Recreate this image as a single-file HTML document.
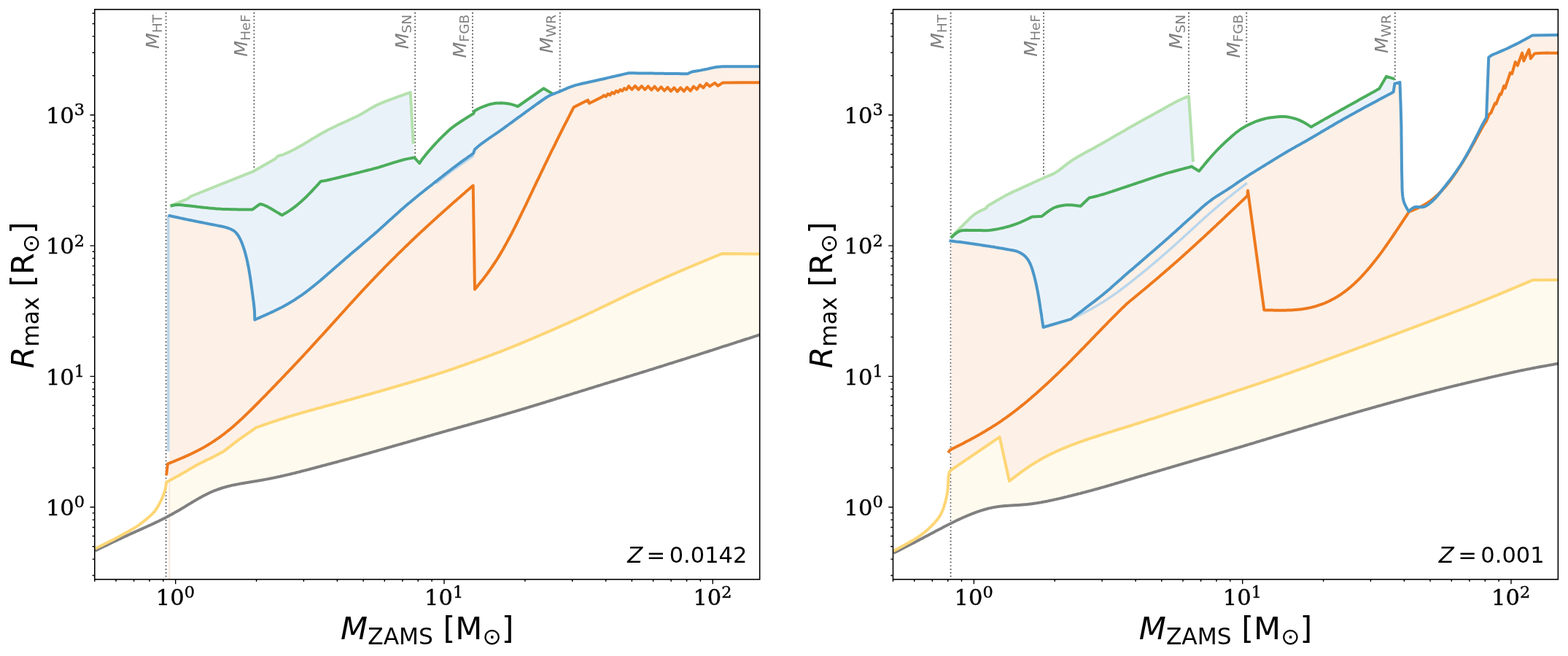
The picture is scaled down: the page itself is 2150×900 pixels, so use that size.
<!DOCTYPE html>
<html><head><meta charset="utf-8"><style>html,body{margin:0;padding:0;background:#fff;}svg{display:block}</style></head>
<body><svg width="2150" height="900" viewBox="0 0 2150 900">
<rect width="2150" height="900" fill="#fff"/>
<clipPath id="clip0"><rect x="129.8" y="13.0" width="911.9" height="781.9"/></clipPath>
<g clip-path="url(#clip0)">
<line x1="227.6" y1="17" x2="227.6" y2="795.0" stroke="#5a5a5a" stroke-width="1.9" stroke-dasharray="1.7,3.1"/>
<line x1="348.4" y1="17" x2="348.4" y2="234.6" stroke="#5a5a5a" stroke-width="1.9" stroke-dasharray="1.7,3.1"/>
<line x1="569.2" y1="17" x2="569.2" y2="216.9" stroke="#5a5a5a" stroke-width="1.9" stroke-dasharray="1.7,3.1"/>
<line x1="648.0" y1="17" x2="648.0" y2="156.6" stroke="#5a5a5a" stroke-width="1.9" stroke-dasharray="1.7,3.1"/>
<line x1="767.8" y1="17" x2="767.8" y2="125.3" stroke="#5a5a5a" stroke-width="1.9" stroke-dasharray="1.7,3.1"/>
<polygon points="231.5,659.7 232.4,659.2 235.3,657.7 238.4,656.0 241.7,654.2 245.1,652.4 248.2,650.6 250.9,649.1 253.6,647.5 256.4,645.9 259.2,644.2 262.0,642.6 264.8,640.9 267.6,639.3 270.4,637.8 273.2,636.3 276.2,634.8 279.1,633.4 282.0,631.9 284.9,630.5 287.7,629.2 290.3,627.9 292.7,626.7 296.3,624.8 299.7,623.0 302.8,621.3 305.3,619.9 307.1,618.9 308.9,617.5 311.4,615.6 314.3,613.3 317.5,610.9 320.7,608.4 323.6,606.2 326.0,604.4 329.0,602.2 331.2,600.6 333.3,599.1 336.0,597.3 338.4,595.6 341.2,593.6 344.2,591.6 347.0,589.6 349.4,587.9 351.1,586.7 352.6,586.2 354.1,585.6 355.6,585.1 357.1,584.6 358.6,584.1 360.1,583.5 361.6,583.0 363.1,582.5 364.6,582.0 366.1,581.4 367.6,580.9 369.1,580.4 370.6,579.9 372.1,579.4 373.6,578.9 375.2,578.4 376.7,577.9 378.2,577.4 379.7,576.9 381.2,576.4 382.7,575.9 384.2,575.4 385.7,574.9 387.2,574.4 388.7,574.0 390.2,573.5 391.7,573.0 393.2,572.5 394.7,572.1 396.2,571.6 397.7,571.2 399.2,570.7 400.7,570.2 402.2,569.8 403.7,569.3 405.2,568.9 406.7,568.5 408.2,568.0 409.7,567.6 411.2,567.1 412.7,566.7 414.2,566.3 415.7,565.8 417.2,565.4 418.7,565.0 420.3,564.6 421.8,564.1 423.3,563.7 424.8,563.3 426.3,562.9 427.8,562.5 429.3,562.1 430.8,561.6 432.3,561.2 433.8,560.8 435.3,560.4 436.8,560.0 438.3,559.6 439.8,559.2 441.3,558.8 442.8,558.3 444.3,557.9 445.8,557.5 447.3,557.1 448.8,556.7 450.3,556.3 451.8,555.9 453.3,555.5 454.8,555.1 456.3,554.7 457.8,554.3 459.3,553.9 460.8,553.4 462.3,553.0 463.8,552.6 465.4,552.2 466.9,551.8 468.4,551.4 469.9,551.0 471.4,550.6 472.9,550.2 474.4,549.7 475.9,549.3 477.4,548.9 478.9,548.5 480.4,548.1 481.9,547.7 483.4,547.3 484.9,546.8 486.4,546.4 487.9,546.0 489.4,545.6 490.9,545.2 492.4,544.8 493.9,544.3 495.4,543.9 496.9,543.5 498.4,543.1 499.9,542.7 501.4,542.2 502.9,541.8 504.4,541.4 505.9,541.0 507.4,540.5 508.9,540.1 510.4,539.7 512.0,539.3 513.5,538.8 515.0,538.4 516.5,538.0 518.0,537.5 519.5,537.1 521.0,536.7 522.5,536.3 524.0,535.8 525.5,535.4 527.0,535.0 528.5,534.5 530.0,534.1 531.5,533.7 533.0,533.2 534.5,532.8 536.0,532.4 537.5,531.9 539.0,531.5 540.5,531.0 542.0,530.6 543.5,530.2 545.0,529.7 546.5,529.3 548.0,528.9 549.5,528.4 551.0,528.0 552.5,527.5 554.0,527.1 555.5,526.6 557.1,526.2 558.6,525.8 560.1,525.3 561.6,524.9 563.1,524.4 564.6,524.0 566.1,523.5 567.6,523.1 569.1,522.6 570.6,522.2 572.1,521.7 573.6,521.3 575.1,520.8 576.6,520.4 578.1,519.9 579.6,519.4 581.1,519.0 582.6,518.5 584.1,518.1 585.6,517.6 587.1,517.1 588.6,516.7 590.1,516.2 591.6,515.7 593.1,515.2 594.6,514.8 596.1,514.3 597.6,513.8 599.1,513.3 600.6,512.8 602.2,512.3 603.7,511.8 605.2,511.4 606.7,510.9 608.2,510.4 609.7,509.9 611.2,509.4 612.7,508.9 614.2,508.4 615.7,507.9 617.2,507.3 618.7,506.8 620.2,506.3 621.7,505.8 623.2,505.3 624.7,504.8 626.2,504.2 627.7,503.7 629.2,503.2 630.7,502.7 632.2,502.2 633.7,501.6 635.2,501.1 636.7,500.6 638.2,500.0 639.7,499.5 641.2,499.0 642.7,498.4 644.2,497.9 645.7,497.4 647.2,496.8 648.8,496.3 650.3,495.7 651.8,495.2 653.3,494.6 654.8,494.1 656.3,493.5 657.8,493.0 659.3,492.5 660.8,491.9 662.3,491.3 663.8,490.8 665.3,490.2 666.8,489.7 668.3,489.1 669.8,488.6 671.3,488.0 672.8,487.4 674.3,486.9 675.8,486.3 677.3,485.7 678.8,485.2 680.3,484.6 681.8,484.0 683.3,483.4 684.8,482.9 686.3,482.3 687.8,481.7 689.3,481.1 690.8,480.5 692.3,479.9 693.9,479.3 695.4,478.7 696.9,478.2 698.4,477.6 699.9,477.0 701.4,476.3 702.9,475.7 704.4,475.1 705.9,474.5 707.4,473.9 708.9,473.3 710.4,472.7 711.9,472.1 713.4,471.4 714.9,470.8 716.4,470.2 717.9,469.6 719.4,468.9 720.9,468.3 722.4,467.7 723.9,467.0 725.4,466.4 726.9,465.8 728.4,465.1 729.9,464.5 731.4,463.8 732.9,463.2 734.4,462.6 735.9,461.9 737.4,461.3 738.9,460.6 740.5,460.0 742.0,459.3 743.5,458.7 745.0,458.0 746.5,457.4 748.0,456.7 749.5,456.1 751.0,455.4 752.5,454.8 754.0,454.1 755.5,453.5 757.0,452.8 758.5,452.2 760.0,451.5 761.5,450.8 763.0,450.2 764.5,449.5 766.0,448.9 767.5,448.2 769.0,447.6 770.5,446.9 772.0,446.2 773.5,445.6 775.0,444.9 776.5,444.2 778.0,443.6 779.5,442.9 781.0,442.2 782.5,441.5 784.0,440.9 785.6,440.2 787.1,439.5 788.6,438.8 790.1,438.2 791.6,437.5 793.1,436.8 794.6,436.1 796.1,435.4 797.6,434.7 799.1,434.0 800.6,433.3 802.1,432.6 803.6,431.9 805.1,431.2 806.6,430.5 808.1,429.8 809.6,429.1 811.1,428.4 812.6,427.7 814.1,427.0 815.6,426.2 817.1,425.5 818.6,424.8 820.1,424.1 821.6,423.4 823.1,422.6 824.6,421.9 826.1,421.2 827.6,420.5 829.1,419.8 830.7,419.0 832.2,418.3 833.7,417.6 835.2,416.9 836.7,416.1 838.2,415.4 839.7,414.7 841.2,414.0 842.7,413.2 844.2,412.5 845.7,411.8 847.2,411.1 848.7,410.4 850.2,409.6 851.7,408.9 853.2,408.2 854.7,407.5 856.2,406.8 857.7,406.1 859.2,405.3 860.7,404.6 862.2,403.9 863.7,403.2 865.2,402.5 866.7,401.8 868.2,401.1 869.7,400.4 871.2,399.7 872.7,399.0 874.2,398.3 875.7,397.6 877.3,396.9 878.8,396.2 880.3,395.5 881.8,394.8 883.3,394.1 884.8,393.4 886.3,392.7 887.8,392.0 889.3,391.3 890.8,390.6 892.3,389.9 893.8,389.2 895.3,388.5 896.8,387.9 898.3,387.2 899.8,386.5 901.3,385.8 902.8,385.1 904.3,384.4 905.8,383.8 907.3,383.1 908.8,382.4 910.3,381.7 911.8,381.1 913.3,380.4 914.8,379.7 916.3,379.1 917.8,378.4 919.3,377.7 920.8,377.1 922.4,376.4 923.9,375.8 925.4,375.1 926.9,374.5 928.4,373.8 929.9,373.2 931.4,372.5 932.9,371.9 934.4,371.2 935.9,370.6 937.4,369.9 938.9,369.3 940.4,368.6 941.9,368.0 943.4,367.4 944.9,366.7 946.4,366.1 947.9,365.5 949.4,364.8 950.9,364.2 952.4,363.6 953.9,362.9 955.4,362.3 956.9,361.7 958.4,361.0 959.9,360.4 961.4,359.8 962.9,359.2 964.4,358.5 965.9,357.9 967.5,357.3 969.0,356.7 970.5,356.0 972.0,355.4 973.5,354.8 975.0,354.2 976.5,353.6 978.0,352.9 979.5,352.3 981.0,351.7 982.5,351.1 984.0,350.5 985.5,349.9 987.0,349.2 988.5,348.6 990.0,348.0 1042.0,348.5 1042.0,459.2 1040.5,459.7 1039.0,460.2 1037.5,460.7 1036.0,461.1 1034.5,461.6 1033.0,462.1 1031.5,462.6 1030.0,463.1 1028.5,463.6 1027.0,464.1 1025.5,464.6 1024.0,465.0 1022.5,465.5 1021.0,466.0 1019.5,466.5 1018.0,467.0 1016.5,467.5 1015.0,468.0 1013.5,468.4 1012.0,468.9 1010.5,469.4 1009.0,469.9 1007.5,470.4 1006.0,470.9 1004.5,471.4 1002.9,471.8 1001.4,472.3 999.9,472.8 998.4,473.3 996.9,473.8 995.4,474.3 993.9,474.7 992.4,475.2 990.9,475.7 989.4,476.2 987.9,476.7 986.4,477.2 984.9,477.7 983.4,478.1 981.9,478.6 980.4,479.1 978.9,479.6 977.4,480.1 975.9,480.6 974.4,481.0 972.9,481.5 971.4,482.0 969.9,482.5 968.4,483.0 966.9,483.4 965.4,483.9 963.9,484.4 962.4,484.9 960.9,485.4 959.4,485.9 957.9,486.3 956.4,486.8 954.9,487.3 953.4,487.8 951.9,488.3 950.4,488.7 948.9,489.2 947.4,489.7 945.9,490.2 944.4,490.6 942.9,491.1 941.4,491.6 939.9,492.1 938.4,492.6 936.9,493.0 935.4,493.5 933.9,494.0 932.4,494.5 930.9,494.9 929.4,495.4 927.8,495.9 926.3,496.4 924.8,496.8 923.3,497.3 921.8,497.8 920.3,498.3 918.8,498.7 917.3,499.2 915.8,499.7 914.3,500.2 912.8,500.6 911.3,501.1 909.8,501.6 908.3,502.1 906.8,502.5 905.3,503.0 903.8,503.5 902.3,503.9 900.8,504.4 899.3,504.9 897.8,505.3 896.3,505.8 894.8,506.3 893.3,506.8 891.8,507.2 890.3,507.7 888.8,508.2 887.3,508.6 885.8,509.1 884.3,509.6 882.8,510.0 881.3,510.5 879.8,511.0 878.3,511.4 876.8,511.9 875.3,512.4 873.8,512.8 872.3,513.3 870.8,513.7 869.3,514.2 867.8,514.7 866.3,515.1 864.8,515.6 863.3,516.1 861.8,516.5 860.3,517.0 858.8,517.5 857.3,517.9 855.8,518.4 854.3,518.8 852.8,519.3 851.2,519.8 849.7,520.2 848.2,520.7 846.7,521.2 845.2,521.6 843.7,522.1 842.2,522.5 840.7,523.0 839.2,523.5 837.7,523.9 836.2,524.4 834.7,524.9 833.2,525.3 831.7,525.8 830.2,526.2 828.7,526.7 827.2,527.2 825.7,527.6 824.2,528.1 822.7,528.6 821.2,529.0 819.7,529.5 818.2,529.9 816.7,530.4 815.2,530.9 813.7,531.3 812.2,531.8 810.7,532.3 809.2,532.7 807.7,533.2 806.2,533.7 804.7,534.1 803.2,534.6 801.7,535.1 800.2,535.5 798.7,536.0 797.2,536.4 795.7,536.9 794.2,537.4 792.7,537.8 791.2,538.3 789.7,538.8 788.2,539.2 786.7,539.7 785.2,540.2 783.7,540.6 782.2,541.1 780.7,541.6 779.2,542.0 777.7,542.5 776.2,543.0 774.6,543.4 773.1,543.9 771.6,544.4 770.1,544.8 768.6,545.3 767.1,545.8 765.6,546.2 764.1,546.7 762.6,547.2 761.1,547.6 759.6,548.1 758.1,548.6 756.6,549.0 755.1,549.5 753.6,550.0 752.1,550.4 750.6,550.9 749.1,551.3 747.6,551.8 746.1,552.3 744.6,552.7 743.1,553.2 741.6,553.6 740.1,554.1 738.6,554.6 737.1,555.0 735.6,555.5 734.1,555.9 732.6,556.4 731.1,556.9 729.6,557.3 728.1,557.8 726.6,558.2 725.1,558.7 723.6,559.1 722.1,559.6 720.6,560.1 719.1,560.5 717.6,561.0 716.1,561.4 714.6,561.9 713.1,562.3 711.6,562.8 710.1,563.2 708.6,563.7 707.1,564.1 705.6,564.6 704.1,565.0 702.6,565.4 701.1,565.9 699.5,566.3 698.0,566.8 696.5,567.2 695.0,567.7 693.5,568.1 692.0,568.5 690.5,569.0 689.0,569.4 687.5,569.8 686.0,570.3 684.5,570.7 683.0,571.2 681.5,571.6 680.0,572.0 678.5,572.5 677.0,572.9 675.5,573.3 674.0,573.7 672.5,574.2 671.0,574.6 669.5,575.0 668.0,575.5 666.5,575.9 665.0,576.3 663.5,576.8 662.0,577.2 660.5,577.6 659.0,578.0 657.5,578.5 656.0,578.9 654.5,579.3 653.0,579.7 651.5,580.2 650.0,580.6 648.5,581.0 647.0,581.4 645.5,581.9 644.0,582.3 642.5,582.7 641.0,583.1 639.5,583.6 638.0,584.0 636.5,584.4 635.0,584.8 633.5,585.2 632.0,585.7 630.5,586.1 629.0,586.5 627.5,586.9 626.0,587.4 624.5,587.8 622.9,588.2 621.4,588.6 619.9,589.1 618.4,589.5 616.9,589.9 615.4,590.3 613.9,590.7 612.4,591.2 610.9,591.6 609.4,592.0 607.9,592.4 606.4,592.9 604.9,593.3 603.4,593.7 601.9,594.2 600.4,594.6 598.9,595.0 597.4,595.4 595.9,595.9 594.4,596.3 592.9,596.7 591.4,597.1 589.9,597.6 588.4,598.0 586.9,598.4 585.4,598.9 583.9,599.3 582.4,599.7 580.9,600.2 579.4,600.6 577.9,601.0 576.4,601.4 574.9,601.9 573.4,602.3 571.9,602.7 570.4,603.2 568.9,603.6 567.4,604.0 565.9,604.5 564.4,604.9 562.9,605.3 561.4,605.8 559.9,606.2 558.4,606.6 556.9,607.1 555.4,607.5 553.9,607.9 552.4,608.3 550.9,608.8 549.4,609.2 547.8,609.6 546.3,610.1 544.8,610.5 543.3,610.9 541.8,611.4 540.3,611.8 538.8,612.2 537.3,612.7 535.8,613.1 534.3,613.5 532.8,613.9 531.3,614.4 529.8,614.8 528.3,615.2 526.8,615.7 525.3,616.1 523.8,616.5 522.3,616.9 520.8,617.4 519.3,617.8 517.8,618.2 516.3,618.7 514.8,619.1 513.3,619.5 511.8,619.9 510.3,620.4 508.8,620.8 507.3,621.2 505.8,621.6 504.3,622.1 502.8,622.5 501.3,622.9 499.8,623.3 498.3,623.7 496.8,624.2 495.3,624.6 493.8,625.0 492.3,625.4 490.8,625.8 489.3,626.3 487.8,626.7 486.3,627.1 484.8,627.5 483.3,627.9 481.8,628.3 480.3,628.7 478.8,629.2 477.3,629.6 475.8,630.0 474.3,630.4 472.8,630.8 471.2,631.2 469.7,631.6 468.2,632.0 466.7,632.4 465.2,632.9 463.7,633.3 462.2,633.7 460.7,634.1 459.2,634.5 457.7,634.9 456.2,635.3 454.7,635.7 453.2,636.1 451.7,636.5 450.2,636.9 448.7,637.3 447.2,637.7 445.7,638.1 444.2,638.5 442.7,638.9 441.2,639.3 439.7,639.7 438.2,640.1 436.7,640.5 435.2,640.9 433.7,641.3 432.2,641.7 430.7,642.1 429.2,642.5 427.7,642.9 426.2,643.3 424.7,643.7 423.2,644.1 421.7,644.5 420.2,644.9 418.7,645.3 417.2,645.6 415.7,646.0 414.2,646.4 412.7,646.8 411.2,647.2 409.7,647.6 408.2,647.9 406.7,648.3 405.2,648.7 403.7,649.1 402.2,649.4 400.7,649.8 399.2,650.2 397.7,650.5 396.1,650.9 394.6,651.2 393.1,651.6 391.6,651.9 390.1,652.3 388.6,652.6 387.1,653.0 385.6,653.3 384.1,653.7 382.6,654.0 381.1,654.3 379.6,654.6 378.1,655.0 376.6,655.3 375.1,655.6 373.6,655.9 372.1,656.2 370.6,656.5 369.1,656.8 367.6,657.1 366.1,657.4 364.6,657.6 363.1,657.9 361.6,658.2 360.1,658.5 358.6,658.7 357.1,659.0 355.6,659.3 354.1,659.5 352.6,659.8 351.1,660.0 349.6,660.3 348.1,660.5 346.6,660.8 345.1,661.0 343.6,661.3 342.1,661.5 340.6,661.8 339.1,662.0 337.6,662.3 336.1,662.5 334.6,662.8 333.1,663.0 331.6,663.3 330.1,663.6 328.6,663.8 327.1,664.1 325.6,664.4 324.1,664.7 322.6,665.0 321.1,665.3 319.5,665.6 318.0,665.9 316.5,666.3 315.0,666.6 313.5,667.0 312.0,667.4 310.5,667.8 309.0,668.2 307.5,668.6 306.0,669.0 304.5,669.5 303.0,670.0 301.5,670.5 300.0,671.0 298.5,671.5 297.0,672.1 295.5,672.6 294.0,673.2 292.5,673.8 291.0,674.5 289.5,675.1 288.0,675.8 286.5,676.5 285.0,677.2 283.5,677.9 282.0,678.7 280.5,679.5 279.0,680.2 277.5,681.0 276.0,681.9 274.5,682.7 273.0,683.5 271.5,684.4 270.0,685.2 268.5,686.1 267.0,687.0 265.5,687.9 264.0,688.8 262.5,689.7 261.0,690.6 259.5,691.5 258.0,692.4 256.5,693.3 255.0,694.2 253.5,695.2 252.0,696.1 250.5,697.0 249.0,697.9 247.5,698.8 246.0,699.7 244.5,700.5 242.9,701.4 241.4,702.3 239.9,703.1 238.4,704.0 236.9,704.8 235.4,705.7 233.9,706.5 232.4,707.3 231.5,707.8" fill="#fffaee"/>
<polygon points="231.5,295.7 232.8,296.0 235.9,296.7 239.4,297.5 243.2,298.3 246.8,299.1 250.0,299.8 253.3,300.5 256.3,301.1 259.2,301.7 262.1,302.3 265.0,302.9 268.0,303.5 271.1,304.1 274.2,304.7 277.2,305.3 280.0,305.9 283.2,306.5 286.1,307.1 289.0,307.7 292.0,308.3 295.3,308.9 298.8,309.6 302.1,310.2 305.0,310.8 309.4,311.9 313.0,313.0 316.7,314.5 320.0,316.2 322.4,318.0 324.5,320.3 326.7,323.3 328.9,327.2 330.1,329.6 331.2,332.3 332.4,335.3 333.6,338.6 334.6,341.6 335.6,344.9 336.6,348.4 337.5,352.0 338.4,355.6 339.1,358.6 339.7,361.5 340.3,364.5 340.9,367.6 341.5,370.9 342.1,374.5 342.6,377.5 343.1,380.7 343.6,384.0 344.1,387.5 344.5,390.9 345.0,394.4 345.5,397.7 345.9,400.9 346.4,404.4 346.8,407.9 347.3,411.3 347.7,414.6 348.1,417.8 348.4,420.8 348.7,423.6 349.0,427.3 349.1,430.9 349.2,434.1 349.3,436.8 349.3,438.7 350.8,438.0 352.3,437.4 353.8,436.7 355.3,436.1 356.8,435.4 358.3,434.7 359.8,434.0 361.3,433.4 362.9,432.7 364.4,432.0 365.9,431.3 367.4,430.7 368.9,430.0 370.4,429.3 371.9,428.6 373.4,427.9 374.9,427.2 376.4,426.4 377.9,425.7 379.4,425.0 380.9,424.2 382.4,423.5 383.9,422.7 385.4,422.0 387.0,421.2 388.5,420.4 390.0,419.6 391.5,418.7 393.0,417.9 394.5,417.1 396.0,416.2 397.5,415.3 399.0,414.4 400.5,413.5 402.0,412.6 403.5,411.6 405.0,410.7 406.5,409.7 408.0,408.7 409.5,407.7 411.0,406.7 412.6,405.6 414.1,404.6 415.6,403.5 417.1,402.4 418.6,401.3 420.1,400.2 421.6,399.0 423.1,397.9 424.6,396.7 426.1,395.5 427.6,394.3 429.1,393.1 430.6,391.9 432.1,390.7 433.6,389.5 435.1,388.2 436.6,387.0 438.2,385.7 439.7,384.4 441.2,383.1 442.7,381.9 444.2,380.6 445.7,379.3 447.2,378.0 448.7,376.6 450.2,375.3 451.7,374.0 453.2,372.7 454.7,371.4 456.2,370.1 457.7,368.8 459.2,367.4 460.7,366.1 462.3,364.8 463.8,363.5 465.3,362.2 466.8,360.8 468.3,359.5 469.8,358.2 471.3,356.9 472.8,355.6 474.3,354.3 475.8,353.0 477.3,351.7 478.8,350.4 480.3,349.1 481.8,347.8 483.3,346.6 484.8,345.3 486.3,344.0 487.9,342.7 489.4,341.5 490.9,340.2 492.4,338.9 493.9,337.7 495.4,336.4 496.9,335.1 498.4,333.8 499.9,332.5 501.4,331.3 502.9,330.0 504.4,328.7 505.9,327.4 507.4,326.1 508.9,324.8 510.4,323.5 512.0,322.2 513.5,320.8 515.0,319.5 516.5,318.2 518.0,316.9 519.5,315.5 521.0,314.2 522.5,312.8 524.0,311.5 525.5,310.1 527.0,308.7 528.5,307.4 530.0,306.0 531.5,304.6 533.0,303.3 534.5,301.9 536.0,300.5 537.6,299.2 539.1,297.8 540.6,296.4 542.1,295.1 543.6,293.7 545.1,292.4 546.6,291.0 548.1,289.7 549.6,288.3 551.1,287.0 552.6,285.7 554.1,284.4 555.6,283.1 557.1,281.8 558.6,280.5 560.1,279.2 561.7,278.0 563.2,276.7 564.7,275.4 566.2,274.2 567.7,273.0 569.2,271.7 570.7,270.5 572.2,269.3 573.7,268.0 575.2,266.8 576.7,265.6 578.2,264.4 579.7,263.2 581.2,262.0 582.7,260.8 584.2,259.6 585.7,258.4 587.3,257.2 588.8,256.0 590.3,254.9 591.8,253.7 593.3,252.5 594.8,251.3 596.3,250.1 597.8,248.9 599.3,247.7 600.8,246.5 602.3,245.3 603.8,244.1 605.3,243.0 606.8,241.8 608.3,240.6 609.8,239.4 611.3,238.2 612.9,237.0 614.4,235.8 615.9,234.7 617.4,233.5 618.9,232.3 620.4,231.2 621.9,230.0 623.4,228.9 624.9,227.8 626.4,226.6 627.9,225.5 629.4,224.4 630.9,223.3 632.4,222.2 633.9,221.1 635.4,220.0 637.0,218.9 638.5,217.8 640.0,216.8 641.5,215.7 643.0,214.7 644.5,213.6 646.0,212.6 647.5,211.5 649.0,210.5 651.0,205.0 652.7,203.4 655.4,201.0 660.0,197.3 662.0,195.9 664.2,194.3 666.7,192.5 669.4,190.7 672.2,188.7 675.2,186.7 678.1,184.7 681.1,182.6 684.0,180.6 686.7,178.7 689.4,176.8 692.0,174.9 694.7,172.9 697.3,171.0 700.0,169.0 702.7,167.1 705.3,165.1 708.0,163.2 710.6,161.2 713.3,159.3 716.0,157.3 718.8,155.3 721.7,153.2 724.6,151.1 727.5,149.0 730.3,147.0 733.0,145.0 735.5,143.2 737.9,141.5 740.0,140.0 743.5,137.5 746.3,135.6 748.6,134.0 750.8,132.7 753.3,131.3 756.7,129.7 760.2,128.3 763.6,127.0 766.7,125.8 770.1,124.4 773.0,123.1 776.0,121.8 779.2,120.4 782.6,119.1 786.3,117.8 789.3,116.9 792.4,116.1 795.9,115.3 800.0,114.3 802.8,113.7 805.9,113.0 809.3,112.2 812.7,111.5 816.2,110.7 819.5,110.0 822.5,109.3 826.3,108.5 829.7,107.7 832.9,106.9 836.3,106.1 840.0,105.3 843.1,104.6 846.6,103.8 850.2,103.0 853.8,102.1 857.0,101.4 859.8,100.8 861.8,100.3 863.5,100.3 865.5,100.3 867.9,100.3 870.7,100.3 874.0,100.4 877.7,100.4 881.9,100.4 886.7,100.5 889.1,100.5 891.9,100.6 894.9,100.6 898.1,100.7 901.6,100.7 905.1,100.8 908.8,100.8 912.5,100.9 916.3,100.9 919.9,101.0 923.6,101.0 927.0,101.1 930.3,101.1 933.4,101.2 936.2,101.2 938.8,101.2 940.9,101.3 942.7,101.3 948.0,98.7 950.1,98.3 953.0,97.8 956.4,97.2 960.0,96.6 963.6,95.9 966.7,95.3 970.1,94.6 973.4,93.8 976.6,93.1 979.6,92.5 982.2,92.0 987.6,91.4 991.1,91.3 1042.0,91.3 1042.0,348.5 990.0,348.0 988.5,348.6 987.0,349.2 985.5,349.9 984.0,350.5 982.5,351.1 981.0,351.7 979.5,352.3 978.0,352.9 976.5,353.6 975.0,354.2 973.5,354.8 972.0,355.4 970.5,356.0 969.0,356.7 967.5,357.3 965.9,357.9 964.4,358.5 962.9,359.2 961.4,359.8 959.9,360.4 958.4,361.0 956.9,361.7 955.4,362.3 953.9,362.9 952.4,363.6 950.9,364.2 949.4,364.8 947.9,365.5 946.4,366.1 944.9,366.7 943.4,367.4 941.9,368.0 940.4,368.6 938.9,369.3 937.4,369.9 935.9,370.6 934.4,371.2 932.9,371.9 931.4,372.5 929.9,373.2 928.4,373.8 926.9,374.5 925.4,375.1 923.9,375.8 922.4,376.4 920.8,377.1 919.3,377.7 917.8,378.4 916.3,379.1 914.8,379.7 913.3,380.4 911.8,381.1 910.3,381.7 908.8,382.4 907.3,383.1 905.8,383.8 904.3,384.4 902.8,385.1 901.3,385.8 899.8,386.5 898.3,387.2 896.8,387.9 895.3,388.5 893.8,389.2 892.3,389.9 890.8,390.6 889.3,391.3 887.8,392.0 886.3,392.7 884.8,393.4 883.3,394.1 881.8,394.8 880.3,395.5 878.8,396.2 877.3,396.9 875.7,397.6 874.2,398.3 872.7,399.0 871.2,399.7 869.7,400.4 868.2,401.1 866.7,401.8 865.2,402.5 863.7,403.2 862.2,403.9 860.7,404.6 859.2,405.3 857.7,406.1 856.2,406.8 854.7,407.5 853.2,408.2 851.7,408.9 850.2,409.6 848.7,410.4 847.2,411.1 845.7,411.8 844.2,412.5 842.7,413.2 841.2,414.0 839.7,414.7 838.2,415.4 836.7,416.1 835.2,416.9 833.7,417.6 832.2,418.3 830.7,419.0 829.1,419.8 827.6,420.5 826.1,421.2 824.6,421.9 823.1,422.6 821.6,423.4 820.1,424.1 818.6,424.8 817.1,425.5 815.6,426.2 814.1,427.0 812.6,427.7 811.1,428.4 809.6,429.1 808.1,429.8 806.6,430.5 805.1,431.2 803.6,431.9 802.1,432.6 800.6,433.3 799.1,434.0 797.6,434.7 796.1,435.4 794.6,436.1 793.1,436.8 791.6,437.5 790.1,438.2 788.6,438.8 787.1,439.5 785.6,440.2 784.0,440.9 782.5,441.5 781.0,442.2 779.5,442.9 778.0,443.6 776.5,444.2 775.0,444.9 773.5,445.6 772.0,446.2 770.5,446.9 769.0,447.6 767.5,448.2 766.0,448.9 764.5,449.5 763.0,450.2 761.5,450.8 760.0,451.5 758.5,452.2 757.0,452.8 755.5,453.5 754.0,454.1 752.5,454.8 751.0,455.4 749.5,456.1 748.0,456.7 746.5,457.4 745.0,458.0 743.5,458.7 742.0,459.3 740.5,460.0 738.9,460.6 737.4,461.3 735.9,461.9 734.4,462.6 732.9,463.2 731.4,463.8 729.9,464.5 728.4,465.1 726.9,465.8 725.4,466.4 723.9,467.0 722.4,467.7 720.9,468.3 719.4,468.9 717.9,469.6 716.4,470.2 714.9,470.8 713.4,471.4 711.9,472.1 710.4,472.7 708.9,473.3 707.4,473.9 705.9,474.5 704.4,475.1 702.9,475.7 701.4,476.3 699.9,477.0 698.4,477.6 696.9,478.2 695.4,478.7 693.9,479.3 692.3,479.9 690.8,480.5 689.3,481.1 687.8,481.7 686.3,482.3 684.8,482.9 683.3,483.4 681.8,484.0 680.3,484.6 678.8,485.2 677.3,485.7 675.8,486.3 674.3,486.9 672.8,487.4 671.3,488.0 669.8,488.6 668.3,489.1 666.8,489.7 665.3,490.2 663.8,490.8 662.3,491.3 660.8,491.9 659.3,492.5 657.8,493.0 656.3,493.5 654.8,494.1 653.3,494.6 651.8,495.2 650.3,495.7 648.8,496.3 647.2,496.8 645.7,497.4 644.2,497.9 642.7,498.4 641.2,499.0 639.7,499.5 638.2,500.0 636.7,500.6 635.2,501.1 633.7,501.6 632.2,502.2 630.7,502.7 629.2,503.2 627.7,503.7 626.2,504.2 624.7,504.8 623.2,505.3 621.7,505.8 620.2,506.3 618.7,506.8 617.2,507.3 615.7,507.9 614.2,508.4 612.7,508.9 611.2,509.4 609.7,509.9 608.2,510.4 606.7,510.9 605.2,511.4 603.7,511.8 602.2,512.3 600.6,512.8 599.1,513.3 597.6,513.8 596.1,514.3 594.6,514.8 593.1,515.2 591.6,515.7 590.1,516.2 588.6,516.7 587.1,517.1 585.6,517.6 584.1,518.1 582.6,518.5 581.1,519.0 579.6,519.4 578.1,519.9 576.6,520.4 575.1,520.8 573.6,521.3 572.1,521.7 570.6,522.2 569.1,522.6 567.6,523.1 566.1,523.5 564.6,524.0 563.1,524.4 561.6,524.9 560.1,525.3 558.6,525.8 557.1,526.2 555.5,526.6 554.0,527.1 552.5,527.5 551.0,528.0 549.5,528.4 548.0,528.9 546.5,529.3 545.0,529.7 543.5,530.2 542.0,530.6 540.5,531.0 539.0,531.5 537.5,531.9 536.0,532.4 534.5,532.8 533.0,533.2 531.5,533.7 530.0,534.1 528.5,534.5 527.0,535.0 525.5,535.4 524.0,535.8 522.5,536.3 521.0,536.7 519.5,537.1 518.0,537.5 516.5,538.0 515.0,538.4 513.5,538.8 512.0,539.3 510.4,539.7 508.9,540.1 507.4,540.5 505.9,541.0 504.4,541.4 502.9,541.8 501.4,542.2 499.9,542.7 498.4,543.1 496.9,543.5 495.4,543.9 493.9,544.3 492.4,544.8 490.9,545.2 489.4,545.6 487.9,546.0 486.4,546.4 484.9,546.8 483.4,547.3 481.9,547.7 480.4,548.1 478.9,548.5 477.4,548.9 475.9,549.3 474.4,549.7 472.9,550.2 471.4,550.6 469.9,551.0 468.4,551.4 466.9,551.8 465.4,552.2 463.8,552.6 462.3,553.0 460.8,553.4 459.3,553.9 457.8,554.3 456.3,554.7 454.8,555.1 453.3,555.5 451.8,555.9 450.3,556.3 448.8,556.7 447.3,557.1 445.8,557.5 444.3,557.9 442.8,558.3 441.3,558.8 439.8,559.2 438.3,559.6 436.8,560.0 435.3,560.4 433.8,560.8 432.3,561.2 430.8,561.6 429.3,562.1 427.8,562.5 426.3,562.9 424.8,563.3 423.3,563.7 421.8,564.1 420.3,564.6 418.7,565.0 417.2,565.4 415.7,565.8 414.2,566.3 412.7,566.7 411.2,567.1 409.7,567.6 408.2,568.0 406.7,568.5 405.2,568.9 403.7,569.3 402.2,569.8 400.7,570.2 399.2,570.7 397.7,571.2 396.2,571.6 394.7,572.1 393.2,572.5 391.7,573.0 390.2,573.5 388.7,574.0 387.2,574.4 385.7,574.9 384.2,575.4 382.7,575.9 381.2,576.4 379.7,576.9 378.2,577.4 376.7,577.9 375.2,578.4 373.6,578.9 372.1,579.4 370.6,579.9 369.1,580.4 367.6,580.9 366.1,581.4 364.6,582.0 363.1,582.5 361.6,583.0 360.1,583.5 358.6,584.1 357.1,584.6 355.6,585.1 354.1,585.6 352.6,586.2 351.1,586.7 349.4,587.9 347.0,589.6 344.2,591.6 341.2,593.6 338.4,595.6 336.0,597.3 333.3,599.1 331.2,600.6 329.0,602.2 326.0,604.4 323.6,606.2 320.7,608.4 317.5,610.9 314.3,613.3 311.4,615.6 308.9,617.5 307.1,618.9 305.3,619.9 302.8,621.3 299.7,623.0 296.3,624.8 292.7,626.7 290.3,627.9 287.7,629.2 284.9,630.5 282.0,631.9 279.1,633.4 276.2,634.8 273.2,636.3 270.4,637.8 267.6,639.3 264.8,640.9 262.0,642.6 259.2,644.2 256.4,645.9 253.6,647.5 250.9,649.1 248.2,650.6 245.1,652.4 241.7,654.2 238.4,656.0 235.3,657.7 232.4,659.2 231.5,659.7" fill="#fdf0e6"/>
<polygon points="232.5,282.8 232.8,282.8 257.3,272.7 261.3,269.5 348.0,234.8 377.3,218.0 379.0,216.1 381.3,214.0 384.2,213.1 386.7,212.7 388.3,212.0 390.4,211.1 392.8,210.1 395.7,208.8 398.9,207.3 402.6,205.5 406.7,203.3 408.8,202.1 411.1,200.8 413.5,199.4 416.1,197.9 418.8,196.3 421.6,194.6 424.4,192.9 427.3,191.1 430.2,189.4 433.1,187.7 436.0,186.0 438.8,184.3 441.5,182.8 444.2,181.3 446.7,179.9 449.8,178.3 452.8,176.7 455.9,175.2 459.0,173.7 462.0,172.3 464.9,170.9 467.8,169.6 470.5,168.4 473.1,167.2 475.6,166.1 477.9,165.0 480.0,164.0 484.0,162.1 486.8,160.8 489.2,159.7 491.7,158.5 495.0,156.7 497.2,155.4 499.5,154.1 501.9,152.6 504.5,151.0 507.1,149.4 510.0,147.8 513.1,146.1 516.4,144.4 520.0,142.7 522.4,141.7 525.1,140.5 528.1,139.4 531.2,138.2 534.5,136.9 537.9,135.7 541.2,134.4 544.6,133.2 547.8,132.0 551.0,130.9 553.9,129.9 556.6,128.9 559.0,128.0 561.1,127.3 562.7,126.7 566.7,197.3 568.3,215.8 575.3,224.0 577.0,221.2 580.0,217.0 581.7,214.9 583.6,212.5 585.7,210.0 587.9,207.4 590.0,205.0 592.5,202.2 595.0,199.4 597.5,196.7 600.0,194.0 602.5,191.4 605.0,188.9 607.5,186.4 610.0,184.0 612.5,181.6 615.0,179.3 617.5,177.1 620.0,175.0 622.5,173.1 625.0,171.3 627.5,169.7 630.0,168.0 633.4,165.8 636.7,163.6 640.0,161.5 643.4,159.4 646.7,157.4 649.0,156.0 651.0,152.0 653.2,150.8 656.3,149.0 660.0,147.3 663.0,146.1 666.4,144.8 669.9,143.6 673.3,142.7 676.6,142.1 680.0,141.6 683.4,141.4 686.7,141.3 690.1,141.5 693.6,141.8 696.9,142.3 700.0,142.9 703.9,143.9 707.5,145.1 710.0,146.0 745.3,121.3 759.3,129.6 760.0,129.6 760.0,128.4 756.7,129.7 753.3,131.3 750.8,132.7 748.6,134.0 746.3,135.6 743.5,137.5 740.0,140.0 737.9,141.5 735.5,143.2 733.0,145.0 730.3,147.0 727.5,149.0 724.6,151.1 721.7,153.2 718.8,155.3 716.0,157.3 713.3,159.3 710.6,161.2 708.0,163.2 705.3,165.1 702.7,167.1 700.0,169.0 697.3,171.0 694.7,172.9 692.0,174.9 689.4,176.8 686.7,178.7 684.0,180.6 681.1,182.6 678.1,184.7 675.2,186.7 672.2,188.7 669.4,190.7 666.7,192.5 664.2,194.3 662.0,195.9 660.0,197.3 655.4,201.0 652.7,203.4 651.0,205.0 649.0,210.5 647.5,211.5 646.0,212.6 644.5,213.6 643.0,214.7 641.5,215.7 640.0,216.8 638.5,217.8 637.0,218.9 635.4,220.0 633.9,221.1 632.4,222.2 630.9,223.3 629.4,224.4 627.9,225.5 626.4,226.6 624.9,227.8 623.4,228.9 621.9,230.0 620.4,231.2 618.9,232.3 617.4,233.5 615.9,234.7 614.4,235.8 612.9,237.0 611.3,238.2 609.8,239.4 608.3,240.6 606.8,241.8 605.3,243.0 603.8,244.1 602.3,245.3 600.8,246.5 599.3,247.7 597.8,248.9 596.3,250.1 594.8,251.3 593.3,252.5 591.8,253.7 590.3,254.9 588.8,256.0 587.3,257.2 585.7,258.4 584.2,259.6 582.7,260.8 581.2,262.0 579.7,263.2 578.2,264.4 576.7,265.6 575.2,266.8 573.7,268.0 572.2,269.3 570.7,270.5 569.2,271.7 567.7,273.0 566.2,274.2 564.7,275.4 563.2,276.7 561.7,278.0 560.1,279.2 558.6,280.5 557.1,281.8 555.6,283.1 554.1,284.4 552.6,285.7 551.1,287.0 549.6,288.3 548.1,289.7 546.6,291.0 545.1,292.4 543.6,293.7 542.1,295.1 540.6,296.4 539.1,297.8 537.6,299.2 536.0,300.5 534.5,301.9 533.0,303.3 531.5,304.6 530.0,306.0 528.5,307.4 527.0,308.7 525.5,310.1 524.0,311.5 522.5,312.8 521.0,314.2 519.5,315.5 518.0,316.9 516.5,318.2 515.0,319.5 513.5,320.8 512.0,322.2 510.4,323.5 508.9,324.8 507.4,326.1 505.9,327.4 504.4,328.7 502.9,330.0 501.4,331.3 499.9,332.5 498.4,333.8 496.9,335.1 495.4,336.4 493.9,337.7 492.4,338.9 490.9,340.2 489.4,341.5 487.9,342.7 486.3,344.0 484.8,345.3 483.3,346.6 481.8,347.8 480.3,349.1 478.8,350.4 477.3,351.7 475.8,353.0 474.3,354.3 472.8,355.6 471.3,356.9 469.8,358.2 468.3,359.5 466.8,360.8 465.3,362.2 463.8,363.5 462.3,364.8 460.7,366.1 459.2,367.4 457.7,368.8 456.2,370.1 454.7,371.4 453.2,372.7 451.7,374.0 450.2,375.3 448.7,376.6 447.2,378.0 445.7,379.3 444.2,380.6 442.7,381.9 441.2,383.1 439.7,384.4 438.2,385.7 436.6,387.0 435.1,388.2 433.6,389.5 432.1,390.7 430.6,391.9 429.1,393.1 427.6,394.3 426.1,395.5 424.6,396.7 423.1,397.9 421.6,399.0 420.1,400.2 418.6,401.3 417.1,402.4 415.6,403.5 414.1,404.6 412.6,405.6 411.0,406.7 409.5,407.7 408.0,408.7 406.5,409.7 405.0,410.7 403.5,411.6 402.0,412.6 400.5,413.5 399.0,414.4 397.5,415.3 396.0,416.2 394.5,417.1 393.0,417.9 391.5,418.7 390.0,419.6 388.5,420.4 387.0,421.2 385.4,422.0 383.9,422.7 382.4,423.5 380.9,424.2 379.4,425.0 377.9,425.7 376.4,426.4 374.9,427.2 373.4,427.9 371.9,428.6 370.4,429.3 368.9,430.0 367.4,430.7 365.9,431.3 364.4,432.0 362.9,432.7 361.3,433.4 359.8,434.0 358.3,434.7 356.8,435.4 355.3,436.1 353.8,436.7 352.3,437.4 350.8,438.0 349.3,438.7 349.3,436.8 349.2,434.1 349.1,430.9 349.0,427.3 348.7,423.6 348.4,420.8 348.1,417.8 347.7,414.6 347.3,411.3 346.8,407.9 346.4,404.4 345.9,400.9 345.5,397.7 345.0,394.4 344.5,390.9 344.1,387.5 343.6,384.0 343.1,380.7 342.6,377.5 342.1,374.5 341.5,370.9 340.9,367.6 340.3,364.5 339.7,361.5 339.1,358.6 338.4,355.6 337.5,352.0 336.6,348.4 335.6,344.9 334.6,341.6 333.6,338.6 332.4,335.3 331.2,332.3 330.1,329.6 328.9,327.2 326.7,323.3 324.5,320.3 322.4,318.0 320.0,316.2 316.7,314.5 313.0,313.0 309.4,311.9 305.0,310.8 302.1,310.2 298.8,309.6 295.3,308.9 292.0,308.3 289.0,307.7 286.1,307.1 283.2,306.5 280.0,305.9 277.2,305.3 274.2,304.7 271.1,304.1 268.0,303.5 265.0,302.9 262.1,302.3 259.2,301.7 256.3,301.1 253.3,300.5 250.0,299.8 246.8,299.1 243.2,298.3 239.4,297.5 235.9,296.7 232.8,296.0 232.5,295.9" fill="#eaf2f9"/>
<line x1="232.3" y1="660" x2="232.3" y2="795" stroke="#f6e6da" stroke-width="2"/>
<path d="M230.8,295.3 L230.8,619.3" fill="none" stroke="#b9d6ec" stroke-width="3.40" stroke-linejoin="round" stroke-linecap="butt"/>
<path d="M598.0,251.5 L620.0,234.0 L649.5,213.5" fill="none" stroke="#b9d6ec" stroke-width="3.40" stroke-linejoin="round" stroke-linecap="butt"/>
<path d="M130.3,755.7 L131.8,755.0 L133.3,754.2 L134.8,753.5 L136.3,752.8 L137.8,752.0 L139.3,751.3 L140.8,750.6 L142.3,749.8 L143.8,749.1 L145.3,748.4 L146.8,747.7 L148.3,746.9 L149.8,746.2 L151.3,745.5 L152.8,744.8 L154.3,744.0 L155.8,743.3 L157.3,742.6 L158.8,741.9 L160.3,741.2 L161.8,740.5 L163.3,739.8 L164.8,739.1 L166.3,738.4 L167.8,737.7 L169.4,737.0 L170.9,736.3 L172.4,735.6 L173.9,734.9 L175.4,734.2 L176.9,733.5 L178.4,732.8 L179.9,732.1 L181.4,731.4 L182.9,730.8 L184.4,730.1 L185.9,729.4 L187.4,728.7 L188.9,728.1 L190.4,727.4 L191.9,726.7 L193.4,726.1 L194.9,725.4 L196.4,724.7 L197.9,724.0 L199.4,723.4 L200.9,722.7 L202.4,722.0 L203.9,721.3 L205.4,720.6 L206.9,720.0 L208.4,719.3 L209.9,718.6 L211.4,717.9 L212.9,717.1 L214.4,716.4 L215.9,715.7 L217.4,715.0 L218.9,714.3 L220.4,713.5 L221.9,712.8 L223.4,712.0 L224.9,711.2 L226.4,710.5 L227.9,709.7 L229.4,708.9 L230.9,708.1 L232.4,707.3 L233.9,706.5 L235.4,705.7 L236.9,704.8 L238.4,704.0 L239.9,703.1 L241.4,702.3 L242.9,701.4 L244.5,700.5 L246.0,699.7 L247.5,698.8 L249.0,697.9 L250.5,697.0 L252.0,696.1 L253.5,695.2 L255.0,694.2 L256.5,693.3 L258.0,692.4 L259.5,691.5 L261.0,690.6 L262.5,689.7 L264.0,688.8 L265.5,687.9 L267.0,687.0 L268.5,686.1 L270.0,685.2 L271.5,684.4 L273.0,683.5 L274.5,682.7 L276.0,681.9 L277.5,681.0 L279.0,680.2 L280.5,679.5 L282.0,678.7 L283.5,677.9 L285.0,677.2 L286.5,676.5 L288.0,675.8 L289.5,675.1 L291.0,674.5 L292.5,673.8 L294.0,673.2 L295.5,672.6 L297.0,672.1 L298.5,671.5 L300.0,671.0 L301.5,670.5 L303.0,670.0 L304.5,669.5 L306.0,669.0 L307.5,668.6 L309.0,668.2 L310.5,667.8 L312.0,667.4 L313.5,667.0 L315.0,666.6 L316.5,666.3 L318.0,665.9 L319.5,665.6 L321.1,665.3 L322.6,665.0 L324.1,664.7 L325.6,664.4 L327.1,664.1 L328.6,663.8 L330.1,663.6 L331.6,663.3 L333.1,663.0 L334.6,662.8 L336.1,662.5 L337.6,662.3 L339.1,662.0 L340.6,661.8 L342.1,661.5 L343.6,661.3 L345.1,661.0 L346.6,660.8 L348.1,660.5 L349.6,660.3 L351.1,660.0 L352.6,659.8 L354.1,659.5 L355.6,659.3 L357.1,659.0 L358.6,658.7 L360.1,658.5 L361.6,658.2 L363.1,657.9 L364.6,657.6 L366.1,657.4 L367.6,657.1 L369.1,656.8 L370.6,656.5 L372.1,656.2 L373.6,655.9 L375.1,655.6 L376.6,655.3 L378.1,655.0 L379.6,654.6 L381.1,654.3 L382.6,654.0 L384.1,653.7 L385.6,653.3 L387.1,653.0 L388.6,652.6 L390.1,652.3 L391.6,651.9 L393.1,651.6 L394.6,651.2 L396.1,650.9 L397.7,650.5 L399.2,650.2 L400.7,649.8 L402.2,649.4 L403.7,649.1 L405.2,648.7 L406.7,648.3 L408.2,647.9 L409.7,647.6 L411.2,647.2 L412.7,646.8 L414.2,646.4 L415.7,646.0 L417.2,645.6 L418.7,645.3 L420.2,644.9 L421.7,644.5 L423.2,644.1 L424.7,643.7 L426.2,643.3 L427.7,642.9 L429.2,642.5 L430.7,642.1 L432.2,641.7 L433.7,641.3 L435.2,640.9 L436.7,640.5 L438.2,640.1 L439.7,639.7 L441.2,639.3 L442.7,638.9 L444.2,638.5 L445.7,638.1 L447.2,637.7 L448.7,637.3 L450.2,636.9 L451.7,636.5 L453.2,636.1 L454.7,635.7 L456.2,635.3 L457.7,634.9 L459.2,634.5 L460.7,634.1 L462.2,633.7 L463.7,633.3 L465.2,632.9 L466.7,632.4 L468.2,632.0 L469.7,631.6 L471.2,631.2 L472.8,630.8 L474.3,630.4 L475.8,630.0 L477.3,629.6 L478.8,629.2 L480.3,628.7 L481.8,628.3 L483.3,627.9 L484.8,627.5 L486.3,627.1 L487.8,626.7 L489.3,626.3 L490.8,625.8 L492.3,625.4 L493.8,625.0 L495.3,624.6 L496.8,624.2 L498.3,623.7 L499.8,623.3 L501.3,622.9 L502.8,622.5 L504.3,622.1 L505.8,621.6 L507.3,621.2 L508.8,620.8 L510.3,620.4 L511.8,619.9 L513.3,619.5 L514.8,619.1 L516.3,618.7 L517.8,618.2 L519.3,617.8 L520.8,617.4 L522.3,616.9 L523.8,616.5 L525.3,616.1 L526.8,615.7 L528.3,615.2 L529.8,614.8 L531.3,614.4 L532.8,613.9 L534.3,613.5 L535.8,613.1 L537.3,612.7 L538.8,612.2 L540.3,611.8 L541.8,611.4 L543.3,610.9 L544.8,610.5 L546.3,610.1 L547.8,609.6 L549.4,609.2 L550.9,608.8 L552.4,608.3 L553.9,607.9 L555.4,607.5 L556.9,607.1 L558.4,606.6 L559.9,606.2 L561.4,605.8 L562.9,605.3 L564.4,604.9 L565.9,604.5 L567.4,604.0 L568.9,603.6 L570.4,603.2 L571.9,602.7 L573.4,602.3 L574.9,601.9 L576.4,601.4 L577.9,601.0 L579.4,600.6 L580.9,600.2 L582.4,599.7 L583.9,599.3 L585.4,598.9 L586.9,598.4 L588.4,598.0 L589.9,597.6 L591.4,597.1 L592.9,596.7 L594.4,596.3 L595.9,595.9 L597.4,595.4 L598.9,595.0 L600.4,594.6 L601.9,594.2 L603.4,593.7 L604.9,593.3 L606.4,592.9 L607.9,592.4 L609.4,592.0 L610.9,591.6 L612.4,591.2 L613.9,590.7 L615.4,590.3 L616.9,589.9 L618.4,589.5 L619.9,589.1 L621.4,588.6 L622.9,588.2 L624.5,587.8 L626.0,587.4 L627.5,586.9 L629.0,586.5 L630.5,586.1 L632.0,585.7 L633.5,585.2 L635.0,584.8 L636.5,584.4 L638.0,584.0 L639.5,583.6 L641.0,583.1 L642.5,582.7 L644.0,582.3 L645.5,581.9 L647.0,581.4 L648.5,581.0 L650.0,580.6 L651.5,580.2 L653.0,579.7 L654.5,579.3 L656.0,578.9 L657.5,578.5 L659.0,578.0 L660.5,577.6 L662.0,577.2 L663.5,576.8 L665.0,576.3 L666.5,575.9 L668.0,575.5 L669.5,575.0 L671.0,574.6 L672.5,574.2 L674.0,573.7 L675.5,573.3 L677.0,572.9 L678.5,572.5 L680.0,572.0 L681.5,571.6 L683.0,571.2 L684.5,570.7 L686.0,570.3 L687.5,569.8 L689.0,569.4 L690.5,569.0 L692.0,568.5 L693.5,568.1 L695.0,567.7 L696.5,567.2 L698.0,566.8 L699.5,566.3 L701.1,565.9 L702.6,565.4 L704.1,565.0 L705.6,564.6 L707.1,564.1 L708.6,563.7 L710.1,563.2 L711.6,562.8 L713.1,562.3 L714.6,561.9 L716.1,561.4 L717.6,561.0 L719.1,560.5 L720.6,560.1 L722.1,559.6 L723.6,559.1 L725.1,558.7 L726.6,558.2 L728.1,557.8 L729.6,557.3 L731.1,556.9 L732.6,556.4 L734.1,555.9 L735.6,555.5 L737.1,555.0 L738.6,554.6 L740.1,554.1 L741.6,553.6 L743.1,553.2 L744.6,552.7 L746.1,552.3 L747.6,551.8 L749.1,551.3 L750.6,550.9 L752.1,550.4 L753.6,550.0 L755.1,549.5 L756.6,549.0 L758.1,548.6 L759.6,548.1 L761.1,547.6 L762.6,547.2 L764.1,546.7 L765.6,546.2 L767.1,545.8 L768.6,545.3 L770.1,544.8 L771.6,544.4 L773.1,543.9 L774.6,543.4 L776.2,543.0 L777.7,542.5 L779.2,542.0 L780.7,541.6 L782.2,541.1 L783.7,540.6 L785.2,540.2 L786.7,539.7 L788.2,539.2 L789.7,538.8 L791.2,538.3 L792.7,537.8 L794.2,537.4 L795.7,536.9 L797.2,536.4 L798.7,536.0 L800.2,535.5 L801.7,535.1 L803.2,534.6 L804.7,534.1 L806.2,533.7 L807.7,533.2 L809.2,532.7 L810.7,532.3 L812.2,531.8 L813.7,531.3 L815.2,530.9 L816.7,530.4 L818.2,529.9 L819.7,529.5 L821.2,529.0 L822.7,528.6 L824.2,528.1 L825.7,527.6 L827.2,527.2 L828.7,526.7 L830.2,526.2 L831.7,525.8 L833.2,525.3 L834.7,524.9 L836.2,524.4 L837.7,523.9 L839.2,523.5 L840.7,523.0 L842.2,522.5 L843.7,522.1 L845.2,521.6 L846.7,521.2 L848.2,520.7 L849.7,520.2 L851.2,519.8 L852.8,519.3 L854.3,518.8 L855.8,518.4 L857.3,517.9 L858.8,517.5 L860.3,517.0 L861.8,516.5 L863.3,516.1 L864.8,515.6 L866.3,515.1 L867.8,514.7 L869.3,514.2 L870.8,513.7 L872.3,513.3 L873.8,512.8 L875.3,512.4 L876.8,511.9 L878.3,511.4 L879.8,511.0 L881.3,510.5 L882.8,510.0 L884.3,509.6 L885.8,509.1 L887.3,508.6 L888.8,508.2 L890.3,507.7 L891.8,507.2 L893.3,506.8 L894.8,506.3 L896.3,505.8 L897.8,505.3 L899.3,504.9 L900.8,504.4 L902.3,503.9 L903.8,503.5 L905.3,503.0 L906.8,502.5 L908.3,502.1 L909.8,501.6 L911.3,501.1 L912.8,500.6 L914.3,500.2 L915.8,499.7 L917.3,499.2 L918.8,498.7 L920.3,498.3 L921.8,497.8 L923.3,497.3 L924.8,496.8 L926.3,496.4 L927.8,495.9 L929.4,495.4 L930.9,494.9 L932.4,494.5 L933.9,494.0 L935.4,493.5 L936.9,493.0 L938.4,492.6 L939.9,492.1 L941.4,491.6 L942.9,491.1 L944.4,490.6 L945.9,490.2 L947.4,489.7 L948.9,489.2 L950.4,488.7 L951.9,488.3 L953.4,487.8 L954.9,487.3 L956.4,486.8 L957.9,486.3 L959.4,485.9 L960.9,485.4 L962.4,484.9 L963.9,484.4 L965.4,483.9 L966.9,483.4 L968.4,483.0 L969.9,482.5 L971.4,482.0 L972.9,481.5 L974.4,481.0 L975.9,480.6 L977.4,480.1 L978.9,479.6 L980.4,479.1 L981.9,478.6 L983.4,478.1 L984.9,477.7 L986.4,477.2 L987.9,476.7 L989.4,476.2 L990.9,475.7 L992.4,475.2 L993.9,474.7 L995.4,474.3 L996.9,473.8 L998.4,473.3 L999.9,472.8 L1001.4,472.3 L1002.9,471.8 L1004.5,471.4 L1006.0,470.9 L1007.5,470.4 L1009.0,469.9 L1010.5,469.4 L1012.0,468.9 L1013.5,468.4 L1015.0,468.0 L1016.5,467.5 L1018.0,467.0 L1019.5,466.5 L1021.0,466.0 L1022.5,465.5 L1024.0,465.0 L1025.5,464.6 L1027.0,464.1 L1028.5,463.6 L1030.0,463.1 L1031.5,462.6 L1033.0,462.1 L1034.5,461.6 L1036.0,461.1 L1037.5,460.7 L1039.0,460.2 L1040.5,459.7 L1042.0,459.2" fill="none" stroke="#808080" stroke-width="4.00" stroke-linejoin="round" stroke-linecap="butt"/>
<path d="M130.3,752.8 L132.1,751.9 L134.4,750.8 L137.2,749.5 L140.3,747.9 L143.6,746.3 L147.1,744.6 L150.5,742.8 L153.9,741.1 L156.6,739.7 L159.6,738.1 L162.6,736.5 L165.8,734.8 L168.9,733.1 L172.0,731.3 L175.0,729.7 L177.9,728.1 L180.5,726.6 L182.8,725.2 L186.6,722.9 L189.6,720.9 L192.1,719.1 L194.6,717.2 L197.2,715.1 L199.7,713.1 L202.2,711.0 L204.8,708.9 L207.2,706.6 L209.5,704.4 L211.6,702.1 L213.8,699.3 L215.6,696.4 L217.3,693.5 L218.8,690.6 L220.3,687.7 L221.7,684.8 L223.0,681.8 L224.2,678.8 L225.2,675.9 L226.1,673.2 L227.2,668.7 L227.8,664.4 L228.2,661.5 L230.0,660.5 L232.4,659.2 L235.3,657.7 L238.4,656.0 L241.7,654.2 L245.1,652.4 L248.2,650.6 L250.9,649.1 L253.6,647.5 L256.4,645.9 L259.2,644.2 L262.0,642.6 L264.8,640.9 L267.6,639.3 L270.4,637.8 L273.2,636.3 L276.2,634.8 L279.1,633.4 L282.0,631.9 L284.9,630.5 L287.7,629.2 L290.3,627.9 L292.7,626.7 L296.3,624.8 L299.7,623.0 L302.8,621.3 L305.3,619.9 L307.1,618.9 L308.9,617.5 L311.4,615.6 L314.3,613.3 L317.5,610.9 L320.7,608.4 L323.6,606.2 L326.0,604.4 L329.0,602.2 L331.2,600.6 L333.3,599.1 L336.0,597.3 L338.4,595.6 L341.2,593.6 L344.2,591.6 L347.0,589.6 L349.4,587.9 L351.1,586.7 L352.6,586.2 L354.1,585.6 L355.6,585.1 L357.1,584.6 L358.6,584.1 L360.1,583.5 L361.6,583.0 L363.1,582.5 L364.6,582.0 L366.1,581.4 L367.6,580.9 L369.1,580.4 L370.6,579.9 L372.1,579.4 L373.6,578.9 L375.2,578.4 L376.7,577.9 L378.2,577.4 L379.7,576.9 L381.2,576.4 L382.7,575.9 L384.2,575.4 L385.7,574.9 L387.2,574.4 L388.7,574.0 L390.2,573.5 L391.7,573.0 L393.2,572.5 L394.7,572.1 L396.2,571.6 L397.7,571.2 L399.2,570.7 L400.7,570.2 L402.2,569.8 L403.7,569.3 L405.2,568.9 L406.7,568.5 L408.2,568.0 L409.7,567.6 L411.2,567.1 L412.7,566.7 L414.2,566.3 L415.7,565.8 L417.2,565.4 L418.7,565.0 L420.3,564.6 L421.8,564.1 L423.3,563.7 L424.8,563.3 L426.3,562.9 L427.8,562.5 L429.3,562.1 L430.8,561.6 L432.3,561.2 L433.8,560.8 L435.3,560.4 L436.8,560.0 L438.3,559.6 L439.8,559.2 L441.3,558.8 L442.8,558.3 L444.3,557.9 L445.8,557.5 L447.3,557.1 L448.8,556.7 L450.3,556.3 L451.8,555.9 L453.3,555.5 L454.8,555.1 L456.3,554.7 L457.8,554.3 L459.3,553.9 L460.8,553.4 L462.3,553.0 L463.8,552.6 L465.4,552.2 L466.9,551.8 L468.4,551.4 L469.9,551.0 L471.4,550.6 L472.9,550.2 L474.4,549.7 L475.9,549.3 L477.4,548.9 L478.9,548.5 L480.4,548.1 L481.9,547.7 L483.4,547.3 L484.9,546.8 L486.4,546.4 L487.9,546.0 L489.4,545.6 L490.9,545.2 L492.4,544.8 L493.9,544.3 L495.4,543.9 L496.9,543.5 L498.4,543.1 L499.9,542.7 L501.4,542.2 L502.9,541.8 L504.4,541.4 L505.9,541.0 L507.4,540.5 L508.9,540.1 L510.4,539.7 L512.0,539.3 L513.5,538.8 L515.0,538.4 L516.5,538.0 L518.0,537.5 L519.5,537.1 L521.0,536.7 L522.5,536.3 L524.0,535.8 L525.5,535.4 L527.0,535.0 L528.5,534.5 L530.0,534.1 L531.5,533.7 L533.0,533.2 L534.5,532.8 L536.0,532.4 L537.5,531.9 L539.0,531.5 L540.5,531.0 L542.0,530.6 L543.5,530.2 L545.0,529.7 L546.5,529.3 L548.0,528.9 L549.5,528.4 L551.0,528.0 L552.5,527.5 L554.0,527.1 L555.5,526.6 L557.1,526.2 L558.6,525.8 L560.1,525.3 L561.6,524.9 L563.1,524.4 L564.6,524.0 L566.1,523.5 L567.6,523.1 L569.1,522.6 L570.6,522.2 L572.1,521.7 L573.6,521.3 L575.1,520.8 L576.6,520.4 L578.1,519.9 L579.6,519.4 L581.1,519.0 L582.6,518.5 L584.1,518.1 L585.6,517.6 L587.1,517.1 L588.6,516.7 L590.1,516.2 L591.6,515.7 L593.1,515.2 L594.6,514.8 L596.1,514.3 L597.6,513.8 L599.1,513.3 L600.6,512.8 L602.2,512.3 L603.7,511.8 L605.2,511.4 L606.7,510.9 L608.2,510.4 L609.7,509.9 L611.2,509.4 L612.7,508.9 L614.2,508.4 L615.7,507.9 L617.2,507.3 L618.7,506.8 L620.2,506.3 L621.7,505.8 L623.2,505.3 L624.7,504.8 L626.2,504.2 L627.7,503.7 L629.2,503.2 L630.7,502.7 L632.2,502.2 L633.7,501.6 L635.2,501.1 L636.7,500.6 L638.2,500.0 L639.7,499.5 L641.2,499.0 L642.7,498.4 L644.2,497.9 L645.7,497.4 L647.2,496.8 L648.8,496.3 L650.3,495.7 L651.8,495.2 L653.3,494.6 L654.8,494.1 L656.3,493.5 L657.8,493.0 L659.3,492.5 L660.8,491.9 L662.3,491.3 L663.8,490.8 L665.3,490.2 L666.8,489.7 L668.3,489.1 L669.8,488.6 L671.3,488.0 L672.8,487.4 L674.3,486.9 L675.8,486.3 L677.3,485.7 L678.8,485.2 L680.3,484.6 L681.8,484.0 L683.3,483.4 L684.8,482.9 L686.3,482.3 L687.8,481.7 L689.3,481.1 L690.8,480.5 L692.3,479.9 L693.9,479.3 L695.4,478.7 L696.9,478.2 L698.4,477.6 L699.9,477.0 L701.4,476.3 L702.9,475.7 L704.4,475.1 L705.9,474.5 L707.4,473.9 L708.9,473.3 L710.4,472.7 L711.9,472.1 L713.4,471.4 L714.9,470.8 L716.4,470.2 L717.9,469.6 L719.4,468.9 L720.9,468.3 L722.4,467.7 L723.9,467.0 L725.4,466.4 L726.9,465.8 L728.4,465.1 L729.9,464.5 L731.4,463.8 L732.9,463.2 L734.4,462.6 L735.9,461.9 L737.4,461.3 L738.9,460.6 L740.5,460.0 L742.0,459.3 L743.5,458.7 L745.0,458.0 L746.5,457.4 L748.0,456.7 L749.5,456.1 L751.0,455.4 L752.5,454.8 L754.0,454.1 L755.5,453.5 L757.0,452.8 L758.5,452.2 L760.0,451.5 L761.5,450.8 L763.0,450.2 L764.5,449.5 L766.0,448.9 L767.5,448.2 L769.0,447.6 L770.5,446.9 L772.0,446.2 L773.5,445.6 L775.0,444.9 L776.5,444.2 L778.0,443.6 L779.5,442.9 L781.0,442.2 L782.5,441.5 L784.0,440.9 L785.6,440.2 L787.1,439.5 L788.6,438.8 L790.1,438.2 L791.6,437.5 L793.1,436.8 L794.6,436.1 L796.1,435.4 L797.6,434.7 L799.1,434.0 L800.6,433.3 L802.1,432.6 L803.6,431.9 L805.1,431.2 L806.6,430.5 L808.1,429.8 L809.6,429.1 L811.1,428.4 L812.6,427.7 L814.1,427.0 L815.6,426.2 L817.1,425.5 L818.6,424.8 L820.1,424.1 L821.6,423.4 L823.1,422.6 L824.6,421.9 L826.1,421.2 L827.6,420.5 L829.1,419.8 L830.7,419.0 L832.2,418.3 L833.7,417.6 L835.2,416.9 L836.7,416.1 L838.2,415.4 L839.7,414.7 L841.2,414.0 L842.7,413.2 L844.2,412.5 L845.7,411.8 L847.2,411.1 L848.7,410.4 L850.2,409.6 L851.7,408.9 L853.2,408.2 L854.7,407.5 L856.2,406.8 L857.7,406.1 L859.2,405.3 L860.7,404.6 L862.2,403.9 L863.7,403.2 L865.2,402.5 L866.7,401.8 L868.2,401.1 L869.7,400.4 L871.2,399.7 L872.7,399.0 L874.2,398.3 L875.7,397.6 L877.3,396.9 L878.8,396.2 L880.3,395.5 L881.8,394.8 L883.3,394.1 L884.8,393.4 L886.3,392.7 L887.8,392.0 L889.3,391.3 L890.8,390.6 L892.3,389.9 L893.8,389.2 L895.3,388.5 L896.8,387.9 L898.3,387.2 L899.8,386.5 L901.3,385.8 L902.8,385.1 L904.3,384.4 L905.8,383.8 L907.3,383.1 L908.8,382.4 L910.3,381.7 L911.8,381.1 L913.3,380.4 L914.8,379.7 L916.3,379.1 L917.8,378.4 L919.3,377.7 L920.8,377.1 L922.4,376.4 L923.9,375.8 L925.4,375.1 L926.9,374.5 L928.4,373.8 L929.9,373.2 L931.4,372.5 L932.9,371.9 L934.4,371.2 L935.9,370.6 L937.4,369.9 L938.9,369.3 L940.4,368.6 L941.9,368.0 L943.4,367.4 L944.9,366.7 L946.4,366.1 L947.9,365.5 L949.4,364.8 L950.9,364.2 L952.4,363.6 L953.9,362.9 L955.4,362.3 L956.9,361.7 L958.4,361.0 L959.9,360.4 L961.4,359.8 L962.9,359.2 L964.4,358.5 L965.9,357.9 L967.5,357.3 L969.0,356.7 L970.5,356.0 L972.0,355.4 L973.5,354.8 L975.0,354.2 L976.5,353.6 L978.0,352.9 L979.5,352.3 L981.0,351.7 L982.5,351.1 L984.0,350.5 L985.5,349.9 L987.0,349.2 L988.5,348.6 L990.0,348.0 L1042.0,348.5" fill="none" stroke="#fdd675" stroke-width="4.00" stroke-linejoin="round" stroke-linecap="butt"/>
<path d="M228.2,652.2 L229.9,636.4 L231.4,635.8 L232.9,635.2 L234.4,634.6 L235.9,634.0 L237.4,633.4 L238.9,632.8 L240.4,632.1 L241.9,631.5 L243.4,630.9 L244.9,630.3 L246.4,629.6 L247.9,629.0 L249.4,628.4 L250.9,627.7 L252.4,627.1 L253.9,626.4 L255.4,625.7 L256.9,625.1 L258.4,624.4 L259.9,623.7 L261.4,623.0 L262.9,622.3 L264.4,621.6 L265.9,620.8 L267.4,620.1 L268.9,619.3 L270.4,618.6 L271.9,617.8 L273.4,617.0 L274.9,616.2 L276.4,615.4 L277.9,614.6 L279.4,613.7 L280.9,612.9 L282.4,612.0 L283.9,611.1 L285.4,610.2 L286.9,609.3 L288.4,608.4 L289.9,607.4 L291.4,606.4 L292.9,605.5 L294.4,604.5 L295.9,603.4 L297.4,602.4 L298.9,601.4 L300.5,600.3 L302.0,599.2 L303.5,598.1 L305.0,597.0 L306.5,595.9 L308.0,594.7 L309.5,593.5 L311.0,592.3 L312.5,591.1 L314.0,589.9 L315.5,588.7 L317.0,587.4 L318.5,586.2 L320.0,584.9 L321.5,583.6 L323.0,582.3 L324.5,580.9 L326.0,579.6 L327.5,578.2 L329.0,576.8 L330.5,575.5 L332.0,574.1 L333.5,572.6 L335.0,571.2 L336.5,569.8 L338.0,568.3 L339.5,566.9 L341.0,565.4 L342.5,564.0 L344.0,562.5 L345.5,561.0 L347.0,559.5 L348.5,558.0 L350.0,556.5 L351.5,555.0 L353.0,553.5 L354.5,552.0 L356.0,550.5 L357.5,548.9 L359.0,547.4 L360.5,545.9 L362.0,544.3 L363.5,542.8 L365.0,541.3 L366.5,539.7 L368.0,538.2 L369.5,536.6 L371.0,535.1 L372.5,533.5 L374.0,532.0 L375.5,530.4 L377.0,528.9 L378.5,527.3 L380.0,525.7 L381.5,524.2 L383.0,522.6 L384.5,521.1 L386.0,519.5 L387.5,517.9 L389.0,516.4 L390.5,514.8 L392.0,513.2 L393.5,511.7 L395.0,510.1 L396.5,508.5 L398.0,506.9 L399.5,505.4 L401.0,503.8 L402.5,502.2 L404.0,500.6 L405.5,499.0 L407.0,497.4 L408.5,495.8 L410.0,494.2 L411.5,492.6 L413.0,491.0 L414.5,489.4 L416.0,487.8 L417.5,486.1 L419.0,484.5 L420.5,482.9 L422.0,481.3 L423.5,479.6 L425.0,478.0 L426.5,476.4 L428.0,474.7 L429.5,473.1 L431.0,471.4 L432.5,469.8 L434.0,468.1 L435.5,466.5 L437.0,464.8 L438.5,463.2 L440.1,461.5 L441.6,459.9 L443.1,458.2 L444.6,456.6 L446.1,454.9 L447.6,453.2 L449.1,451.6 L450.6,449.9 L452.1,448.3 L453.6,446.6 L455.1,444.9 L456.6,443.3 L458.1,441.6 L459.6,439.9 L461.1,438.3 L462.6,436.6 L464.1,435.0 L465.6,433.3 L467.1,431.6 L468.6,430.0 L470.1,428.3 L471.6,426.7 L473.1,425.0 L474.6,423.3 L476.1,421.7 L477.6,420.0 L479.1,418.4 L480.6,416.7 L482.1,415.1 L483.6,413.4 L485.1,411.8 L486.6,410.1 L488.1,408.5 L489.6,406.9 L491.1,405.2 L492.6,403.6 L494.1,402.0 L495.6,400.3 L497.1,398.7 L498.6,397.1 L500.1,395.5 L501.6,393.9 L503.1,392.3 L504.6,390.7 L506.1,389.1 L507.6,387.5 L509.1,385.9 L510.6,384.3 L512.1,382.8 L513.6,381.2 L515.1,379.6 L516.6,378.1 L518.1,376.5 L519.6,374.9 L521.1,373.4 L522.6,371.9 L524.1,370.3 L525.6,368.8 L527.1,367.2 L528.6,365.7 L530.1,364.2 L531.6,362.7 L533.1,361.2 L534.6,359.7 L536.1,358.1 L537.6,356.6 L539.1,355.1 L540.6,353.6 L542.1,352.2 L543.6,350.7 L545.1,349.2 L546.6,347.7 L548.1,346.2 L549.6,344.8 L551.1,343.3 L552.6,341.8 L554.1,340.4 L555.6,338.9 L557.1,337.5 L558.6,336.0 L560.1,334.6 L561.6,333.1 L563.1,331.7 L564.6,330.2 L566.1,328.8 L567.6,327.4 L569.1,326.0 L570.6,324.5 L572.1,323.1 L573.6,321.7 L575.1,320.3 L576.6,318.9 L578.1,317.5 L579.7,316.1 L581.2,314.7 L582.7,313.3 L584.2,311.9 L585.7,310.5 L587.2,309.1 L588.7,307.8 L590.2,306.4 L591.7,305.0 L593.2,303.6 L594.7,302.3 L596.2,300.9 L597.7,299.5 L599.2,298.2 L600.7,296.8 L602.2,295.5 L603.7,294.1 L605.2,292.8 L606.7,291.4 L608.2,290.1 L609.7,288.8 L611.2,287.4 L612.7,286.1 L614.2,284.7 L615.7,283.4 L617.2,282.1 L618.7,280.8 L620.2,279.4 L621.7,278.1 L623.2,276.8 L624.7,275.5 L626.2,274.2 L627.7,272.8 L629.2,271.5 L630.7,270.2 L632.2,268.9 L633.7,267.6 L635.2,266.3 L636.7,265.0 L638.2,263.6 L639.7,262.3 L641.2,261.0 L642.7,259.7 L644.2,258.4 L645.7,257.1 L647.2,255.8 L648.7,254.5 L651.0,397.0 L652.5,395.2 L654.0,393.4 L655.5,391.5 L657.0,389.6 L658.5,387.8 L660.0,385.9 L661.6,384.0 L663.1,382.0 L664.6,380.1 L666.1,378.1 L667.6,376.1 L669.1,374.0 L670.6,371.9 L672.1,369.8 L673.6,367.7 L675.1,365.5 L676.6,363.2 L678.1,361.0 L679.6,358.6 L681.2,356.3 L682.7,353.9 L684.2,351.4 L685.7,348.9 L687.2,346.4 L688.7,343.8 L690.2,341.2 L691.7,338.5 L693.2,335.8 L694.7,333.1 L696.2,330.3 L697.7,327.5 L699.2,324.7 L700.8,321.8 L702.3,318.9 L703.8,315.9 L705.3,313.0 L706.8,310.0 L708.3,307.0 L709.8,304.0 L711.3,300.9 L712.8,297.8 L714.3,294.8 L715.8,291.7 L717.3,288.6 L718.9,285.4 L720.4,282.3 L721.9,279.2 L723.4,276.0 L724.9,272.8 L726.4,269.7 L727.9,266.5 L729.4,263.4 L730.9,260.2 L732.4,257.0 L733.9,253.8 L735.4,250.7 L736.9,247.5 L738.5,244.4 L740.0,241.2 L741.5,238.0 L743.0,234.9 L744.5,231.8 L746.0,228.6 L747.5,225.5 L749.0,222.4 L750.5,219.3 L752.0,216.2 L753.5,213.1 L755.0,210.0 L756.5,206.9 L758.1,203.9 L759.6,200.8 L761.1,197.8 L762.6,194.7 L764.1,191.7 L765.6,188.7 L767.1,185.7 L768.6,182.7 L770.1,179.7 L771.6,176.7 L773.1,173.7 L774.6,170.7 L776.1,167.8 L777.7,164.8 L779.2,161.8 L780.7,158.9 L782.2,155.9 L783.7,153.0 L785.2,150.0 L786.7,147.1 L806.2,137.3 L808.0,141.8 L825.8,132.9 L828.0,130.8 L830.8,132.4 L833.6,128.8 L836.4,130.4 L839.2,126.8 L842.0,128.4 L844.8,124.8 L847.6,126.5 L850.4,123.0 L853.2,124.7 L856.0,121.2 L858.8,123.0 L861.6,119.5 L862.0,118.1 L866.5,122.8 L870.9,117.9 L875.4,122.9 L879.8,118.0 L884.3,123.0 L888.7,118.3 L893.2,123.5 L897.6,118.7 L902.1,124.0 L906.5,119.3 L911.0,124.5 L915.4,119.8 L919.9,125.1 L924.3,120.3 L928.8,125.6 L933.2,120.4 L937.7,125.2 L942.1,119.9 L946.6,124.7 L951.0,118.7 L955.5,122.6 L959.9,116.5 L964.4,120.5 L968.8,114.4 L973.3,118.4 L980.0,113.8 L984.4,117.8 L991.1,113.4 L1042.0,113.3" fill="none" stroke="#ee791d" stroke-width="4.00" stroke-linejoin="round" stroke-linecap="butt"/>
<path d="M232.8,282.8 L257.3,272.7 L261.3,269.5 L348.0,234.8 L377.3,218.0 L379.0,216.1 L381.3,214.0 L384.2,213.1 L386.7,212.7 L388.3,212.0 L390.4,211.1 L392.8,210.1 L395.7,208.8 L398.9,207.3 L402.6,205.5 L406.7,203.3 L408.8,202.1 L411.1,200.8 L413.5,199.4 L416.1,197.9 L418.8,196.3 L421.6,194.6 L424.4,192.9 L427.3,191.1 L430.2,189.4 L433.1,187.7 L436.0,186.0 L438.8,184.3 L441.5,182.8 L444.2,181.3 L446.7,179.9 L449.8,178.3 L452.8,176.7 L455.9,175.2 L459.0,173.7 L462.0,172.3 L464.9,170.9 L467.8,169.6 L470.5,168.4 L473.1,167.2 L475.6,166.1 L477.9,165.0 L480.0,164.0 L484.0,162.1 L486.8,160.8 L489.2,159.7 L491.7,158.5 L495.0,156.7 L497.2,155.4 L499.5,154.1 L501.9,152.6 L504.5,151.0 L507.1,149.4 L510.0,147.8 L513.1,146.1 L516.4,144.4 L520.0,142.7 L522.4,141.7 L525.1,140.5 L528.1,139.4 L531.2,138.2 L534.5,136.9 L537.9,135.7 L541.2,134.4 L544.6,133.2 L547.8,132.0 L551.0,130.9 L553.9,129.9 L556.6,128.9 L559.0,128.0 L561.1,127.3 L562.7,126.7 L566.7,197.3" fill="none" stroke="#b5e1ae" stroke-width="4.00" stroke-linejoin="round" stroke-linecap="butt"/>
<path d="M234.0,282.5 L236.2,282.0 L239.6,281.3 L243.9,281.0 L246.3,281.1 L248.8,281.3 L251.6,281.6 L254.8,281.9 L258.5,282.3 L262.8,282.8 L265.3,283.1 L267.9,283.3 L270.7,283.7 L273.7,284.0 L276.8,284.4 L280.1,284.8 L283.4,285.1 L286.7,285.5 L290.2,285.8 L293.6,286.1 L297.1,286.4 L300.6,286.6 L303.5,286.8 L306.6,286.9 L309.9,287.0 L313.3,287.1 L316.8,287.2 L320.4,287.2 L323.9,287.3 L327.3,287.4 L330.7,287.4 L333.9,287.4 L336.9,287.5 L339.6,287.5 L342.1,287.5 L344.2,287.6 L345.9,287.6 L356.5,279.9 L358.3,280.3 L361.1,281.0 L365.3,282.8 L367.5,284.0 L370.3,285.5 L373.3,287.3 L376.6,289.2 L379.7,291.1 L382.6,292.8 L385.0,294.3 L386.7,295.3 L388.6,294.1 L391.3,292.6 L394.5,290.6 L397.9,288.4 L401.3,286.0 L403.4,284.4 L405.7,282.6 L408.0,280.7 L410.3,278.8 L412.7,276.7 L415.1,274.5 L417.6,272.3 L420.0,270.0 L422.3,267.7 L424.7,265.2 L427.3,262.5 L429.9,259.7 L432.4,257.0 L434.8,254.4 L436.9,252.1 L438.6,250.2 L440.0,248.7 L441.4,248.5 L443.3,248.3 L446.5,247.7 L452.0,246.5 L454.2,246.0 L456.7,245.4 L459.5,244.7 L462.6,244.0 L465.8,243.2 L469.2,242.3 L472.7,241.5 L476.2,240.6 L479.7,239.7 L483.1,238.9 L486.4,238.1 L489.5,237.3 L492.4,236.6 L495.0,235.9 L498.9,234.9 L502.4,234.0 L505.4,233.3 L508.2,232.6 L510.9,231.8 L513.7,231.1 L516.7,230.3 L520.0,229.3 L522.7,228.5 L525.6,227.6 L528.6,226.7 L531.8,225.7 L535.0,224.7 L538.1,223.7 L541.2,222.7 L544.2,221.8 L547.0,220.9 L549.7,220.2 L552.0,219.5 L556.5,218.4 L560.4,217.6 L563.7,217.0 L566.3,216.6 L568.3,216.3 L575.3,224.0 L577.0,221.2 L580.0,217.0 L581.7,214.9 L583.6,212.5 L585.7,210.0 L587.9,207.4 L590.0,205.0 L592.5,202.2 L595.0,199.4 L597.5,196.7 L600.0,194.0 L602.5,191.4 L605.0,188.9 L607.5,186.4 L610.0,184.0 L612.5,181.6 L615.0,179.3 L617.5,177.1 L620.0,175.0 L622.5,173.1 L625.0,171.3 L627.5,169.7 L630.0,168.0 L633.4,165.8 L636.7,163.6 L640.0,161.5 L643.4,159.4 L646.7,157.4 L649.0,156.0 L651.0,152.0 L653.2,150.8 L656.3,149.0 L660.0,147.3 L663.0,146.1 L666.4,144.8 L669.9,143.6 L673.3,142.7 L676.6,142.1 L680.0,141.6 L683.4,141.4 L686.7,141.3 L690.1,141.5 L693.6,141.8 L696.9,142.3 L700.0,142.9 L703.9,143.9 L707.5,145.1 L710.0,146.0 L745.3,121.3 L759.3,129.6" fill="none" stroke="#4bad5b" stroke-width="4.00" stroke-linejoin="round" stroke-linecap="butt"/>
<path d="M230.7,295.5 L232.8,296.0 L235.9,296.7 L239.4,297.5 L243.2,298.3 L246.8,299.1 L250.0,299.8 L253.3,300.5 L256.3,301.1 L259.2,301.7 L262.1,302.3 L265.0,302.9 L268.0,303.5 L271.1,304.1 L274.2,304.7 L277.2,305.3 L280.0,305.9 L283.2,306.5 L286.1,307.1 L289.0,307.7 L292.0,308.3 L295.3,308.9 L298.8,309.6 L302.1,310.2 L305.0,310.8 L309.4,311.9 L313.0,313.0 L316.7,314.5 L320.0,316.2 L322.4,318.0 L324.5,320.3 L326.7,323.3 L328.9,327.2 L330.1,329.6 L331.2,332.3 L332.4,335.3 L333.6,338.6 L334.6,341.6 L335.6,344.9 L336.6,348.4 L337.5,352.0 L338.4,355.6 L339.1,358.6 L339.7,361.5 L340.3,364.5 L340.9,367.6 L341.5,370.9 L342.1,374.5 L342.6,377.5 L343.1,380.7 L343.6,384.0 L344.1,387.5 L344.5,390.9 L345.0,394.4 L345.5,397.7 L345.9,400.9 L346.4,404.4 L346.8,407.9 L347.3,411.3 L347.7,414.6 L348.1,417.8 L348.4,420.8 L348.7,423.6 L349.0,427.3 L349.1,430.9 L349.2,434.1 L349.3,436.8 L349.3,438.7 L350.8,438.0 L352.3,437.4 L353.8,436.7 L355.3,436.1 L356.8,435.4 L358.3,434.7 L359.8,434.0 L361.3,433.4 L362.9,432.7 L364.4,432.0 L365.9,431.3 L367.4,430.7 L368.9,430.0 L370.4,429.3 L371.9,428.6 L373.4,427.9 L374.9,427.2 L376.4,426.4 L377.9,425.7 L379.4,425.0 L380.9,424.2 L382.4,423.5 L383.9,422.7 L385.4,422.0 L387.0,421.2 L388.5,420.4 L390.0,419.6 L391.5,418.7 L393.0,417.9 L394.5,417.1 L396.0,416.2 L397.5,415.3 L399.0,414.4 L400.5,413.5 L402.0,412.6 L403.5,411.6 L405.0,410.7 L406.5,409.7 L408.0,408.7 L409.5,407.7 L411.0,406.7 L412.6,405.6 L414.1,404.6 L415.6,403.5 L417.1,402.4 L418.6,401.3 L420.1,400.2 L421.6,399.0 L423.1,397.9 L424.6,396.7 L426.1,395.5 L427.6,394.3 L429.1,393.1 L430.6,391.9 L432.1,390.7 L433.6,389.5 L435.1,388.2 L436.6,387.0 L438.2,385.7 L439.7,384.4 L441.2,383.1 L442.7,381.9 L444.2,380.6 L445.7,379.3 L447.2,378.0 L448.7,376.6 L450.2,375.3 L451.7,374.0 L453.2,372.7 L454.7,371.4 L456.2,370.1 L457.7,368.8 L459.2,367.4 L460.7,366.1 L462.3,364.8 L463.8,363.5 L465.3,362.2 L466.8,360.8 L468.3,359.5 L469.8,358.2 L471.3,356.9 L472.8,355.6 L474.3,354.3 L475.8,353.0 L477.3,351.7 L478.8,350.4 L480.3,349.1 L481.8,347.8 L483.3,346.6 L484.8,345.3 L486.3,344.0 L487.9,342.7 L489.4,341.5 L490.9,340.2 L492.4,338.9 L493.9,337.7 L495.4,336.4 L496.9,335.1 L498.4,333.8 L499.9,332.5 L501.4,331.3 L502.9,330.0 L504.4,328.7 L505.9,327.4 L507.4,326.1 L508.9,324.8 L510.4,323.5 L512.0,322.2 L513.5,320.8 L515.0,319.5 L516.5,318.2 L518.0,316.9 L519.5,315.5 L521.0,314.2 L522.5,312.8 L524.0,311.5 L525.5,310.1 L527.0,308.7 L528.5,307.4 L530.0,306.0 L531.5,304.6 L533.0,303.3 L534.5,301.9 L536.0,300.5 L537.6,299.2 L539.1,297.8 L540.6,296.4 L542.1,295.1 L543.6,293.7 L545.1,292.4 L546.6,291.0 L548.1,289.7 L549.6,288.3 L551.1,287.0 L552.6,285.7 L554.1,284.4 L555.6,283.1 L557.1,281.8 L558.6,280.5 L560.1,279.2 L561.7,278.0 L563.2,276.7 L564.7,275.4 L566.2,274.2 L567.7,273.0 L569.2,271.7 L570.7,270.5 L572.2,269.3 L573.7,268.0 L575.2,266.8 L576.7,265.6 L578.2,264.4 L579.7,263.2 L581.2,262.0 L582.7,260.8 L584.2,259.6 L585.7,258.4 L587.3,257.2 L588.8,256.0 L590.3,254.9 L591.8,253.7 L593.3,252.5 L594.8,251.3 L596.3,250.1 L597.8,248.9 L599.3,247.7 L600.8,246.5 L602.3,245.3 L603.8,244.1 L605.3,243.0 L606.8,241.8 L608.3,240.6 L609.8,239.4 L611.3,238.2 L612.9,237.0 L614.4,235.8 L615.9,234.7 L617.4,233.5 L618.9,232.3 L620.4,231.2 L621.9,230.0 L623.4,228.9 L624.9,227.8 L626.4,226.6 L627.9,225.5 L629.4,224.4 L630.9,223.3 L632.4,222.2 L633.9,221.1 L635.4,220.0 L637.0,218.9 L638.5,217.8 L640.0,216.8 L641.5,215.7 L643.0,214.7 L644.5,213.6 L646.0,212.6 L647.5,211.5 L649.0,210.5 L651.0,205.0 L652.7,203.4 L655.4,201.0 L660.0,197.3 L662.0,195.9 L664.2,194.3 L666.7,192.5 L669.4,190.7 L672.2,188.7 L675.2,186.7 L678.1,184.7 L681.1,182.6 L684.0,180.6 L686.7,178.7 L689.4,176.8 L692.0,174.9 L694.7,172.9 L697.3,171.0 L700.0,169.0 L702.7,167.1 L705.3,165.1 L708.0,163.2 L710.6,161.2 L713.3,159.3 L716.0,157.3 L718.8,155.3 L721.7,153.2 L724.6,151.1 L727.5,149.0 L730.3,147.0 L733.0,145.0 L735.5,143.2 L737.9,141.5 L740.0,140.0 L743.5,137.5 L746.3,135.6 L748.6,134.0 L750.8,132.7 L753.3,131.3 L756.7,129.7 L760.2,128.3 L763.6,127.0 L766.7,125.8 L770.1,124.4 L773.0,123.1 L776.0,121.8 L779.2,120.4 L782.6,119.1 L786.3,117.8 L789.3,116.9 L792.4,116.1 L795.9,115.3 L800.0,114.3 L802.8,113.7 L805.9,113.0 L809.3,112.2 L812.7,111.5 L816.2,110.7 L819.5,110.0 L822.5,109.3 L826.3,108.5 L829.7,107.7 L832.9,106.9 L836.3,106.1 L840.0,105.3 L843.1,104.6 L846.6,103.8 L850.2,103.0 L853.8,102.1 L857.0,101.4 L859.8,100.8 L861.8,100.3 L863.5,100.3 L865.5,100.3 L867.9,100.3 L870.7,100.3 L874.0,100.4 L877.7,100.4 L881.9,100.4 L886.7,100.5 L889.1,100.5 L891.9,100.6 L894.9,100.6 L898.1,100.7 L901.6,100.7 L905.1,100.8 L908.8,100.8 L912.5,100.9 L916.3,100.9 L919.9,101.0 L923.6,101.0 L927.0,101.1 L930.3,101.1 L933.4,101.2 L936.2,101.2 L938.8,101.2 L940.9,101.3 L942.7,101.3 L948.0,98.7 L950.1,98.3 L953.0,97.8 L956.4,97.2 L960.0,96.6 L963.6,95.9 L966.7,95.3 L970.1,94.6 L973.4,93.8 L976.6,93.1 L979.6,92.5 L982.2,92.0 L987.6,91.4 L991.1,91.3 L1042.0,91.3" fill="none" stroke="#4b97c9" stroke-width="4.00" stroke-linejoin="round" stroke-linecap="butt"/>
<text transform="translate(218.1,20) rotate(-90)" font-family="DejaVu Sans, sans-serif" font-size="25.4" fill="#808080" text-anchor="end"><tspan font-style="italic">M</tspan><tspan font-size="18.4" dy="4">HT</tspan></text>
<text transform="translate(338.9,20) rotate(-90)" font-family="DejaVu Sans, sans-serif" font-size="25.4" fill="#808080" text-anchor="end"><tspan font-style="italic">M</tspan><tspan font-size="18.4" dy="4">HeF</tspan></text>
<text transform="translate(559.7,20) rotate(-90)" font-family="DejaVu Sans, sans-serif" font-size="25.4" fill="#808080" text-anchor="end"><tspan font-style="italic">M</tspan><tspan font-size="18.4" dy="4">SN</tspan></text>
<text transform="translate(638.5,20) rotate(-90)" font-family="DejaVu Sans, sans-serif" font-size="25.4" fill="#808080" text-anchor="end"><tspan font-style="italic">M</tspan><tspan font-size="18.4" dy="4">FGB</tspan></text>
<text transform="translate(758.3,20) rotate(-90)" font-family="DejaVu Sans, sans-serif" font-size="25.4" fill="#808080" text-anchor="end"><tspan font-style="italic">M</tspan><tspan font-size="18.4" dy="4">WR</tspan></text>
</g>
<rect x="129.8" y="13.0" width="911.9" height="781.9" fill="none" stroke="#000" stroke-width="1.6"/>
<path d="M129.8,794.9v3.2M159.0,794.9v3.2M183.6,794.9v3.2M205.0,794.9v3.2M223.8,794.9v3.2M240.7,794.9v6.3M351.6,794.9v3.2M416.4,794.9v3.2M462.4,794.9v3.2M498.1,794.9v3.2M527.3,794.9v3.2M551.9,794.9v3.2M573.3,794.9v3.2M592.1,794.9v3.2M609.0,794.9v6.3M719.9,794.9v3.2M784.7,794.9v3.2M830.7,794.9v3.2M866.4,794.9v3.2M895.6,794.9v3.2M920.2,794.9v3.2M941.6,794.9v3.2M960.4,794.9v3.2M977.3,794.9v6.3M129.8,789.5h-3.2M129.8,767.1h-3.2M129.8,749.7h-3.2M129.8,735.5h-3.2M129.8,723.5h-3.2M129.8,713.1h-3.2M129.8,703.9h-3.2M129.8,695.7h-6.3M129.8,641.7h-3.2M129.8,610.2h-3.2M129.8,587.8h-3.2M129.8,570.4h-3.2M129.8,556.2h-3.2M129.8,544.2h-3.2M129.8,533.8h-3.2M129.8,524.6h-3.2M129.8,516.4h-6.3M129.8,462.4h-3.2M129.8,430.9h-3.2M129.8,408.5h-3.2M129.8,391.1h-3.2M129.8,376.9h-3.2M129.8,364.9h-3.2M129.8,354.5h-3.2M129.8,345.3h-3.2M129.8,337.1h-6.3M129.8,283.1h-3.2M129.8,251.6h-3.2M129.8,229.2h-3.2M129.8,211.8h-3.2M129.8,197.6h-3.2M129.8,185.6h-3.2M129.8,175.2h-3.2M129.8,166.0h-3.2M129.8,157.8h-6.3M129.8,103.8h-3.2M129.8,72.3h-3.2M129.8,49.9h-3.2M129.8,32.5h-3.2M129.8,18.3h-3.2" stroke="#000" stroke-width="1.4" fill="none"/>
<text x="240.4" y="830.2" font-family="DejaVu Serif, serif" font-size="30.6" text-anchor="middle" stroke="#000" stroke-width="0.4">10<tspan font-size="22.4" dy="-10.7">0</tspan></text>
<text x="608.7" y="830.2" font-family="DejaVu Serif, serif" font-size="30.6" text-anchor="middle" stroke="#000" stroke-width="0.4">10<tspan font-size="22.4" dy="-10.7">1</tspan></text>
<text x="977.0" y="830.2" font-family="DejaVu Serif, serif" font-size="30.6" text-anchor="middle" stroke="#000" stroke-width="0.4">10<tspan font-size="22.4" dy="-10.7">2</tspan></text>
<text x="116.1" y="706.8" font-family="DejaVu Serif, serif" font-size="30.6" text-anchor="end" stroke="#000" stroke-width="0.4">10<tspan font-size="22.4" dy="-10.7">0</tspan></text>
<text x="116.1" y="527.5" font-family="DejaVu Serif, serif" font-size="30.6" text-anchor="end" stroke="#000" stroke-width="0.4">10<tspan font-size="22.4" dy="-10.7">1</tspan></text>
<text x="116.1" y="348.2" font-family="DejaVu Serif, serif" font-size="30.6" text-anchor="end" stroke="#000" stroke-width="0.4">10<tspan font-size="22.4" dy="-10.7">2</tspan></text>
<text x="116.1" y="168.9" font-family="DejaVu Serif, serif" font-size="30.6" text-anchor="end" stroke="#000" stroke-width="0.4">10<tspan font-size="22.4" dy="-10.7">3</tspan></text>
<text x="585.8" y="877.1" font-family="DejaVu Sans, sans-serif" font-size="43" text-anchor="middle"><tspan font-style="italic">M</tspan><tspan font-size="31.3" dy="6.9">ZAMS</tspan><tspan dy="-6.9"> [M</tspan><tspan font-size="31.3" dy="6.9">⊙</tspan><tspan dy="-6.9">]</tspan></text>
<text transform="translate(45.8,404.9) rotate(-90)" font-family="DejaVu Sans, sans-serif" font-size="43" text-anchor="middle"><tspan font-style="italic">R</tspan><tspan font-size="31.3" dy="6.9">max</tspan><tspan dy="-6.9"> [R</tspan><tspan font-size="31.3" dy="6.9">⊙</tspan><tspan dy="-6.9">]</tspan></text>
<text y="771.9" font-family="DejaVu Sans, sans-serif" font-size="30.7"><tspan x="860.2" font-style="italic">Z</tspan><tspan x="886.6">=</tspan><tspan x="917.7" font-size="30.5">0.0142</tspan></text>
<clipPath id="clip1"><rect x="1224.5" y="13.0" width="911.9" height="781.9"/></clipPath>
<g clip-path="url(#clip1)">
<line x1="1303.6" y1="17" x2="1303.6" y2="795.0" stroke="#5a5a5a" stroke-width="1.9" stroke-dasharray="1.7,3.1"/>
<line x1="1431.0" y1="17" x2="1431.0" y2="244.1" stroke="#5a5a5a" stroke-width="1.9" stroke-dasharray="1.7,3.1"/>
<line x1="1630.0" y1="17" x2="1630.0" y2="132.0" stroke="#5a5a5a" stroke-width="1.9" stroke-dasharray="1.7,3.1"/>
<line x1="1709.2" y1="17" x2="1709.2" y2="172.6" stroke="#5a5a5a" stroke-width="1.9" stroke-dasharray="1.7,3.1"/>
<line x1="1912.8" y1="17" x2="1912.8" y2="113.0" stroke="#5a5a5a" stroke-width="1.9" stroke-dasharray="1.7,3.1"/>
<polygon points="1304.5,644.7 1370.6,599.6 1384.0,660.0 1385.5,658.8 1387.0,657.7 1388.5,656.5 1390.0,655.3 1391.5,654.2 1393.0,653.1 1394.5,651.9 1396.0,650.8 1397.5,649.7 1399.0,648.6 1400.5,647.5 1402.0,646.4 1403.5,645.3 1405.0,644.3 1406.5,643.2 1408.0,642.2 1409.5,641.1 1411.0,640.1 1412.5,639.1 1414.0,638.2 1415.5,637.2 1417.0,636.3 1418.5,635.3 1420.0,634.4 1421.5,633.5 1423.0,632.6 1424.5,631.7 1426.0,630.8 1427.5,630.0 1429.0,629.1 1430.5,628.3 1432.0,627.5 1433.5,626.7 1435.0,625.9 1436.6,625.1 1438.1,624.3 1439.6,623.6 1441.1,622.8 1442.6,622.1 1444.1,621.4 1445.6,620.7 1447.1,620.0 1448.6,619.3 1450.1,618.6 1451.6,617.9 1453.1,617.3 1454.6,616.6 1456.1,616.0 1457.6,615.3 1459.1,614.7 1460.6,614.1 1462.1,613.5 1463.6,612.9 1465.1,612.3 1466.6,611.7 1468.1,611.1 1469.6,610.5 1471.1,609.9 1472.6,609.4 1474.1,608.8 1475.6,608.3 1477.1,607.7 1478.6,607.2 1480.1,606.6 1481.6,606.1 1483.1,605.6 1484.6,605.0 1486.1,604.5 1487.6,604.0 1489.1,603.5 1490.6,603.0 1492.1,602.5 1493.6,601.9 1495.1,601.4 1496.6,600.9 1498.1,600.5 1499.6,600.0 1501.1,599.5 1502.6,599.0 1504.1,598.5 1505.6,598.0 1507.1,597.5 1508.6,597.0 1510.1,596.6 1511.6,596.1 1513.1,595.6 1514.6,595.1 1516.1,594.6 1517.6,594.2 1519.1,593.7 1520.6,593.2 1522.1,592.8 1523.6,592.3 1525.1,591.8 1526.6,591.3 1528.1,590.9 1529.6,590.4 1531.1,589.9 1532.6,589.5 1534.1,589.0 1535.6,588.5 1537.1,588.1 1538.7,587.6 1540.2,587.1 1541.7,586.7 1543.2,586.2 1544.7,585.7 1546.2,585.3 1547.7,584.8 1549.2,584.3 1550.7,583.8 1552.2,583.4 1553.7,582.9 1555.2,582.4 1556.7,581.9 1558.2,581.5 1559.7,581.0 1561.2,580.5 1562.7,580.0 1564.2,579.6 1565.7,579.1 1567.2,578.6 1568.7,578.1 1570.2,577.6 1571.7,577.2 1573.2,576.7 1574.7,576.2 1576.2,575.7 1577.7,575.2 1579.2,574.7 1580.7,574.3 1582.2,573.8 1583.7,573.3 1585.2,572.8 1586.7,572.3 1588.2,571.8 1589.7,571.3 1591.2,570.8 1592.7,570.3 1594.2,569.9 1595.7,569.4 1597.2,568.9 1598.7,568.4 1600.2,567.9 1601.7,567.4 1603.2,566.9 1604.7,566.4 1606.2,565.9 1607.7,565.4 1609.2,564.9 1610.7,564.4 1612.2,563.9 1613.7,563.4 1615.2,562.9 1616.7,562.4 1618.2,562.0 1619.7,561.5 1621.2,561.0 1622.7,560.5 1624.2,560.0 1625.7,559.5 1627.2,559.0 1628.7,558.5 1630.2,558.0 1631.7,557.5 1633.2,557.0 1634.7,556.5 1636.2,556.0 1637.7,555.5 1639.2,555.0 1640.8,554.5 1642.3,554.0 1643.8,553.5 1645.3,553.0 1646.8,552.5 1648.3,552.0 1649.8,551.5 1651.3,551.0 1652.8,550.5 1654.3,550.0 1655.8,549.5 1657.3,549.0 1658.8,548.5 1660.3,548.1 1661.8,547.6 1663.3,547.1 1664.8,546.6 1666.3,546.1 1667.8,545.6 1669.3,545.1 1670.8,544.6 1672.3,544.1 1673.8,543.6 1675.3,543.1 1676.8,542.6 1678.3,542.1 1679.8,541.6 1681.3,541.1 1682.8,540.6 1684.3,540.1 1685.8,539.6 1687.3,539.2 1688.8,538.7 1690.3,538.2 1691.8,537.7 1693.3,537.2 1694.8,536.7 1696.3,536.2 1697.8,535.7 1699.3,535.2 1700.8,534.7 1702.3,534.2 1703.8,533.7 1705.3,533.2 1706.8,532.7 1708.3,532.2 1709.8,531.7 1711.3,531.2 1712.8,530.7 1714.3,530.1 1715.8,529.6 1717.3,529.1 1718.8,528.6 1720.3,528.1 1721.8,527.6 1723.3,527.1 1724.8,526.6 1726.3,526.1 1727.8,525.6 1729.3,525.1 1730.8,524.6 1732.3,524.0 1733.8,523.5 1735.3,523.0 1736.8,522.5 1738.3,522.0 1739.8,521.5 1741.3,521.0 1742.8,520.4 1744.4,519.9 1745.9,519.4 1747.4,518.9 1748.9,518.4 1750.4,517.8 1751.9,517.3 1753.4,516.8 1754.9,516.3 1756.4,515.8 1757.9,515.2 1759.4,514.7 1760.9,514.2 1762.4,513.7 1763.9,513.1 1765.4,512.6 1766.9,512.1 1768.4,511.6 1769.9,511.0 1771.4,510.5 1772.9,510.0 1774.4,509.4 1775.9,508.9 1777.4,508.4 1778.9,507.8 1780.4,507.3 1781.9,506.8 1783.4,506.2 1784.9,505.7 1786.4,505.2 1787.9,504.6 1789.4,504.1 1790.9,503.6 1792.4,503.0 1793.9,502.5 1795.4,501.9 1796.9,501.4 1798.4,500.9 1799.9,500.3 1801.4,499.8 1802.9,499.2 1804.4,498.7 1805.9,498.1 1807.4,497.6 1808.9,497.1 1810.4,496.5 1811.9,496.0 1813.4,495.4 1814.9,494.9 1816.4,494.3 1817.9,493.8 1819.4,493.2 1820.9,492.7 1822.4,492.1 1823.9,491.6 1825.4,491.1 1826.9,490.5 1828.4,490.0 1829.9,489.4 1831.4,488.9 1832.9,488.3 1834.4,487.8 1835.9,487.2 1837.4,486.7 1838.9,486.1 1840.4,485.5 1841.9,485.0 1843.4,484.4 1844.9,483.9 1846.5,483.3 1848.0,482.8 1849.5,482.2 1851.0,481.7 1852.5,481.1 1854.0,480.6 1855.5,480.0 1857.0,479.5 1858.5,478.9 1860.0,478.4 1861.5,477.8 1863.0,477.2 1864.5,476.7 1866.0,476.1 1867.5,475.6 1869.0,475.0 1870.5,474.5 1872.0,473.9 1873.5,473.4 1875.0,472.8 1876.5,472.2 1878.0,471.7 1879.5,471.1 1881.0,470.6 1882.5,470.0 1884.0,469.5 1885.5,468.9 1887.0,468.3 1888.5,467.8 1890.0,467.2 1891.5,466.7 1893.0,466.1 1894.5,465.5 1896.0,465.0 1897.5,464.4 1899.0,463.9 1900.5,463.3 1902.0,462.7 1903.5,462.2 1905.0,461.6 1906.5,461.1 1908.0,460.5 1909.5,459.9 1911.0,459.4 1912.5,458.8 1914.0,458.3 1915.5,457.7 1917.0,457.1 1918.5,456.6 1920.0,456.0 1921.5,455.4 1923.0,454.9 1924.5,454.3 1926.0,453.8 1927.5,453.2 1929.0,452.6 1930.5,452.1 1932.0,451.5 1933.5,450.9 1935.0,450.4 1936.5,449.8 1938.0,449.2 1939.5,448.7 1941.0,448.1 1942.5,447.6 1944.0,447.0 1945.5,446.4 1947.0,445.9 1948.6,445.3 1950.1,444.7 1951.6,444.2 1953.1,443.6 1954.6,443.0 1956.1,442.5 1957.6,441.9 1959.1,441.3 1960.6,440.8 1962.1,440.2 1963.6,439.6 1965.1,439.1 1966.6,438.5 1968.1,437.9 1969.6,437.4 1971.1,436.8 1972.6,436.2 1974.1,435.7 1975.6,435.1 1977.1,434.5 1978.6,433.9 1980.1,433.4 1981.6,432.8 1983.1,432.2 1984.6,431.7 1986.1,431.1 1987.6,430.5 1989.1,429.9 1990.6,429.4 1992.1,428.8 1993.6,428.2 1995.1,427.6 1996.6,427.1 1998.1,426.5 1999.6,425.9 2001.1,425.3 2002.6,424.8 2004.1,424.2 2005.6,423.6 2007.1,423.0 2008.6,422.4 2010.1,421.9 2011.6,421.3 2013.1,420.7 2014.6,420.1 2016.1,419.5 2017.6,418.9 2019.1,418.3 2020.6,417.8 2022.1,417.2 2023.6,416.6 2025.1,416.0 2026.6,415.4 2028.1,414.8 2029.6,414.2 2031.1,413.6 2032.6,413.0 2034.1,412.4 2035.6,411.8 2037.1,411.2 2038.6,410.6 2040.1,410.0 2041.6,409.4 2043.1,408.8 2044.6,408.2 2046.1,407.5 2047.6,406.9 2049.1,406.3 2050.7,405.7 2052.2,405.1 2053.7,404.5 2055.2,403.8 2056.7,403.2 2058.2,402.6 2059.7,402.0 2061.2,401.3 2062.7,400.7 2064.2,400.1 2065.7,399.4 2067.2,398.8 2068.7,398.2 2070.2,397.6 2071.7,396.9 2073.2,396.3 2074.7,395.6 2076.2,395.0 2077.7,394.4 2079.2,393.7 2080.7,393.1 2082.2,392.5 2083.7,391.8 2085.2,391.2 2086.7,390.6 2088.2,389.9 2089.7,389.3 2091.2,388.7 2092.7,388.1 2094.2,387.4 2095.7,386.8 2097.2,386.2 2098.7,385.5 2100.2,384.9 2101.7,384.3 2137.0,384.0 2137.0,498.8 2135.5,499.1 2134.0,499.3 2132.5,499.6 2131.0,499.8 2129.5,500.1 2128.0,500.4 2126.5,500.6 2125.0,500.9 2123.5,501.1 2122.0,501.4 2120.5,501.7 2119.0,501.9 2117.5,502.2 2116.0,502.5 2114.5,502.7 2113.0,503.0 2111.5,503.3 2110.0,503.6 2108.5,503.8 2107.0,504.1 2105.5,504.4 2104.0,504.7 2102.5,505.0 2101.0,505.3 2099.5,505.6 2097.9,505.9 2096.4,506.2 2094.9,506.4 2093.4,506.8 2091.9,507.1 2090.4,507.4 2088.9,507.7 2087.4,508.0 2085.9,508.3 2084.4,508.6 2082.9,508.9 2081.4,509.2 2079.9,509.6 2078.4,509.9 2076.9,510.2 2075.4,510.5 2073.9,510.9 2072.4,511.2 2070.9,511.5 2069.4,511.9 2067.9,512.2 2066.4,512.5 2064.9,512.9 2063.4,513.2 2061.9,513.5 2060.4,513.9 2058.9,514.2 2057.4,514.5 2055.9,514.9 2054.4,515.2 2052.9,515.6 2051.4,515.9 2049.9,516.3 2048.4,516.6 2046.9,516.9 2045.4,517.3 2043.9,517.6 2042.4,518.0 2040.9,518.3 2039.4,518.7 2037.9,519.0 2036.4,519.4 2034.9,519.7 2033.4,520.1 2031.9,520.4 2030.4,520.8 2028.9,521.1 2027.4,521.5 2025.9,521.8 2024.4,522.2 2022.8,522.5 2021.3,522.9 2019.8,523.2 2018.3,523.6 2016.8,524.0 2015.3,524.3 2013.8,524.7 2012.3,525.0 2010.8,525.4 2009.3,525.8 2007.8,526.1 2006.3,526.5 2004.8,526.8 2003.3,527.2 2001.8,527.6 2000.3,527.9 1998.8,528.3 1997.3,528.7 1995.8,529.0 1994.3,529.4 1992.8,529.8 1991.3,530.1 1989.8,530.5 1988.3,530.9 1986.8,531.3 1985.3,531.6 1983.8,532.0 1982.3,532.4 1980.8,532.8 1979.3,533.2 1977.8,533.5 1976.3,533.9 1974.8,534.3 1973.3,534.7 1971.8,535.1 1970.3,535.4 1968.8,535.8 1967.3,536.2 1965.8,536.6 1964.3,537.0 1962.8,537.4 1961.3,537.8 1959.8,538.2 1958.3,538.5 1956.8,538.9 1955.3,539.3 1953.8,539.7 1952.3,540.1 1950.8,540.5 1949.3,540.9 1947.8,541.3 1946.2,541.7 1944.7,542.1 1943.2,542.5 1941.7,542.9 1940.2,543.3 1938.7,543.7 1937.2,544.1 1935.7,544.5 1934.2,544.9 1932.7,545.3 1931.2,545.7 1929.7,546.1 1928.2,546.5 1926.7,546.9 1925.2,547.3 1923.7,547.8 1922.2,548.2 1920.7,548.6 1919.2,549.0 1917.7,549.4 1916.2,549.8 1914.7,550.2 1913.2,550.6 1911.7,551.0 1910.2,551.5 1908.7,551.9 1907.2,552.3 1905.7,552.7 1904.2,553.1 1902.7,553.5 1901.2,554.0 1899.7,554.4 1898.2,554.8 1896.7,555.2 1895.2,555.6 1893.7,556.1 1892.2,556.5 1890.7,556.9 1889.2,557.3 1887.7,557.7 1886.2,558.2 1884.7,558.6 1883.2,559.0 1881.7,559.4 1880.2,559.9 1878.7,560.3 1877.2,560.7 1875.7,561.1 1874.2,561.6 1872.7,562.0 1871.2,562.4 1869.6,562.9 1868.1,563.3 1866.6,563.7 1865.1,564.1 1863.6,564.6 1862.1,565.0 1860.6,565.4 1859.1,565.9 1857.6,566.3 1856.1,566.7 1854.6,567.2 1853.1,567.6 1851.6,568.0 1850.1,568.5 1848.6,568.9 1847.1,569.4 1845.6,569.8 1844.1,570.2 1842.6,570.7 1841.1,571.1 1839.6,571.5 1838.1,572.0 1836.6,572.4 1835.1,572.9 1833.6,573.3 1832.1,573.8 1830.6,574.2 1829.1,574.6 1827.6,575.1 1826.1,575.5 1824.6,576.0 1823.1,576.4 1821.6,576.9 1820.1,577.3 1818.6,577.8 1817.1,578.2 1815.6,578.6 1814.1,579.1 1812.6,579.5 1811.1,580.0 1809.6,580.4 1808.1,580.9 1806.6,581.3 1805.1,581.8 1803.6,582.2 1802.1,582.7 1800.6,583.1 1799.1,583.6 1797.6,584.0 1796.1,584.5 1794.5,584.9 1793.0,585.4 1791.5,585.8 1790.0,586.3 1788.5,586.7 1787.0,587.2 1785.5,587.6 1784.0,588.1 1782.5,588.5 1781.0,589.0 1779.5,589.4 1778.0,589.9 1776.5,590.3 1775.0,590.8 1773.5,591.2 1772.0,591.7 1770.5,592.1 1769.0,592.6 1767.5,593.0 1766.0,593.5 1764.5,593.9 1763.0,594.4 1761.5,594.8 1760.0,595.3 1758.5,595.8 1757.0,596.2 1755.5,596.7 1754.0,597.1 1752.5,597.6 1751.0,598.0 1749.5,598.5 1748.0,598.9 1746.5,599.4 1745.0,599.9 1743.5,600.3 1742.0,600.8 1740.5,601.2 1739.0,601.7 1737.5,602.1 1736.0,602.6 1734.5,603.1 1733.0,603.5 1731.5,604.0 1730.0,604.4 1728.5,604.9 1727.0,605.3 1725.5,605.8 1724.0,606.2 1722.5,606.7 1721.0,607.2 1719.5,607.6 1717.9,608.1 1716.4,608.5 1714.9,609.0 1713.4,609.4 1711.9,609.9 1710.4,610.3 1708.9,610.8 1707.4,611.2 1705.9,611.7 1704.4,612.1 1702.9,612.6 1701.4,613.0 1699.9,613.5 1698.4,613.9 1696.9,614.4 1695.4,614.8 1693.9,615.2 1692.4,615.7 1690.9,616.1 1689.4,616.6 1687.9,617.0 1686.4,617.4 1684.9,617.9 1683.4,618.3 1681.9,618.8 1680.4,619.2 1678.9,619.6 1677.4,620.1 1675.9,620.5 1674.4,621.0 1672.9,621.4 1671.4,621.8 1669.9,622.3 1668.4,622.7 1666.9,623.1 1665.4,623.6 1663.9,624.0 1662.4,624.4 1660.9,624.9 1659.4,625.3 1657.9,625.8 1656.4,626.2 1654.9,626.6 1653.4,627.1 1651.9,627.5 1650.4,627.9 1648.9,628.4 1647.4,628.8 1645.9,629.2 1644.4,629.7 1642.8,630.1 1641.3,630.6 1639.8,631.0 1638.3,631.4 1636.8,631.9 1635.3,632.3 1633.8,632.8 1632.3,633.2 1630.8,633.6 1629.3,634.1 1627.8,634.5 1626.3,635.0 1624.8,635.4 1623.3,635.8 1621.8,636.3 1620.3,636.7 1618.8,637.2 1617.3,637.6 1615.8,638.0 1614.3,638.5 1612.8,638.9 1611.3,639.4 1609.8,639.8 1608.3,640.2 1606.8,640.7 1605.3,641.1 1603.8,641.6 1602.3,642.0 1600.8,642.4 1599.3,642.9 1597.8,643.3 1596.3,643.8 1594.8,644.2 1593.3,644.6 1591.8,645.1 1590.3,645.5 1588.8,646.0 1587.3,646.4 1585.8,646.8 1584.3,647.3 1582.8,647.7 1581.3,648.2 1579.8,648.6 1578.3,649.1 1576.8,649.5 1575.3,649.9 1573.8,650.4 1572.3,650.8 1570.8,651.3 1569.3,651.7 1567.8,652.1 1566.2,652.6 1564.7,653.0 1563.2,653.5 1561.7,653.9 1560.2,654.4 1558.7,654.8 1557.2,655.2 1555.7,655.7 1554.2,656.1 1552.7,656.6 1551.2,657.0 1549.7,657.5 1548.2,657.9 1546.7,658.4 1545.2,658.8 1543.7,659.2 1542.2,659.7 1540.7,660.1 1539.2,660.6 1537.7,661.0 1536.2,661.5 1534.7,661.9 1533.2,662.4 1531.7,662.8 1530.2,663.2 1528.7,663.7 1527.2,664.1 1525.7,664.6 1524.2,665.0 1522.7,665.5 1521.2,665.9 1519.7,666.3 1518.2,666.8 1516.7,667.2 1515.2,667.6 1513.7,668.1 1512.2,668.5 1510.7,668.9 1509.2,669.3 1507.7,669.8 1506.2,670.2 1504.7,670.6 1503.2,671.0 1501.7,671.4 1500.2,671.9 1498.7,672.3 1497.2,672.7 1495.7,673.1 1494.2,673.5 1492.7,673.9 1491.1,674.3 1489.6,674.7 1488.1,675.1 1486.6,675.5 1485.1,675.9 1483.6,676.3 1482.1,676.7 1480.6,677.1 1479.1,677.4 1477.6,677.8 1476.1,678.2 1474.6,678.6 1473.1,679.0 1471.6,679.3 1470.1,679.7 1468.6,680.1 1467.1,680.5 1465.6,680.8 1464.1,681.2 1462.6,681.6 1461.1,681.9 1459.6,682.3 1458.1,682.7 1456.6,683.0 1455.1,683.4 1453.6,683.7 1452.1,684.1 1450.6,684.4 1449.1,684.8 1447.6,685.1 1446.1,685.4 1444.6,685.8 1443.1,686.1 1441.6,686.4 1440.1,686.7 1438.6,687.0 1437.1,687.4 1435.6,687.7 1434.1,688.0 1432.6,688.3 1431.1,688.5 1429.6,688.8 1428.1,689.1 1426.6,689.4 1425.1,689.6 1423.6,689.9 1422.1,690.1 1420.6,690.4 1419.1,690.6 1417.6,690.8 1416.1,691.0 1414.5,691.2 1413.0,691.4 1411.5,691.6 1410.0,691.8 1408.5,691.9 1407.0,692.1 1405.5,692.2 1404.0,692.3 1402.5,692.5 1401.0,692.6 1399.5,692.7 1398.0,692.8 1396.5,692.9 1395.0,693.0 1393.5,693.0 1392.0,693.1 1390.5,693.2 1389.0,693.3 1387.5,693.4 1386.0,693.5 1384.5,693.6 1383.0,693.7 1381.5,693.8 1380.0,693.9 1378.5,694.0 1377.0,694.1 1375.5,694.2 1374.0,694.4 1372.5,694.6 1371.0,694.7 1369.5,694.9 1368.0,695.1 1366.5,695.4 1365.0,695.6 1363.5,695.9 1362.0,696.1 1360.5,696.4 1359.0,696.8 1357.5,697.1 1356.0,697.4 1354.5,697.8 1353.0,698.2 1351.5,698.6 1350.0,699.0 1348.5,699.5 1347.0,699.9 1345.5,700.4 1344.0,700.9 1342.5,701.4 1341.0,701.9 1339.5,702.4 1337.9,703.0 1336.4,703.5 1334.9,704.1 1333.4,704.7 1331.9,705.3 1330.4,705.9 1328.9,706.5 1327.4,707.1 1325.9,707.7 1324.4,708.4 1322.9,709.0 1321.4,709.7 1319.9,710.3 1318.4,711.0 1316.9,711.7 1315.4,712.4 1313.9,713.1 1312.4,713.8 1310.9,714.5 1309.4,715.3 1307.9,716.0 1306.4,716.7 1304.9,717.5 1304.5,717.7" fill="#fffaee"/>
<polygon points="1304.5,330.6 1305.3,330.7 1307.7,331.0 1310.5,331.4 1313.5,331.7 1316.6,332.1 1320.0,332.6 1323.4,333.0 1326.9,333.5 1330.4,334.0 1333.9,334.4 1337.2,334.9 1340.5,335.4 1343.5,335.9 1346.7,336.4 1350.1,336.9 1353.5,337.4 1357.0,338.0 1360.4,338.6 1363.9,339.1 1367.3,339.7 1370.5,340.3 1373.7,340.8 1376.6,341.3 1379.3,341.8 1381.8,342.2 1383.9,342.6 1389.2,343.5 1392.0,344.1 1393.8,344.6 1396.0,345.5 1398.8,346.8 1401.6,348.4 1404.2,350.3 1406.7,352.7 1408.5,354.9 1410.1,357.2 1411.6,359.9 1413.1,363.1 1414.7,367.3 1415.5,369.7 1416.3,372.3 1417.1,375.1 1417.9,378.0 1418.7,381.1 1419.5,384.4 1420.3,387.9 1421.1,391.5 1421.9,395.3 1422.7,399.3 1423.2,402.0 1423.7,405.0 1424.3,408.2 1424.8,411.6 1425.4,415.2 1426.0,418.8 1426.5,422.5 1427.1,426.2 1427.6,429.7 1428.2,433.2 1428.6,436.5 1429.1,439.7 1429.5,442.5 1429.9,445.0 1430.2,447.2 1430.5,449.0 1468.5,437.8 1469.9,436.7 1471.7,435.3 1473.9,433.7 1476.3,431.9 1478.9,429.9 1481.7,427.8 1484.6,425.6 1487.4,423.4 1490.3,421.2 1493.0,419.2 1495.6,417.2 1497.9,415.4 1500.0,413.8 1503.2,411.3 1506.0,409.2 1508.4,407.3 1510.6,405.5 1512.8,403.8 1515.1,401.8 1517.8,399.6 1520.0,397.7 1522.4,395.7 1524.7,393.6 1527.1,391.4 1529.6,389.2 1532.1,387.0 1534.7,384.7 1537.3,382.4 1540.0,380.0 1542.2,378.1 1544.5,376.1 1546.8,374.1 1549.1,372.1 1551.5,370.1 1553.9,368.1 1556.3,365.9 1558.8,363.8 1561.4,361.6 1564.0,359.3 1566.7,357.0 1568.9,355.1 1571.1,353.2 1573.5,351.1 1575.8,349.1 1578.2,347.0 1580.7,344.9 1583.1,342.7 1585.6,340.6 1588.1,338.4 1590.5,336.3 1593.0,334.2 1595.4,332.1 1597.7,330.0 1600.0,328.0 1602.4,325.9 1604.8,323.7 1607.2,321.6 1609.5,319.5 1611.9,317.4 1614.2,315.3 1616.5,313.2 1618.8,311.2 1621.0,309.1 1623.3,307.1 1625.5,305.1 1627.8,303.1 1630.0,301.1 1632.4,299.0 1634.8,296.8 1637.1,294.7 1639.4,292.6 1641.7,290.5 1644.0,288.4 1646.3,286.3 1648.6,284.3 1650.9,282.3 1653.2,280.4 1655.5,278.5 1657.8,276.7 1660.3,274.8 1662.9,272.9 1665.5,271.2 1668.1,269.4 1670.8,267.7 1673.3,266.1 1675.9,264.5 1678.4,262.9 1680.9,261.4 1683.3,259.8 1685.6,258.3 1688.6,256.3 1691.5,254.3 1694.3,252.4 1697.0,250.5 1699.7,248.7 1702.4,246.9 1705.1,245.1 1707.8,243.3 1710.5,241.6 1713.0,239.9 1715.6,238.3 1718.1,236.8 1720.7,235.1 1723.5,233.4 1726.6,231.5 1730.0,229.4 1732.3,228.0 1734.7,226.5 1737.3,224.9 1740.0,223.2 1742.8,221.5 1745.7,219.7 1748.6,217.9 1751.4,216.2 1754.3,214.4 1757.1,212.7 1759.9,211.1 1762.5,209.5 1765.0,208.0 1768.0,206.2 1770.7,204.7 1773.2,203.3 1775.6,201.9 1778.0,200.6 1780.5,199.2 1783.2,197.7 1786.1,196.1 1789.5,194.2 1793.3,192.0 1795.4,190.8 1797.6,189.5 1799.8,188.2 1802.2,186.8 1804.6,185.4 1807.1,183.9 1809.7,182.4 1812.3,180.8 1815.0,179.2 1817.7,177.6 1820.5,176.0 1823.3,174.3 1826.2,172.7 1829.0,171.0 1831.9,169.3 1834.9,167.6 1837.8,165.9 1840.7,164.2 1843.7,162.6 1846.6,160.9 1849.1,159.5 1851.8,158.0 1854.5,156.5 1857.4,154.9 1860.3,153.3 1863.3,151.7 1866.4,150.0 1869.5,148.3 1872.6,146.6 1875.7,144.9 1878.9,143.3 1881.9,141.6 1885.0,140.0 1887.9,138.4 1890.8,136.8 1893.6,135.3 1896.3,133.9 1898.8,132.5 1901.3,131.2 1903.5,130.0 1905.6,128.9 1907.5,127.9 1909.1,127.0 1910.6,126.2 1912.4,114.7 1919.5,112.9 1919.6,114.6 1919.6,116.6 1919.7,118.8 1919.8,121.3 1919.9,124.0 1920.0,126.9 1920.1,129.9 1920.2,133.1 1920.3,136.5 1920.5,139.9 1920.6,143.4 1920.7,147.0 1920.8,150.7 1920.9,154.4 1921.0,158.0 1921.1,161.7 1921.2,165.3 1921.3,168.9 1921.4,171.7 1921.4,174.7 1921.5,177.7 1921.5,180.8 1921.5,184.1 1921.6,187.3 1921.6,190.6 1921.6,194.0 1921.7,197.4 1921.7,200.8 1921.7,204.2 1921.8,207.6 1921.8,210.9 1921.8,214.2 1921.9,217.5 1921.9,220.7 1921.9,223.8 1922.0,226.8 1922.0,229.7 1922.0,232.5 1922.1,235.1 1922.1,237.6 1922.2,240.0 1922.3,244.5 1922.4,248.6 1922.5,252.3 1922.5,255.6 1922.6,258.6 1922.7,261.4 1922.9,264.0 1923.1,266.4 1923.3,268.8 1923.6,271.0 1924.0,273.3 1925.0,277.2 1926.4,280.7 1927.9,283.7 1929.3,286.2 1930.6,288.3 1931.5,289.9 1933.5,288.2 1936.5,285.8 1940.0,284.0 1943.0,283.7 1946.3,284.0 1949.9,284.2 1953.3,283.5 1956.0,282.2 1958.7,280.4 1961.3,278.3 1964.0,275.9 1966.7,273.3 1968.9,271.0 1971.1,268.4 1973.4,265.7 1975.6,262.9 1977.8,260.1 1980.0,257.3 1981.9,254.9 1983.8,252.5 1985.7,250.1 1987.6,247.7 1989.5,245.2 1991.4,242.6 1993.3,240.0 1995.0,237.7 1996.6,235.3 1998.3,232.9 2000.0,230.4 2001.7,227.9 2003.4,225.3 2005.0,222.7 2006.7,220.0 2008.2,217.5 2009.7,214.9 2011.2,212.2 2012.8,209.5 2014.3,206.7 2015.8,203.9 2017.2,201.2 2018.6,198.6 2020.0,196.0 2021.7,192.7 2023.3,189.5 2024.9,186.3 2026.5,183.1 2028.0,180.1 2029.4,177.3 2030.7,174.7 2032.5,171.3 2034.3,168.1 2035.8,165.3 2037.1,163.0 2038.1,161.3 2041.2,78.9 2042.6,77.6 2045.1,75.8 2047.6,74.7 2050.6,73.5 2054.4,71.9 2057.1,70.7 2060.1,69.4 2063.3,68.0 2066.7,66.5 2070.0,64.9 2072.8,63.5 2075.7,62.1 2078.7,60.6 2081.6,59.2 2084.4,57.7 2087.1,56.3 2090.3,54.6 2093.6,52.8 2096.7,51.1 2099.2,49.6 2101.1,48.6 2137.0,48.1 2137.0,384.0 2101.7,384.3 2100.2,384.9 2098.7,385.5 2097.2,386.2 2095.7,386.8 2094.2,387.4 2092.7,388.1 2091.2,388.7 2089.7,389.3 2088.2,389.9 2086.7,390.6 2085.2,391.2 2083.7,391.8 2082.2,392.5 2080.7,393.1 2079.2,393.7 2077.7,394.4 2076.2,395.0 2074.7,395.6 2073.2,396.3 2071.7,396.9 2070.2,397.6 2068.7,398.2 2067.2,398.8 2065.7,399.4 2064.2,400.1 2062.7,400.7 2061.2,401.3 2059.7,402.0 2058.2,402.6 2056.7,403.2 2055.2,403.8 2053.7,404.5 2052.2,405.1 2050.7,405.7 2049.1,406.3 2047.6,406.9 2046.1,407.5 2044.6,408.2 2043.1,408.8 2041.6,409.4 2040.1,410.0 2038.6,410.6 2037.1,411.2 2035.6,411.8 2034.1,412.4 2032.6,413.0 2031.1,413.6 2029.6,414.2 2028.1,414.8 2026.6,415.4 2025.1,416.0 2023.6,416.6 2022.1,417.2 2020.6,417.8 2019.1,418.3 2017.6,418.9 2016.1,419.5 2014.6,420.1 2013.1,420.7 2011.6,421.3 2010.1,421.9 2008.6,422.4 2007.1,423.0 2005.6,423.6 2004.1,424.2 2002.6,424.8 2001.1,425.3 1999.6,425.9 1998.1,426.5 1996.6,427.1 1995.1,427.6 1993.6,428.2 1992.1,428.8 1990.6,429.4 1989.1,429.9 1987.6,430.5 1986.1,431.1 1984.6,431.7 1983.1,432.2 1981.6,432.8 1980.1,433.4 1978.6,433.9 1977.1,434.5 1975.6,435.1 1974.1,435.7 1972.6,436.2 1971.1,436.8 1969.6,437.4 1968.1,437.9 1966.6,438.5 1965.1,439.1 1963.6,439.6 1962.1,440.2 1960.6,440.8 1959.1,441.3 1957.6,441.9 1956.1,442.5 1954.6,443.0 1953.1,443.6 1951.6,444.2 1950.1,444.7 1948.6,445.3 1947.0,445.9 1945.5,446.4 1944.0,447.0 1942.5,447.6 1941.0,448.1 1939.5,448.7 1938.0,449.2 1936.5,449.8 1935.0,450.4 1933.5,450.9 1932.0,451.5 1930.5,452.1 1929.0,452.6 1927.5,453.2 1926.0,453.8 1924.5,454.3 1923.0,454.9 1921.5,455.4 1920.0,456.0 1918.5,456.6 1917.0,457.1 1915.5,457.7 1914.0,458.3 1912.5,458.8 1911.0,459.4 1909.5,459.9 1908.0,460.5 1906.5,461.1 1905.0,461.6 1903.5,462.2 1902.0,462.7 1900.5,463.3 1899.0,463.9 1897.5,464.4 1896.0,465.0 1894.5,465.5 1893.0,466.1 1891.5,466.7 1890.0,467.2 1888.5,467.8 1887.0,468.3 1885.5,468.9 1884.0,469.5 1882.5,470.0 1881.0,470.6 1879.5,471.1 1878.0,471.7 1876.5,472.2 1875.0,472.8 1873.5,473.4 1872.0,473.9 1870.5,474.5 1869.0,475.0 1867.5,475.6 1866.0,476.1 1864.5,476.7 1863.0,477.2 1861.5,477.8 1860.0,478.4 1858.5,478.9 1857.0,479.5 1855.5,480.0 1854.0,480.6 1852.5,481.1 1851.0,481.7 1849.5,482.2 1848.0,482.8 1846.5,483.3 1844.9,483.9 1843.4,484.4 1841.9,485.0 1840.4,485.5 1838.9,486.1 1837.4,486.7 1835.9,487.2 1834.4,487.8 1832.9,488.3 1831.4,488.9 1829.9,489.4 1828.4,490.0 1826.9,490.5 1825.4,491.1 1823.9,491.6 1822.4,492.1 1820.9,492.7 1819.4,493.2 1817.9,493.8 1816.4,494.3 1814.9,494.9 1813.4,495.4 1811.9,496.0 1810.4,496.5 1808.9,497.1 1807.4,497.6 1805.9,498.1 1804.4,498.7 1802.9,499.2 1801.4,499.8 1799.9,500.3 1798.4,500.9 1796.9,501.4 1795.4,501.9 1793.9,502.5 1792.4,503.0 1790.9,503.6 1789.4,504.1 1787.9,504.6 1786.4,505.2 1784.9,505.7 1783.4,506.2 1781.9,506.8 1780.4,507.3 1778.9,507.8 1777.4,508.4 1775.9,508.9 1774.4,509.4 1772.9,510.0 1771.4,510.5 1769.9,511.0 1768.4,511.6 1766.9,512.1 1765.4,512.6 1763.9,513.1 1762.4,513.7 1760.9,514.2 1759.4,514.7 1757.9,515.2 1756.4,515.8 1754.9,516.3 1753.4,516.8 1751.9,517.3 1750.4,517.8 1748.9,518.4 1747.4,518.9 1745.9,519.4 1744.4,519.9 1742.8,520.4 1741.3,521.0 1739.8,521.5 1738.3,522.0 1736.8,522.5 1735.3,523.0 1733.8,523.5 1732.3,524.0 1730.8,524.6 1729.3,525.1 1727.8,525.6 1726.3,526.1 1724.8,526.6 1723.3,527.1 1721.8,527.6 1720.3,528.1 1718.8,528.6 1717.3,529.1 1715.8,529.6 1714.3,530.1 1712.8,530.7 1711.3,531.2 1709.8,531.7 1708.3,532.2 1706.8,532.7 1705.3,533.2 1703.8,533.7 1702.3,534.2 1700.8,534.7 1699.3,535.2 1697.8,535.7 1696.3,536.2 1694.8,536.7 1693.3,537.2 1691.8,537.7 1690.3,538.2 1688.8,538.7 1687.3,539.2 1685.8,539.6 1684.3,540.1 1682.8,540.6 1681.3,541.1 1679.8,541.6 1678.3,542.1 1676.8,542.6 1675.3,543.1 1673.8,543.6 1672.3,544.1 1670.8,544.6 1669.3,545.1 1667.8,545.6 1666.3,546.1 1664.8,546.6 1663.3,547.1 1661.8,547.6 1660.3,548.1 1658.8,548.5 1657.3,549.0 1655.8,549.5 1654.3,550.0 1652.8,550.5 1651.3,551.0 1649.8,551.5 1648.3,552.0 1646.8,552.5 1645.3,553.0 1643.8,553.5 1642.3,554.0 1640.8,554.5 1639.2,555.0 1637.7,555.5 1636.2,556.0 1634.7,556.5 1633.2,557.0 1631.7,557.5 1630.2,558.0 1628.7,558.5 1627.2,559.0 1625.7,559.5 1624.2,560.0 1622.7,560.5 1621.2,561.0 1619.7,561.5 1618.2,562.0 1616.7,562.4 1615.2,562.9 1613.7,563.4 1612.2,563.9 1610.7,564.4 1609.2,564.9 1607.7,565.4 1606.2,565.9 1604.7,566.4 1603.2,566.9 1601.7,567.4 1600.2,567.9 1598.7,568.4 1597.2,568.9 1595.7,569.4 1594.2,569.9 1592.7,570.3 1591.2,570.8 1589.7,571.3 1588.2,571.8 1586.7,572.3 1585.2,572.8 1583.7,573.3 1582.2,573.8 1580.7,574.3 1579.2,574.7 1577.7,575.2 1576.2,575.7 1574.7,576.2 1573.2,576.7 1571.7,577.2 1570.2,577.6 1568.7,578.1 1567.2,578.6 1565.7,579.1 1564.2,579.6 1562.7,580.0 1561.2,580.5 1559.7,581.0 1558.2,581.5 1556.7,581.9 1555.2,582.4 1553.7,582.9 1552.2,583.4 1550.7,583.8 1549.2,584.3 1547.7,584.8 1546.2,585.3 1544.7,585.7 1543.2,586.2 1541.7,586.7 1540.2,587.1 1538.7,587.6 1537.1,588.1 1535.6,588.5 1534.1,589.0 1532.6,589.5 1531.1,589.9 1529.6,590.4 1528.1,590.9 1526.6,591.3 1525.1,591.8 1523.6,592.3 1522.1,592.8 1520.6,593.2 1519.1,593.7 1517.6,594.2 1516.1,594.6 1514.6,595.1 1513.1,595.6 1511.6,596.1 1510.1,596.6 1508.6,597.0 1507.1,597.5 1505.6,598.0 1504.1,598.5 1502.6,599.0 1501.1,599.5 1499.6,600.0 1498.1,600.5 1496.6,600.9 1495.1,601.4 1493.6,601.9 1492.1,602.5 1490.6,603.0 1489.1,603.5 1487.6,604.0 1486.1,604.5 1484.6,605.0 1483.1,605.6 1481.6,606.1 1480.1,606.6 1478.6,607.2 1477.1,607.7 1475.6,608.3 1474.1,608.8 1472.6,609.4 1471.1,609.9 1469.6,610.5 1468.1,611.1 1466.6,611.7 1465.1,612.3 1463.6,612.9 1462.1,613.5 1460.6,614.1 1459.1,614.7 1457.6,615.3 1456.1,616.0 1454.6,616.6 1453.1,617.3 1451.6,617.9 1450.1,618.6 1448.6,619.3 1447.1,620.0 1445.6,620.7 1444.1,621.4 1442.6,622.1 1441.1,622.8 1439.6,623.6 1438.1,624.3 1436.6,625.1 1435.0,625.9 1433.5,626.7 1432.0,627.5 1430.5,628.3 1429.0,629.1 1427.5,630.0 1426.0,630.8 1424.5,631.7 1423.0,632.6 1421.5,633.5 1420.0,634.4 1418.5,635.3 1417.0,636.3 1415.5,637.2 1414.0,638.2 1412.5,639.1 1411.0,640.1 1409.5,641.1 1408.0,642.2 1406.5,643.2 1405.0,644.3 1403.5,645.3 1402.0,646.4 1400.5,647.5 1399.0,648.6 1397.5,649.7 1396.0,650.8 1394.5,651.9 1393.0,653.1 1391.5,654.2 1390.0,655.3 1388.5,656.5 1387.0,657.7 1385.5,658.8 1384.0,660.0 1370.6,599.6 1304.5,644.7" fill="#fdf0e6"/>
<polygon points="1304.5,324.4 1305.1,323.9 1307.1,321.9 1309.5,319.6 1312.1,317.1 1314.8,314.5 1317.5,311.9 1320.0,309.5 1322.3,307.2 1324.7,304.8 1327.0,302.5 1329.3,300.1 1331.7,297.9 1334.0,295.8 1336.3,294.0 1339.2,292.1 1342.2,290.4 1345.3,288.8 1348.2,287.5 1350.6,286.4 1352.3,285.6 1354.0,282.6 1355.7,281.6 1358.0,280.3 1360.7,278.7 1363.8,276.9 1366.9,275.1 1369.9,273.4 1372.7,271.8 1375.0,270.5 1377.8,268.9 1379.4,267.9 1381.8,266.8 1386.7,264.4 1388.7,263.4 1391.1,262.3 1393.8,261.1 1396.7,259.8 1399.8,258.4 1403.0,256.9 1406.4,255.3 1409.8,253.8 1413.1,252.3 1416.4,250.8 1419.6,249.3 1422.6,247.9 1425.4,246.7 1428.0,245.5 1430.2,244.5 1434.6,242.5 1437.9,241.2 1440.6,240.1 1442.8,239.1 1445.2,238.0 1447.9,236.4 1450.3,234.8 1452.8,233.1 1455.3,231.1 1457.9,229.1 1460.4,227.1 1462.9,225.2 1465.2,223.4 1467.3,221.9 1470.6,219.6 1473.2,218.0 1476.0,216.3 1480.0,214.0 1482.1,212.8 1484.4,211.5 1487.0,210.1 1489.7,208.6 1492.5,207.1 1495.4,205.5 1498.3,204.0 1501.1,202.4 1504.0,200.8 1506.7,199.3 1509.4,197.8 1512.0,196.3 1514.7,194.8 1517.3,193.2 1520.0,191.7 1522.7,190.1 1525.3,188.6 1528.0,187.1 1530.6,185.5 1533.3,184.0 1536.0,182.5 1538.6,180.9 1541.3,179.4 1544.0,177.9 1546.6,176.3 1549.3,174.8 1552.0,173.2 1554.7,171.7 1557.3,170.2 1560.0,168.7 1562.7,167.2 1565.3,165.7 1568.0,164.2 1570.7,162.8 1573.4,161.3 1576.0,159.9 1578.7,158.4 1581.4,156.9 1584.0,155.5 1586.7,154.0 1589.4,152.5 1592.2,150.9 1595.0,149.4 1597.8,147.8 1600.6,146.2 1603.4,144.6 1606.1,143.2 1608.6,141.8 1611.0,140.5 1613.3,139.3 1616.8,137.6 1620.2,136.0 1623.3,134.7 1626.0,133.6 1628.3,132.7 1630.0,132.0 1636.0,222.0 1637.0,230.0 1644.1,234.7 1645.4,233.2 1647.1,231.1 1649.1,228.7 1651.3,225.9 1653.7,223.1 1656.2,220.1 1658.7,217.2 1661.1,214.5 1663.3,212.0 1665.6,209.5 1667.9,207.0 1670.2,204.6 1672.5,202.3 1674.8,200.0 1677.2,197.8 1679.5,195.5 1682.0,193.3 1684.2,191.3 1686.5,189.3 1688.7,187.2 1691.0,185.2 1693.3,183.2 1695.7,181.3 1698.2,179.5 1700.7,177.7 1703.3,176.0 1706.0,174.4 1708.8,172.8 1711.8,171.3 1714.7,169.9 1717.8,168.5 1720.8,167.2 1723.9,166.0 1727.0,165.0 1730.0,164.0 1733.1,163.2 1736.3,162.4 1739.6,161.8 1742.8,161.3 1746.1,160.9 1749.2,160.5 1752.3,160.3 1755.1,160.1 1757.8,160.0 1762.1,160.1 1765.9,160.5 1769.3,161.1 1772.5,161.9 1775.5,162.7 1779.1,163.8 1782.2,165.1 1785.2,166.6 1788.0,168.0 1791.8,170.2 1795.4,172.6 1797.8,174.2 1799.3,173.3 1801.1,172.3 1803.2,171.1 1805.5,169.7 1808.1,168.3 1810.9,166.6 1814.0,164.9 1817.3,162.9 1820.9,160.9 1824.8,158.7 1828.9,156.4 1831.0,155.2 1833.4,153.9 1835.9,152.5 1838.6,150.9 1841.5,149.4 1844.5,147.7 1847.5,146.0 1850.7,144.2 1853.9,142.5 1857.1,140.7 1860.3,138.9 1863.5,137.1 1866.7,135.3 1869.8,133.6 1872.8,131.9 1875.7,130.3 1878.5,128.8 1881.1,127.3 1883.6,126.0 1885.8,124.7 1887.8,123.6 1889.6,122.6 1891.1,121.8 1900.9,104.9 1912.4,108.4 1912.4,108.4 1912.4,114.7 1912.4,114.7 1910.6,126.2 1909.1,127.0 1907.5,127.9 1905.6,128.9 1903.5,130.0 1901.3,131.2 1898.8,132.5 1896.3,133.9 1893.6,135.3 1890.8,136.8 1887.9,138.4 1885.0,140.0 1881.9,141.6 1878.9,143.3 1875.7,144.9 1872.6,146.6 1869.5,148.3 1866.4,150.0 1863.3,151.7 1860.3,153.3 1857.4,154.9 1854.5,156.5 1851.8,158.0 1849.1,159.5 1846.6,160.9 1843.7,162.6 1840.7,164.2 1837.8,165.9 1834.9,167.6 1831.9,169.3 1829.0,171.0 1826.2,172.7 1823.3,174.3 1820.5,176.0 1817.7,177.6 1815.0,179.2 1812.3,180.8 1809.7,182.4 1807.1,183.9 1804.6,185.4 1802.2,186.8 1799.8,188.2 1797.6,189.5 1795.4,190.8 1793.3,192.0 1789.5,194.2 1786.1,196.1 1783.2,197.7 1780.5,199.2 1778.0,200.6 1775.6,201.9 1773.2,203.3 1770.7,204.7 1768.0,206.2 1765.0,208.0 1762.5,209.5 1759.9,211.1 1757.1,212.7 1754.3,214.4 1751.4,216.2 1748.6,217.9 1745.7,219.7 1742.8,221.5 1740.0,223.2 1737.3,224.9 1734.7,226.5 1732.3,228.0 1730.0,229.4 1726.6,231.5 1723.5,233.4 1720.7,235.1 1718.1,236.8 1715.6,238.3 1713.0,239.9 1710.5,241.6 1707.8,243.3 1705.1,245.1 1702.4,246.9 1699.7,248.7 1697.0,250.5 1694.3,252.4 1691.5,254.3 1688.6,256.3 1685.6,258.3 1683.3,259.8 1680.9,261.4 1678.4,262.9 1675.9,264.5 1673.3,266.1 1670.8,267.7 1668.1,269.4 1665.5,271.2 1662.9,272.9 1660.3,274.8 1657.8,276.7 1655.5,278.5 1653.2,280.4 1650.9,282.3 1648.6,284.3 1646.3,286.3 1644.0,288.4 1641.7,290.5 1639.4,292.6 1637.1,294.7 1634.8,296.8 1632.4,299.0 1630.0,301.1 1627.8,303.1 1625.5,305.1 1623.3,307.1 1621.0,309.1 1618.8,311.2 1616.5,313.2 1614.2,315.3 1611.9,317.4 1609.5,319.5 1607.2,321.6 1604.8,323.7 1602.4,325.9 1600.0,328.0 1597.7,330.0 1595.4,332.1 1593.0,334.2 1590.5,336.3 1588.1,338.4 1585.6,340.6 1583.1,342.7 1580.7,344.9 1578.2,347.0 1575.8,349.1 1573.5,351.1 1571.1,353.2 1568.9,355.1 1566.7,357.0 1564.0,359.3 1561.4,361.6 1558.8,363.8 1556.3,365.9 1553.9,368.1 1551.5,370.1 1549.1,372.1 1546.8,374.1 1544.5,376.1 1542.2,378.1 1540.0,380.0 1537.3,382.4 1534.7,384.7 1532.1,387.0 1529.6,389.2 1527.1,391.4 1524.7,393.6 1522.4,395.7 1520.0,397.7 1517.8,399.6 1515.1,401.8 1512.8,403.8 1510.6,405.5 1508.4,407.3 1506.0,409.2 1503.2,411.3 1500.0,413.8 1497.9,415.4 1495.6,417.2 1493.0,419.2 1490.3,421.2 1487.4,423.4 1484.6,425.6 1481.7,427.8 1478.9,429.9 1476.3,431.9 1473.9,433.7 1471.7,435.3 1469.9,436.7 1468.5,437.8 1430.5,449.0 1430.2,447.2 1429.9,445.0 1429.5,442.5 1429.1,439.7 1428.6,436.5 1428.2,433.2 1427.6,429.7 1427.1,426.2 1426.5,422.5 1426.0,418.8 1425.4,415.2 1424.8,411.6 1424.3,408.2 1423.7,405.0 1423.2,402.0 1422.7,399.3 1421.9,395.3 1421.1,391.5 1420.3,387.9 1419.5,384.4 1418.7,381.1 1417.9,378.0 1417.1,375.1 1416.3,372.3 1415.5,369.7 1414.7,367.3 1413.1,363.1 1411.6,359.9 1410.1,357.2 1408.5,354.9 1406.7,352.7 1404.2,350.3 1401.6,348.4 1398.8,346.8 1396.0,345.5 1393.8,344.6 1392.0,344.1 1389.2,343.5 1383.9,342.6 1381.8,342.2 1379.3,341.8 1376.6,341.3 1373.7,340.8 1370.5,340.3 1367.3,339.7 1363.9,339.1 1360.4,338.6 1357.0,338.0 1353.5,337.4 1350.1,336.9 1346.7,336.4 1343.5,335.9 1340.5,335.4 1337.2,334.9 1333.9,334.4 1330.4,334.0 1326.9,333.5 1323.4,333.0 1320.0,332.6 1316.6,332.1 1313.5,331.7 1310.5,331.4 1307.7,331.0 1305.3,330.7 1304.5,330.6" fill="#eaf2f9"/>
<path d="M1468.5,438.0 L1470.0,437.3 L1471.5,436.6 L1473.0,435.8 L1474.5,435.1 L1476.0,434.4 L1477.5,433.6 L1479.0,432.9 L1480.5,432.1 L1482.0,431.4 L1483.5,430.6 L1485.0,429.9 L1486.5,429.1 L1488.0,428.3 L1489.5,427.5 L1491.0,426.7 L1492.5,425.9 L1494.0,425.1 L1495.5,424.3 L1497.0,423.5 L1498.5,422.6 L1500.0,421.8 L1501.5,420.9 L1503.0,420.0 L1504.5,419.1 L1506.0,418.2 L1507.5,417.3 L1509.0,416.4 L1510.5,415.5 L1512.0,414.6 L1513.5,413.6 L1515.0,412.6 L1516.5,411.7 L1518.0,410.7 L1519.5,409.7 L1521.0,408.7 L1522.5,407.7 L1524.0,406.6 L1525.5,405.6 L1527.0,404.6 L1528.5,403.5 L1530.0,402.4 L1531.5,401.4 L1533.0,400.3 L1534.5,399.2 L1536.0,398.1 L1537.5,396.9 L1539.0,395.8 L1540.5,394.7 L1542.0,393.6 L1543.5,392.4 L1545.0,391.3 L1546.5,390.1 L1548.0,388.9 L1549.5,387.8 L1551.0,386.6 L1552.5,385.4 L1554.0,384.2 L1555.5,383.0 L1557.0,381.8 L1558.5,380.6 L1560.0,379.4 L1561.5,378.2 L1563.0,377.0 L1564.5,375.8 L1566.0,374.6 L1567.5,373.4 L1569.0,372.1 L1570.5,370.9 L1572.0,369.7 L1573.5,368.4 L1575.0,367.2 L1576.5,365.9 L1578.0,364.7 L1579.5,363.4 L1581.0,362.2 L1582.5,360.9 L1584.0,359.6 L1585.5,358.4 L1587.0,357.1 L1588.5,355.8 L1590.0,354.5 L1591.5,353.2 L1593.0,351.9 L1594.5,350.6 L1596.0,349.3 L1597.5,348.0 L1599.0,346.7 L1600.5,345.4 L1602.0,344.1 L1603.5,342.7 L1605.0,341.4 L1606.5,340.1 L1608.0,338.7 L1609.5,337.4 L1611.0,336.0 L1612.5,334.7 L1614.0,333.3 L1615.5,331.9 L1617.0,330.6 L1618.5,329.2 L1620.0,327.9 L1621.5,326.5 L1623.0,325.1 L1624.5,323.7 L1626.0,322.4 L1627.5,321.0 L1629.0,319.6 L1630.5,318.3 L1632.0,316.9 L1633.5,315.5 L1635.0,314.1 L1636.5,312.8 L1638.0,311.4 L1639.5,310.0 L1641.0,308.7 L1642.5,307.3 L1644.0,305.9 L1645.5,304.6 L1647.0,303.2 L1648.5,301.8 L1650.0,300.5 L1651.5,299.1 L1653.0,297.8 L1654.5,296.5 L1656.0,295.1 L1657.5,293.8 L1659.0,292.5 L1660.5,291.2 L1662.0,289.8 L1663.5,288.5 L1665.0,287.2 L1666.5,285.9 L1668.0,284.7 L1669.5,283.4 L1671.0,282.1 L1672.5,280.8 L1674.0,279.6 L1675.5,278.3 L1677.0,277.1 L1678.5,275.8 L1680.0,274.6 L1681.5,273.4 L1683.0,272.2 L1684.5,271.0 L1686.0,269.8 L1687.5,268.6 L1689.0,267.4 L1690.5,266.2 L1692.0,265.0 L1693.5,263.8 L1695.0,262.7 L1696.5,261.5 L1698.0,260.3 L1699.5,259.2 L1701.0,258.0 L1702.5,256.8 L1704.0,255.7 L1705.5,254.5 L1707.0,253.4 L1708.5,252.2 L1710.0,251.1" fill="none" stroke="#b9d6ec" stroke-width="3.40" stroke-linejoin="round" stroke-linecap="butt"/>
<path d="M1225.3,758.7 L1226.8,757.9 L1228.3,757.2 L1229.8,756.4 L1231.3,755.7 L1232.8,754.9 L1234.3,754.2 L1235.8,753.4 L1237.3,752.6 L1238.8,751.9 L1240.3,751.1 L1241.8,750.3 L1243.3,749.6 L1244.8,748.8 L1246.3,748.0 L1247.8,747.3 L1249.3,746.5 L1250.8,745.7 L1252.3,745.0 L1253.8,744.2 L1255.3,743.4 L1256.8,742.6 L1258.3,741.8 L1259.8,741.1 L1261.3,740.3 L1262.8,739.5 L1264.4,738.7 L1265.9,737.9 L1267.4,737.1 L1268.9,736.3 L1270.4,735.5 L1271.9,734.7 L1273.4,733.9 L1274.9,733.1 L1276.4,732.3 L1277.9,731.5 L1279.4,730.7 L1280.9,729.9 L1282.4,729.1 L1283.9,728.3 L1285.4,727.5 L1286.9,726.7 L1288.4,725.9 L1289.9,725.2 L1291.4,724.4 L1292.9,723.6 L1294.4,722.8 L1295.9,722.0 L1297.4,721.3 L1298.9,720.5 L1300.4,719.7 L1301.9,719.0 L1303.4,718.2 L1304.9,717.5 L1306.4,716.7 L1307.9,716.0 L1309.4,715.3 L1310.9,714.5 L1312.4,713.8 L1313.9,713.1 L1315.4,712.4 L1316.9,711.7 L1318.4,711.0 L1319.9,710.3 L1321.4,709.7 L1322.9,709.0 L1324.4,708.4 L1325.9,707.7 L1327.4,707.1 L1328.9,706.5 L1330.4,705.9 L1331.9,705.3 L1333.4,704.7 L1334.9,704.1 L1336.4,703.5 L1337.9,703.0 L1339.5,702.4 L1341.0,701.9 L1342.5,701.4 L1344.0,700.9 L1345.5,700.4 L1347.0,699.9 L1348.5,699.5 L1350.0,699.0 L1351.5,698.6 L1353.0,698.2 L1354.5,697.8 L1356.0,697.4 L1357.5,697.1 L1359.0,696.8 L1360.5,696.4 L1362.0,696.1 L1363.5,695.9 L1365.0,695.6 L1366.5,695.4 L1368.0,695.1 L1369.5,694.9 L1371.0,694.7 L1372.5,694.6 L1374.0,694.4 L1375.5,694.2 L1377.0,694.1 L1378.5,694.0 L1380.0,693.9 L1381.5,693.8 L1383.0,693.7 L1384.5,693.6 L1386.0,693.5 L1387.5,693.4 L1389.0,693.3 L1390.5,693.2 L1392.0,693.1 L1393.5,693.0 L1395.0,693.0 L1396.5,692.9 L1398.0,692.8 L1399.5,692.7 L1401.0,692.6 L1402.5,692.5 L1404.0,692.3 L1405.5,692.2 L1407.0,692.1 L1408.5,691.9 L1410.0,691.8 L1411.5,691.6 L1413.0,691.4 L1414.5,691.2 L1416.1,691.0 L1417.6,690.8 L1419.1,690.6 L1420.6,690.4 L1422.1,690.1 L1423.6,689.9 L1425.1,689.6 L1426.6,689.4 L1428.1,689.1 L1429.6,688.8 L1431.1,688.5 L1432.6,688.3 L1434.1,688.0 L1435.6,687.7 L1437.1,687.4 L1438.6,687.0 L1440.1,686.7 L1441.6,686.4 L1443.1,686.1 L1444.6,685.8 L1446.1,685.4 L1447.6,685.1 L1449.1,684.8 L1450.6,684.4 L1452.1,684.1 L1453.6,683.7 L1455.1,683.4 L1456.6,683.0 L1458.1,682.7 L1459.6,682.3 L1461.1,681.9 L1462.6,681.6 L1464.1,681.2 L1465.6,680.8 L1467.1,680.5 L1468.6,680.1 L1470.1,679.7 L1471.6,679.3 L1473.1,679.0 L1474.6,678.6 L1476.1,678.2 L1477.6,677.8 L1479.1,677.4 L1480.6,677.1 L1482.1,676.7 L1483.6,676.3 L1485.1,675.9 L1486.6,675.5 L1488.1,675.1 L1489.6,674.7 L1491.1,674.3 L1492.7,673.9 L1494.2,673.5 L1495.7,673.1 L1497.2,672.7 L1498.7,672.3 L1500.2,671.9 L1501.7,671.4 L1503.2,671.0 L1504.7,670.6 L1506.2,670.2 L1507.7,669.8 L1509.2,669.3 L1510.7,668.9 L1512.2,668.5 L1513.7,668.1 L1515.2,667.6 L1516.7,667.2 L1518.2,666.8 L1519.7,666.3 L1521.2,665.9 L1522.7,665.5 L1524.2,665.0 L1525.7,664.6 L1527.2,664.1 L1528.7,663.7 L1530.2,663.2 L1531.7,662.8 L1533.2,662.4 L1534.7,661.9 L1536.2,661.5 L1537.7,661.0 L1539.2,660.6 L1540.7,660.1 L1542.2,659.7 L1543.7,659.2 L1545.2,658.8 L1546.7,658.4 L1548.2,657.9 L1549.7,657.5 L1551.2,657.0 L1552.7,656.6 L1554.2,656.1 L1555.7,655.7 L1557.2,655.2 L1558.7,654.8 L1560.2,654.4 L1561.7,653.9 L1563.2,653.5 L1564.7,653.0 L1566.2,652.6 L1567.8,652.1 L1569.3,651.7 L1570.8,651.3 L1572.3,650.8 L1573.8,650.4 L1575.3,649.9 L1576.8,649.5 L1578.3,649.1 L1579.8,648.6 L1581.3,648.2 L1582.8,647.7 L1584.3,647.3 L1585.8,646.8 L1587.3,646.4 L1588.8,646.0 L1590.3,645.5 L1591.8,645.1 L1593.3,644.6 L1594.8,644.2 L1596.3,643.8 L1597.8,643.3 L1599.3,642.9 L1600.8,642.4 L1602.3,642.0 L1603.8,641.6 L1605.3,641.1 L1606.8,640.7 L1608.3,640.2 L1609.8,639.8 L1611.3,639.4 L1612.8,638.9 L1614.3,638.5 L1615.8,638.0 L1617.3,637.6 L1618.8,637.2 L1620.3,636.7 L1621.8,636.3 L1623.3,635.8 L1624.8,635.4 L1626.3,635.0 L1627.8,634.5 L1629.3,634.1 L1630.8,633.6 L1632.3,633.2 L1633.8,632.8 L1635.3,632.3 L1636.8,631.9 L1638.3,631.4 L1639.8,631.0 L1641.3,630.6 L1642.8,630.1 L1644.4,629.7 L1645.9,629.2 L1647.4,628.8 L1648.9,628.4 L1650.4,627.9 L1651.9,627.5 L1653.4,627.1 L1654.9,626.6 L1656.4,626.2 L1657.9,625.8 L1659.4,625.3 L1660.9,624.9 L1662.4,624.4 L1663.9,624.0 L1665.4,623.6 L1666.9,623.1 L1668.4,622.7 L1669.9,622.3 L1671.4,621.8 L1672.9,621.4 L1674.4,621.0 L1675.9,620.5 L1677.4,620.1 L1678.9,619.6 L1680.4,619.2 L1681.9,618.8 L1683.4,618.3 L1684.9,617.9 L1686.4,617.4 L1687.9,617.0 L1689.4,616.6 L1690.9,616.1 L1692.4,615.7 L1693.9,615.2 L1695.4,614.8 L1696.9,614.4 L1698.4,613.9 L1699.9,613.5 L1701.4,613.0 L1702.9,612.6 L1704.4,612.1 L1705.9,611.7 L1707.4,611.2 L1708.9,610.8 L1710.4,610.3 L1711.9,609.9 L1713.4,609.4 L1714.9,609.0 L1716.4,608.5 L1717.9,608.1 L1719.5,607.6 L1721.0,607.2 L1722.5,606.7 L1724.0,606.2 L1725.5,605.8 L1727.0,605.3 L1728.5,604.9 L1730.0,604.4 L1731.5,604.0 L1733.0,603.5 L1734.5,603.1 L1736.0,602.6 L1737.5,602.1 L1739.0,601.7 L1740.5,601.2 L1742.0,600.8 L1743.5,600.3 L1745.0,599.9 L1746.5,599.4 L1748.0,598.9 L1749.5,598.5 L1751.0,598.0 L1752.5,597.6 L1754.0,597.1 L1755.5,596.7 L1757.0,596.2 L1758.5,595.8 L1760.0,595.3 L1761.5,594.8 L1763.0,594.4 L1764.5,593.9 L1766.0,593.5 L1767.5,593.0 L1769.0,592.6 L1770.5,592.1 L1772.0,591.7 L1773.5,591.2 L1775.0,590.8 L1776.5,590.3 L1778.0,589.9 L1779.5,589.4 L1781.0,589.0 L1782.5,588.5 L1784.0,588.1 L1785.5,587.6 L1787.0,587.2 L1788.5,586.7 L1790.0,586.3 L1791.5,585.8 L1793.0,585.4 L1794.5,584.9 L1796.1,584.5 L1797.6,584.0 L1799.1,583.6 L1800.6,583.1 L1802.1,582.7 L1803.6,582.2 L1805.1,581.8 L1806.6,581.3 L1808.1,580.9 L1809.6,580.4 L1811.1,580.0 L1812.6,579.5 L1814.1,579.1 L1815.6,578.6 L1817.1,578.2 L1818.6,577.8 L1820.1,577.3 L1821.6,576.9 L1823.1,576.4 L1824.6,576.0 L1826.1,575.5 L1827.6,575.1 L1829.1,574.6 L1830.6,574.2 L1832.1,573.8 L1833.6,573.3 L1835.1,572.9 L1836.6,572.4 L1838.1,572.0 L1839.6,571.5 L1841.1,571.1 L1842.6,570.7 L1844.1,570.2 L1845.6,569.8 L1847.1,569.4 L1848.6,568.9 L1850.1,568.5 L1851.6,568.0 L1853.1,567.6 L1854.6,567.2 L1856.1,566.7 L1857.6,566.3 L1859.1,565.9 L1860.6,565.4 L1862.1,565.0 L1863.6,564.6 L1865.1,564.1 L1866.6,563.7 L1868.1,563.3 L1869.6,562.9 L1871.2,562.4 L1872.7,562.0 L1874.2,561.6 L1875.7,561.1 L1877.2,560.7 L1878.7,560.3 L1880.2,559.9 L1881.7,559.4 L1883.2,559.0 L1884.7,558.6 L1886.2,558.2 L1887.7,557.7 L1889.2,557.3 L1890.7,556.9 L1892.2,556.5 L1893.7,556.1 L1895.2,555.6 L1896.7,555.2 L1898.2,554.8 L1899.7,554.4 L1901.2,554.0 L1902.7,553.5 L1904.2,553.1 L1905.7,552.7 L1907.2,552.3 L1908.7,551.9 L1910.2,551.5 L1911.7,551.0 L1913.2,550.6 L1914.7,550.2 L1916.2,549.8 L1917.7,549.4 L1919.2,549.0 L1920.7,548.6 L1922.2,548.2 L1923.7,547.8 L1925.2,547.3 L1926.7,546.9 L1928.2,546.5 L1929.7,546.1 L1931.2,545.7 L1932.7,545.3 L1934.2,544.9 L1935.7,544.5 L1937.2,544.1 L1938.7,543.7 L1940.2,543.3 L1941.7,542.9 L1943.2,542.5 L1944.7,542.1 L1946.2,541.7 L1947.8,541.3 L1949.3,540.9 L1950.8,540.5 L1952.3,540.1 L1953.8,539.7 L1955.3,539.3 L1956.8,538.9 L1958.3,538.5 L1959.8,538.2 L1961.3,537.8 L1962.8,537.4 L1964.3,537.0 L1965.8,536.6 L1967.3,536.2 L1968.8,535.8 L1970.3,535.4 L1971.8,535.1 L1973.3,534.7 L1974.8,534.3 L1976.3,533.9 L1977.8,533.5 L1979.3,533.2 L1980.8,532.8 L1982.3,532.4 L1983.8,532.0 L1985.3,531.6 L1986.8,531.3 L1988.3,530.9 L1989.8,530.5 L1991.3,530.1 L1992.8,529.8 L1994.3,529.4 L1995.8,529.0 L1997.3,528.7 L1998.8,528.3 L2000.3,527.9 L2001.8,527.6 L2003.3,527.2 L2004.8,526.8 L2006.3,526.5 L2007.8,526.1 L2009.3,525.8 L2010.8,525.4 L2012.3,525.0 L2013.8,524.7 L2015.3,524.3 L2016.8,524.0 L2018.3,523.6 L2019.8,523.2 L2021.3,522.9 L2022.8,522.5 L2024.4,522.2 L2025.9,521.8 L2027.4,521.5 L2028.9,521.1 L2030.4,520.8 L2031.9,520.4 L2033.4,520.1 L2034.9,519.7 L2036.4,519.4 L2037.9,519.0 L2039.4,518.7 L2040.9,518.3 L2042.4,518.0 L2043.9,517.6 L2045.4,517.3 L2046.9,516.9 L2048.4,516.6 L2049.9,516.3 L2051.4,515.9 L2052.9,515.6 L2054.4,515.2 L2055.9,514.9 L2057.4,514.5 L2058.9,514.2 L2060.4,513.9 L2061.9,513.5 L2063.4,513.2 L2064.9,512.9 L2066.4,512.5 L2067.9,512.2 L2069.4,511.9 L2070.9,511.5 L2072.4,511.2 L2073.9,510.9 L2075.4,510.5 L2076.9,510.2 L2078.4,509.9 L2079.9,509.6 L2081.4,509.2 L2082.9,508.9 L2084.4,508.6 L2085.9,508.3 L2087.4,508.0 L2088.9,507.7 L2090.4,507.4 L2091.9,507.1 L2093.4,506.8 L2094.9,506.4 L2096.4,506.2 L2097.9,505.9 L2099.5,505.6 L2101.0,505.3 L2102.5,505.0 L2104.0,504.7 L2105.5,504.4 L2107.0,504.1 L2108.5,503.8 L2110.0,503.6 L2111.5,503.3 L2113.0,503.0 L2114.5,502.7 L2116.0,502.5 L2117.5,502.2 L2119.0,501.9 L2120.5,501.7 L2122.0,501.4 L2123.5,501.1 L2125.0,500.9 L2126.5,500.6 L2128.0,500.4 L2129.5,500.1 L2131.0,499.8 L2132.5,499.6 L2134.0,499.3 L2135.5,499.1 L2137.0,498.8" fill="none" stroke="#808080" stroke-width="4.00" stroke-linejoin="round" stroke-linecap="butt"/>
<path d="M1225.3,756.0 L1226.9,755.1 L1228.9,754.0 L1231.2,752.7 L1233.9,751.3 L1236.7,749.7 L1239.8,748.0 L1242.9,746.3 L1246.1,744.5 L1249.2,742.7 L1252.2,740.9 L1255.1,739.2 L1257.7,737.6 L1260.0,736.0 L1263.0,733.9 L1265.8,731.7 L1268.5,729.6 L1271.0,727.5 L1273.3,725.4 L1275.5,723.3 L1277.5,721.2 L1279.5,719.3 L1281.3,717.3 L1283.7,714.6 L1285.8,712.1 L1287.6,709.6 L1289.1,707.1 L1290.6,704.4 L1292.0,701.3 L1293.1,698.7 L1294.1,695.9 L1295.0,692.9 L1295.9,689.9 L1296.7,686.7 L1297.4,683.6 L1298.1,680.4 L1298.7,677.3 L1299.2,674.1 L1299.6,670.6 L1299.8,667.1 L1300.1,663.5 L1300.2,660.1 L1300.4,657.0 L1300.6,654.3 L1300.8,652.0 L1301.9,647.4 L1302.7,645.9 L1370.6,599.6 L1384.0,660.0 L1385.5,658.8 L1387.0,657.7 L1388.5,656.5 L1390.0,655.3 L1391.5,654.2 L1393.0,653.1 L1394.5,651.9 L1396.0,650.8 L1397.5,649.7 L1399.0,648.6 L1400.5,647.5 L1402.0,646.4 L1403.5,645.3 L1405.0,644.3 L1406.5,643.2 L1408.0,642.2 L1409.5,641.1 L1411.0,640.1 L1412.5,639.1 L1414.0,638.2 L1415.5,637.2 L1417.0,636.3 L1418.5,635.3 L1420.0,634.4 L1421.5,633.5 L1423.0,632.6 L1424.5,631.7 L1426.0,630.8 L1427.5,630.0 L1429.0,629.1 L1430.5,628.3 L1432.0,627.5 L1433.5,626.7 L1435.0,625.9 L1436.6,625.1 L1438.1,624.3 L1439.6,623.6 L1441.1,622.8 L1442.6,622.1 L1444.1,621.4 L1445.6,620.7 L1447.1,620.0 L1448.6,619.3 L1450.1,618.6 L1451.6,617.9 L1453.1,617.3 L1454.6,616.6 L1456.1,616.0 L1457.6,615.3 L1459.1,614.7 L1460.6,614.1 L1462.1,613.5 L1463.6,612.9 L1465.1,612.3 L1466.6,611.7 L1468.1,611.1 L1469.6,610.5 L1471.1,609.9 L1472.6,609.4 L1474.1,608.8 L1475.6,608.3 L1477.1,607.7 L1478.6,607.2 L1480.1,606.6 L1481.6,606.1 L1483.1,605.6 L1484.6,605.0 L1486.1,604.5 L1487.6,604.0 L1489.1,603.5 L1490.6,603.0 L1492.1,602.5 L1493.6,601.9 L1495.1,601.4 L1496.6,600.9 L1498.1,600.5 L1499.6,600.0 L1501.1,599.5 L1502.6,599.0 L1504.1,598.5 L1505.6,598.0 L1507.1,597.5 L1508.6,597.0 L1510.1,596.6 L1511.6,596.1 L1513.1,595.6 L1514.6,595.1 L1516.1,594.6 L1517.6,594.2 L1519.1,593.7 L1520.6,593.2 L1522.1,592.8 L1523.6,592.3 L1525.1,591.8 L1526.6,591.3 L1528.1,590.9 L1529.6,590.4 L1531.1,589.9 L1532.6,589.5 L1534.1,589.0 L1535.6,588.5 L1537.1,588.1 L1538.7,587.6 L1540.2,587.1 L1541.7,586.7 L1543.2,586.2 L1544.7,585.7 L1546.2,585.3 L1547.7,584.8 L1549.2,584.3 L1550.7,583.8 L1552.2,583.4 L1553.7,582.9 L1555.2,582.4 L1556.7,581.9 L1558.2,581.5 L1559.7,581.0 L1561.2,580.5 L1562.7,580.0 L1564.2,579.6 L1565.7,579.1 L1567.2,578.6 L1568.7,578.1 L1570.2,577.6 L1571.7,577.2 L1573.2,576.7 L1574.7,576.2 L1576.2,575.7 L1577.7,575.2 L1579.2,574.7 L1580.7,574.3 L1582.2,573.8 L1583.7,573.3 L1585.2,572.8 L1586.7,572.3 L1588.2,571.8 L1589.7,571.3 L1591.2,570.8 L1592.7,570.3 L1594.2,569.9 L1595.7,569.4 L1597.2,568.9 L1598.7,568.4 L1600.2,567.9 L1601.7,567.4 L1603.2,566.9 L1604.7,566.4 L1606.2,565.9 L1607.7,565.4 L1609.2,564.9 L1610.7,564.4 L1612.2,563.9 L1613.7,563.4 L1615.2,562.9 L1616.7,562.4 L1618.2,562.0 L1619.7,561.5 L1621.2,561.0 L1622.7,560.5 L1624.2,560.0 L1625.7,559.5 L1627.2,559.0 L1628.7,558.5 L1630.2,558.0 L1631.7,557.5 L1633.2,557.0 L1634.7,556.5 L1636.2,556.0 L1637.7,555.5 L1639.2,555.0 L1640.8,554.5 L1642.3,554.0 L1643.8,553.5 L1645.3,553.0 L1646.8,552.5 L1648.3,552.0 L1649.8,551.5 L1651.3,551.0 L1652.8,550.5 L1654.3,550.0 L1655.8,549.5 L1657.3,549.0 L1658.8,548.5 L1660.3,548.1 L1661.8,547.6 L1663.3,547.1 L1664.8,546.6 L1666.3,546.1 L1667.8,545.6 L1669.3,545.1 L1670.8,544.6 L1672.3,544.1 L1673.8,543.6 L1675.3,543.1 L1676.8,542.6 L1678.3,542.1 L1679.8,541.6 L1681.3,541.1 L1682.8,540.6 L1684.3,540.1 L1685.8,539.6 L1687.3,539.2 L1688.8,538.7 L1690.3,538.2 L1691.8,537.7 L1693.3,537.2 L1694.8,536.7 L1696.3,536.2 L1697.8,535.7 L1699.3,535.2 L1700.8,534.7 L1702.3,534.2 L1703.8,533.7 L1705.3,533.2 L1706.8,532.7 L1708.3,532.2 L1709.8,531.7 L1711.3,531.2 L1712.8,530.7 L1714.3,530.1 L1715.8,529.6 L1717.3,529.1 L1718.8,528.6 L1720.3,528.1 L1721.8,527.6 L1723.3,527.1 L1724.8,526.6 L1726.3,526.1 L1727.8,525.6 L1729.3,525.1 L1730.8,524.6 L1732.3,524.0 L1733.8,523.5 L1735.3,523.0 L1736.8,522.5 L1738.3,522.0 L1739.8,521.5 L1741.3,521.0 L1742.8,520.4 L1744.4,519.9 L1745.9,519.4 L1747.4,518.9 L1748.9,518.4 L1750.4,517.8 L1751.9,517.3 L1753.4,516.8 L1754.9,516.3 L1756.4,515.8 L1757.9,515.2 L1759.4,514.7 L1760.9,514.2 L1762.4,513.7 L1763.9,513.1 L1765.4,512.6 L1766.9,512.1 L1768.4,511.6 L1769.9,511.0 L1771.4,510.5 L1772.9,510.0 L1774.4,509.4 L1775.9,508.9 L1777.4,508.4 L1778.9,507.8 L1780.4,507.3 L1781.9,506.8 L1783.4,506.2 L1784.9,505.7 L1786.4,505.2 L1787.9,504.6 L1789.4,504.1 L1790.9,503.6 L1792.4,503.0 L1793.9,502.5 L1795.4,501.9 L1796.9,501.4 L1798.4,500.9 L1799.9,500.3 L1801.4,499.8 L1802.9,499.2 L1804.4,498.7 L1805.9,498.1 L1807.4,497.6 L1808.9,497.1 L1810.4,496.5 L1811.9,496.0 L1813.4,495.4 L1814.9,494.9 L1816.4,494.3 L1817.9,493.8 L1819.4,493.2 L1820.9,492.7 L1822.4,492.1 L1823.9,491.6 L1825.4,491.1 L1826.9,490.5 L1828.4,490.0 L1829.9,489.4 L1831.4,488.9 L1832.9,488.3 L1834.4,487.8 L1835.9,487.2 L1837.4,486.7 L1838.9,486.1 L1840.4,485.5 L1841.9,485.0 L1843.4,484.4 L1844.9,483.9 L1846.5,483.3 L1848.0,482.8 L1849.5,482.2 L1851.0,481.7 L1852.5,481.1 L1854.0,480.6 L1855.5,480.0 L1857.0,479.5 L1858.5,478.9 L1860.0,478.4 L1861.5,477.8 L1863.0,477.2 L1864.5,476.7 L1866.0,476.1 L1867.5,475.6 L1869.0,475.0 L1870.5,474.5 L1872.0,473.9 L1873.5,473.4 L1875.0,472.8 L1876.5,472.2 L1878.0,471.7 L1879.5,471.1 L1881.0,470.6 L1882.5,470.0 L1884.0,469.5 L1885.5,468.9 L1887.0,468.3 L1888.5,467.8 L1890.0,467.2 L1891.5,466.7 L1893.0,466.1 L1894.5,465.5 L1896.0,465.0 L1897.5,464.4 L1899.0,463.9 L1900.5,463.3 L1902.0,462.7 L1903.5,462.2 L1905.0,461.6 L1906.5,461.1 L1908.0,460.5 L1909.5,459.9 L1911.0,459.4 L1912.5,458.8 L1914.0,458.3 L1915.5,457.7 L1917.0,457.1 L1918.5,456.6 L1920.0,456.0 L1921.5,455.4 L1923.0,454.9 L1924.5,454.3 L1926.0,453.8 L1927.5,453.2 L1929.0,452.6 L1930.5,452.1 L1932.0,451.5 L1933.5,450.9 L1935.0,450.4 L1936.5,449.8 L1938.0,449.2 L1939.5,448.7 L1941.0,448.1 L1942.5,447.6 L1944.0,447.0 L1945.5,446.4 L1947.0,445.9 L1948.6,445.3 L1950.1,444.7 L1951.6,444.2 L1953.1,443.6 L1954.6,443.0 L1956.1,442.5 L1957.6,441.9 L1959.1,441.3 L1960.6,440.8 L1962.1,440.2 L1963.6,439.6 L1965.1,439.1 L1966.6,438.5 L1968.1,437.9 L1969.6,437.4 L1971.1,436.8 L1972.6,436.2 L1974.1,435.7 L1975.6,435.1 L1977.1,434.5 L1978.6,433.9 L1980.1,433.4 L1981.6,432.8 L1983.1,432.2 L1984.6,431.7 L1986.1,431.1 L1987.6,430.5 L1989.1,429.9 L1990.6,429.4 L1992.1,428.8 L1993.6,428.2 L1995.1,427.6 L1996.6,427.1 L1998.1,426.5 L1999.6,425.9 L2001.1,425.3 L2002.6,424.8 L2004.1,424.2 L2005.6,423.6 L2007.1,423.0 L2008.6,422.4 L2010.1,421.9 L2011.6,421.3 L2013.1,420.7 L2014.6,420.1 L2016.1,419.5 L2017.6,418.9 L2019.1,418.3 L2020.6,417.8 L2022.1,417.2 L2023.6,416.6 L2025.1,416.0 L2026.6,415.4 L2028.1,414.8 L2029.6,414.2 L2031.1,413.6 L2032.6,413.0 L2034.1,412.4 L2035.6,411.8 L2037.1,411.2 L2038.6,410.6 L2040.1,410.0 L2041.6,409.4 L2043.1,408.8 L2044.6,408.2 L2046.1,407.5 L2047.6,406.9 L2049.1,406.3 L2050.7,405.7 L2052.2,405.1 L2053.7,404.5 L2055.2,403.8 L2056.7,403.2 L2058.2,402.6 L2059.7,402.0 L2061.2,401.3 L2062.7,400.7 L2064.2,400.1 L2065.7,399.4 L2067.2,398.8 L2068.7,398.2 L2070.2,397.6 L2071.7,396.9 L2073.2,396.3 L2074.7,395.6 L2076.2,395.0 L2077.7,394.4 L2079.2,393.7 L2080.7,393.1 L2082.2,392.5 L2083.7,391.8 L2085.2,391.2 L2086.7,390.6 L2088.2,389.9 L2089.7,389.3 L2091.2,388.7 L2092.7,388.1 L2094.2,387.4 L2095.7,386.8 L2097.2,386.2 L2098.7,385.5 L2100.2,384.9 L2101.7,384.3 L2137.0,384.0" fill="none" stroke="#fdd675" stroke-width="4.00" stroke-linejoin="round" stroke-linecap="butt"/>
<path d="M1300.1,621.1 L1302.7,617.3 L1304.2,616.6 L1305.7,615.8 L1307.2,615.0 L1308.7,614.3 L1310.2,613.5 L1311.7,612.8 L1313.2,612.0 L1314.7,611.3 L1316.2,610.5 L1317.7,609.7 L1319.2,609.0 L1320.7,608.2 L1322.2,607.4 L1323.7,606.6 L1325.2,605.8 L1326.7,605.0 L1328.2,604.3 L1329.7,603.5 L1331.2,602.7 L1332.7,601.8 L1334.2,601.0 L1335.7,600.2 L1337.2,599.4 L1338.7,598.6 L1340.2,597.7 L1341.7,596.9 L1343.2,596.0 L1344.7,595.2 L1346.2,594.3 L1347.7,593.4 L1349.2,592.5 L1350.7,591.6 L1352.2,590.7 L1353.7,589.8 L1355.2,588.9 L1356.7,588.0 L1358.2,587.1 L1359.7,586.1 L1361.2,585.2 L1362.7,584.2 L1364.3,583.3 L1365.8,582.3 L1367.3,581.3 L1368.8,580.3 L1370.3,579.3 L1371.8,578.3 L1373.3,577.3 L1374.8,576.2 L1376.3,575.2 L1377.8,574.1 L1379.3,573.1 L1380.8,572.0 L1382.3,570.9 L1383.8,569.8 L1385.3,568.7 L1386.8,567.6 L1388.3,566.5 L1389.8,565.3 L1391.3,564.2 L1392.8,563.0 L1394.3,561.9 L1395.8,560.7 L1397.3,559.5 L1398.8,558.3 L1400.3,557.1 L1401.8,555.9 L1403.3,554.7 L1404.8,553.5 L1406.3,552.2 L1407.8,551.0 L1409.3,549.7 L1410.8,548.4 L1412.3,547.2 L1413.8,545.9 L1415.3,544.6 L1416.8,543.3 L1418.3,542.0 L1419.8,540.7 L1421.3,539.4 L1422.8,538.0 L1424.3,536.7 L1425.8,535.3 L1427.3,534.0 L1428.8,532.6 L1430.3,531.3 L1431.8,529.9 L1433.3,528.5 L1434.8,527.2 L1436.3,525.8 L1437.8,524.4 L1439.3,523.0 L1440.8,521.6 L1442.3,520.2 L1443.8,518.7 L1445.3,517.3 L1446.8,515.9 L1448.3,514.5 L1449.8,513.0 L1451.3,511.6 L1452.8,510.1 L1454.3,508.7 L1455.8,507.2 L1457.3,505.7 L1458.8,504.2 L1460.3,502.8 L1461.8,501.3 L1463.3,499.8 L1464.8,498.3 L1466.3,496.8 L1467.8,495.3 L1469.3,493.8 L1470.8,492.2 L1472.3,490.7 L1473.8,489.2 L1475.3,487.7 L1476.8,486.1 L1478.3,484.6 L1479.8,483.0 L1481.3,481.5 L1482.8,480.0 L1484.4,478.4 L1485.9,476.9 L1487.4,475.3 L1488.9,473.7 L1490.4,472.2 L1491.9,470.6 L1493.4,469.1 L1494.9,467.5 L1496.4,465.9 L1497.9,464.4 L1499.4,462.8 L1500.9,461.3 L1502.4,459.7 L1503.9,458.2 L1505.4,456.6 L1506.9,455.1 L1508.4,453.5 L1509.9,452.0 L1511.4,450.4 L1512.9,448.9 L1514.4,447.3 L1515.9,445.8 L1517.4,444.3 L1518.9,442.7 L1520.4,441.2 L1521.9,439.7 L1523.4,438.2 L1524.9,436.7 L1526.4,435.2 L1527.9,433.7 L1529.4,432.2 L1530.9,430.7 L1532.4,429.2 L1533.9,427.7 L1535.4,426.2 L1536.9,424.7 L1538.4,423.2 L1539.9,421.7 L1541.4,420.3 L1542.9,418.8 L1544.4,417.3 L1545.9,416.0 L1547.4,414.8 L1548.9,413.5 L1550.4,412.3 L1552.0,411.0 L1553.5,409.8 L1555.0,408.5 L1556.5,407.3 L1558.0,406.0 L1559.5,404.8 L1561.0,403.5 L1562.5,402.3 L1564.0,401.0 L1565.5,399.7 L1567.1,398.5 L1568.6,397.2 L1570.1,396.0 L1571.6,394.7 L1573.1,393.4 L1574.6,392.2 L1576.1,390.9 L1577.6,389.6 L1579.1,388.4 L1580.6,387.1 L1582.2,385.8 L1583.7,384.5 L1585.2,383.3 L1586.7,382.0 L1588.2,380.7 L1589.7,379.4 L1591.2,378.1 L1592.7,376.8 L1594.2,375.5 L1595.7,374.2 L1597.2,372.9 L1598.8,371.6 L1600.3,370.3 L1601.8,369.0 L1603.3,367.7 L1604.8,366.3 L1606.3,365.0 L1607.8,363.7 L1609.3,362.4 L1610.8,361.0 L1612.4,359.7 L1613.9,358.4 L1615.4,357.0 L1616.9,355.7 L1618.4,354.4 L1619.9,353.0 L1621.4,351.7 L1622.9,350.3 L1624.4,349.0 L1625.9,347.6 L1627.5,346.2 L1629.0,344.9 L1630.5,343.5 L1632.0,342.1 L1633.5,340.8 L1635.0,339.4 L1636.5,338.0 L1638.0,336.7 L1639.5,335.3 L1641.0,333.9 L1642.5,332.5 L1644.1,331.1 L1645.6,329.7 L1647.1,328.3 L1648.6,327.0 L1650.1,325.6 L1651.6,324.2 L1653.1,322.8 L1654.6,321.4 L1656.1,320.0 L1657.7,318.5 L1659.2,317.1 L1660.7,315.7 L1662.2,314.3 L1663.7,312.9 L1665.2,311.5 L1666.7,310.1 L1668.2,308.7 L1669.7,307.2 L1671.2,305.8 L1672.8,304.4 L1674.3,303.0 L1675.8,301.5 L1677.3,300.1 L1678.8,298.7 L1680.3,297.2 L1681.8,295.8 L1683.3,294.4 L1684.8,293.0 L1686.3,291.5 L1687.8,290.1 L1689.4,288.6 L1690.9,287.2 L1692.4,285.8 L1693.9,284.3 L1695.4,282.9 L1696.9,281.5 L1698.4,280.0 L1699.9,278.6 L1701.4,277.1 L1703.0,275.7 L1704.5,274.3 L1706.0,272.8 L1707.5,271.4 L1709.0,269.9 L1710.5,268.5 L1711.0,261.5 L1733.3,425.3 L1734.8,425.4 L1736.3,425.4 L1737.8,425.4 L1739.3,425.5 L1740.8,425.5 L1742.3,425.6 L1743.8,425.6 L1745.3,425.6 L1746.8,425.7 L1748.4,425.7 L1749.9,425.7 L1751.4,425.7 L1752.9,425.8 L1754.4,425.8 L1755.9,425.8 L1757.4,425.8 L1758.9,425.8 L1760.4,425.7 L1761.9,425.7 L1763.4,425.7 L1764.9,425.6 L1766.4,425.6 L1767.9,425.5 L1769.4,425.5 L1770.9,425.4 L1772.4,425.3 L1773.9,425.2 L1775.4,425.1 L1777.0,425.0 L1778.5,424.8 L1780.0,424.7 L1781.5,424.5 L1783.0,424.4 L1784.5,424.2 L1786.0,424.0 L1787.5,423.7 L1789.0,423.5 L1790.5,423.3 L1792.0,423.0 L1793.5,422.7 L1795.0,422.4 L1796.5,422.1 L1798.0,421.7 L1799.5,421.4 L1801.0,421.0 L1802.5,420.6 L1804.0,420.2 L1805.6,419.7 L1807.1,419.2 L1808.6,418.7 L1810.1,418.2 L1811.6,417.7 L1813.1,417.1 L1814.6,416.6 L1816.1,416.0 L1817.6,415.3 L1819.1,414.7 L1820.6,414.0 L1822.1,413.3 L1823.6,412.6 L1825.1,411.8 L1826.6,411.0 L1828.1,410.2 L1829.6,409.4 L1831.1,408.5 L1832.7,407.6 L1834.2,406.7 L1835.7,405.7 L1837.2,404.8 L1838.7,403.8 L1840.2,402.7 L1841.7,401.7 L1843.2,400.6 L1844.7,399.4 L1846.2,398.3 L1847.7,397.1 L1849.2,395.9 L1850.7,394.7 L1852.2,393.4 L1853.7,392.1 L1855.2,390.7 L1856.7,389.4 L1858.2,388.0 L1859.7,386.5 L1861.3,385.1 L1862.8,383.6 L1864.3,382.1 L1865.8,380.5 L1867.3,378.9 L1868.8,377.3 L1870.3,375.7 L1871.8,374.0 L1873.3,372.3 L1874.8,370.6 L1876.3,368.8 L1877.8,367.1 L1879.3,365.3 L1880.8,363.4 L1882.3,361.6 L1883.8,359.7 L1885.3,357.8 L1886.8,355.9 L1888.3,353.9 L1889.9,351.9 L1891.4,349.9 L1892.9,347.9 L1894.4,345.9 L1895.9,343.8 L1897.4,341.7 L1898.9,339.6 L1900.4,337.5 L1901.9,335.4 L1903.4,333.2 L1904.9,331.0 L1906.4,328.9 L1907.9,326.7 L1909.4,324.5 L1910.9,322.2 L1912.4,320.0 L1913.9,317.8 L1915.4,315.5 L1916.9,313.3 L1918.5,311.0 L1920.0,308.7 L1921.5,306.5 L1923.0,304.2 L1924.5,301.9 L1926.0,299.6 L1927.5,297.3 L1929.0,295.1 L1930.5,292.8 L1932.0,290.5 L1933.5,289.9 L1935.0,289.3 L1936.5,288.7 L1938.0,288.1 L1939.5,287.5 L1941.0,286.8 L1942.5,286.2 L1944.0,285.5 L1945.5,284.8 L1947.0,284.1 L1948.5,283.3 L1950.0,282.6 L1951.5,281.8 L1953.0,280.9 L1954.5,280.0 L1956.0,279.1 L1957.5,278.1 L1959.0,277.1 L1960.5,276.1 L1962.0,275.0 L1963.5,273.9 L1965.0,272.7 L1966.5,271.4 L1968.0,270.2 L1969.5,268.8 L1971.0,267.4 L1972.5,266.0 L1974.0,264.5 L1975.5,263.0 L1977.0,261.4 L1978.5,259.8 L1980.0,258.1 L1981.5,256.4 L1983.0,254.6 L1984.5,252.8 L1986.0,250.9 L1987.5,249.0 L1989.0,247.0 L1990.5,245.0 L1992.0,242.9 L1993.5,240.8 L1995.0,238.7 L1996.5,236.5 L1998.0,234.3 L1999.5,232.0 L2001.0,229.7 L2002.5,227.4 L2004.0,225.0 L2005.5,222.6 L2007.0,220.1 L2008.5,217.6 L2010.0,215.1 L2011.5,212.6 L2013.0,210.0 L2014.5,207.4 L2016.0,204.8 L2017.5,202.1 L2019.0,199.5 L2020.5,196.8 L2022.0,194.1 L2023.5,191.3 L2025.0,188.6 L2026.5,185.9 L2028.0,183.1 L2029.5,180.3 L2031.0,177.6 L2032.5,174.8 L2034.0,172.0 L2038.1,166.0 L2042.0,156.7 L2044.3,155.1 L2049.8,141.9 L2051.3,142.7 L2056.8,128.7 L2058.3,129.4 L2062.2,117.8 L2063.8,120.9 L2070.8,99.9 L2073.1,101.4 L2077.8,85.1 L2080.9,89.8 L2087.1,72.7 L2089.4,83.6 L2096.4,68.0 L2098.8,80.4 L2104.2,73.4 L2106.6,73.2 L2110.2,72.9 L2115.1,72.7 L2117.8,72.7 L2121.2,72.6 L2124.9,72.7 L2128.6,72.7 L2132.0,72.7 L2134.9,72.7 L2137.0,72.7" fill="none" stroke="#ee791d" stroke-width="4.00" stroke-linejoin="round" stroke-linecap="butt"/>
<path d="M1303.6,325.3 L1305.1,323.9 L1307.1,321.9 L1309.5,319.6 L1312.1,317.1 L1314.8,314.5 L1317.5,311.9 L1320.0,309.5 L1322.3,307.2 L1324.7,304.8 L1327.0,302.5 L1329.3,300.1 L1331.7,297.9 L1334.0,295.8 L1336.3,294.0 L1339.2,292.1 L1342.2,290.4 L1345.3,288.8 L1348.2,287.5 L1350.6,286.4 L1352.3,285.6 L1354.0,282.6 L1355.7,281.6 L1358.0,280.3 L1360.7,278.7 L1363.8,276.9 L1366.9,275.1 L1369.9,273.4 L1372.7,271.8 L1375.0,270.5 L1377.8,268.9 L1379.4,267.9 L1381.8,266.8 L1386.7,264.4 L1388.7,263.4 L1391.1,262.3 L1393.8,261.1 L1396.7,259.8 L1399.8,258.4 L1403.0,256.9 L1406.4,255.3 L1409.8,253.8 L1413.1,252.3 L1416.4,250.8 L1419.6,249.3 L1422.6,247.9 L1425.4,246.7 L1428.0,245.5 L1430.2,244.5 L1434.6,242.5 L1437.9,241.2 L1440.6,240.1 L1442.8,239.1 L1445.2,238.0 L1447.9,236.4 L1450.3,234.8 L1452.8,233.1 L1455.3,231.1 L1457.9,229.1 L1460.4,227.1 L1462.9,225.2 L1465.2,223.4 L1467.3,221.9 L1470.6,219.6 L1473.2,218.0 L1476.0,216.3 L1480.0,214.0 L1482.1,212.8 L1484.4,211.5 L1487.0,210.1 L1489.7,208.6 L1492.5,207.1 L1495.4,205.5 L1498.3,204.0 L1501.1,202.4 L1504.0,200.8 L1506.7,199.3 L1509.4,197.8 L1512.0,196.3 L1514.7,194.8 L1517.3,193.2 L1520.0,191.7 L1522.7,190.1 L1525.3,188.6 L1528.0,187.1 L1530.6,185.5 L1533.3,184.0 L1536.0,182.5 L1538.6,180.9 L1541.3,179.4 L1544.0,177.9 L1546.6,176.3 L1549.3,174.8 L1552.0,173.2 L1554.7,171.7 L1557.3,170.2 L1560.0,168.7 L1562.7,167.2 L1565.3,165.7 L1568.0,164.2 L1570.7,162.8 L1573.4,161.3 L1576.0,159.9 L1578.7,158.4 L1581.4,156.9 L1584.0,155.5 L1586.7,154.0 L1589.4,152.5 L1592.2,150.9 L1595.0,149.4 L1597.8,147.8 L1600.6,146.2 L1603.4,144.6 L1606.1,143.2 L1608.6,141.8 L1611.0,140.5 L1613.3,139.3 L1616.8,137.6 L1620.2,136.0 L1623.3,134.7 L1626.0,133.6 L1628.3,132.7 L1630.0,132.0 L1636.0,222.0" fill="none" stroke="#b5e1ae" stroke-width="4.00" stroke-linejoin="round" stroke-linecap="butt"/>
<path d="M1303.7,326.5 L1305.3,325.1 L1307.5,322.9 L1310.2,320.6 L1313.2,318.4 L1316.3,316.9 L1319.0,316.2 L1322.0,315.9 L1325.2,315.8 L1328.4,315.9 L1331.7,316.0 L1335.0,316.0 L1338.3,316.0 L1341.6,316.1 L1344.9,316.1 L1348.3,316.2 L1351.7,316.2 L1355.0,316.0 L1358.3,315.7 L1361.7,315.2 L1365.0,314.7 L1368.3,314.1 L1371.7,313.4 L1375.0,312.7 L1378.3,311.9 L1381.7,311.0 L1385.0,310.1 L1388.3,309.0 L1391.7,307.9 L1395.0,306.7 L1398.0,305.5 L1401.3,304.0 L1404.6,302.5 L1407.8,301.0 L1410.7,299.6 L1413.2,298.4 L1415.0,297.5 L1428.3,296.8 L1430.1,295.5 L1432.5,293.6 L1435.4,291.4 L1438.5,289.1 L1441.6,287.1 L1444.3,285.5 L1448.0,284.0 L1451.5,283.0 L1454.9,282.3 L1458.0,281.8 L1461.6,281.3 L1464.8,281.2 L1468.3,281.3 L1471.7,281.5 L1475.6,282.0 L1479.2,282.4 L1481.7,282.7 L1493.7,271.3 L1496.6,270.7 L1500.8,269.7 L1505.0,268.7 L1507.9,267.9 L1510.9,267.0 L1513.9,266.2 L1516.7,265.3 L1519.4,264.4 L1521.9,263.6 L1526.7,262.0 L1528.8,261.3 L1531.3,260.5 L1533.9,259.6 L1536.8,258.6 L1539.8,257.6 L1543.0,256.6 L1546.3,255.5 L1549.7,254.3 L1553.2,253.2 L1556.7,252.0 L1559.3,251.1 L1561.9,250.2 L1564.7,249.3 L1567.5,248.4 L1570.4,247.4 L1573.3,246.4 L1576.2,245.4 L1579.2,244.4 L1582.2,243.4 L1585.2,242.4 L1588.1,241.4 L1591.0,240.5 L1593.9,239.6 L1596.7,238.7 L1600.0,237.7 L1603.5,236.7 L1607.1,235.7 L1610.7,234.7 L1614.3,233.7 L1617.9,232.8 L1621.2,231.9 L1624.4,231.0 L1627.4,230.3 L1630.0,229.6 L1632.2,229.0 L1634.0,228.5 L1644.1,234.7 L1645.4,233.2 L1647.1,231.1 L1649.1,228.7 L1651.3,225.9 L1653.7,223.1 L1656.2,220.1 L1658.7,217.2 L1661.1,214.5 L1663.3,212.0 L1665.6,209.5 L1667.9,207.0 L1670.2,204.6 L1672.5,202.3 L1674.8,200.0 L1677.2,197.8 L1679.5,195.5 L1682.0,193.3 L1684.2,191.3 L1686.5,189.3 L1688.7,187.2 L1691.0,185.2 L1693.3,183.2 L1695.7,181.3 L1698.2,179.5 L1700.7,177.7 L1703.3,176.0 L1706.0,174.4 L1708.8,172.8 L1711.8,171.3 L1714.7,169.9 L1717.8,168.5 L1720.8,167.2 L1723.9,166.0 L1727.0,165.0 L1730.0,164.0 L1733.1,163.2 L1736.3,162.4 L1739.6,161.8 L1742.8,161.3 L1746.1,160.9 L1749.2,160.5 L1752.3,160.3 L1755.1,160.1 L1757.8,160.0 L1762.1,160.1 L1765.9,160.5 L1769.3,161.1 L1772.5,161.9 L1775.5,162.7 L1779.1,163.8 L1782.2,165.1 L1785.2,166.6 L1788.0,168.0 L1791.8,170.2 L1795.4,172.6 L1797.8,174.2 L1799.3,173.3 L1801.1,172.3 L1803.2,171.1 L1805.5,169.7 L1808.1,168.3 L1810.9,166.6 L1814.0,164.9 L1817.3,162.9 L1820.9,160.9 L1824.8,158.7 L1828.9,156.4 L1831.0,155.2 L1833.4,153.9 L1835.9,152.5 L1838.6,150.9 L1841.5,149.4 L1844.5,147.7 L1847.5,146.0 L1850.7,144.2 L1853.9,142.5 L1857.1,140.7 L1860.3,138.9 L1863.5,137.1 L1866.7,135.3 L1869.8,133.6 L1872.8,131.9 L1875.7,130.3 L1878.5,128.8 L1881.1,127.3 L1883.6,126.0 L1885.8,124.7 L1887.8,123.6 L1889.6,122.6 L1891.1,121.8 L1900.9,104.9 L1912.4,108.4" fill="none" stroke="#4bad5b" stroke-width="4.00" stroke-linejoin="round" stroke-linecap="butt"/>
<path d="M1301.5,330.2 L1303.2,330.4 L1305.3,330.7 L1307.7,331.0 L1310.5,331.4 L1313.5,331.7 L1316.6,332.1 L1320.0,332.6 L1323.4,333.0 L1326.9,333.5 L1330.4,334.0 L1333.9,334.4 L1337.2,334.9 L1340.5,335.4 L1343.5,335.9 L1346.7,336.4 L1350.1,336.9 L1353.5,337.4 L1357.0,338.0 L1360.4,338.6 L1363.9,339.1 L1367.3,339.7 L1370.5,340.3 L1373.7,340.8 L1376.6,341.3 L1379.3,341.8 L1381.8,342.2 L1383.9,342.6 L1389.2,343.5 L1392.0,344.1 L1393.8,344.6 L1396.0,345.5 L1398.8,346.8 L1401.6,348.4 L1404.2,350.3 L1406.7,352.7 L1408.5,354.9 L1410.1,357.2 L1411.6,359.9 L1413.1,363.1 L1414.7,367.3 L1415.5,369.7 L1416.3,372.3 L1417.1,375.1 L1417.9,378.0 L1418.7,381.1 L1419.5,384.4 L1420.3,387.9 L1421.1,391.5 L1421.9,395.3 L1422.7,399.3 L1423.2,402.0 L1423.7,405.0 L1424.3,408.2 L1424.8,411.6 L1425.4,415.2 L1426.0,418.8 L1426.5,422.5 L1427.1,426.2 L1427.6,429.7 L1428.2,433.2 L1428.6,436.5 L1429.1,439.7 L1429.5,442.5 L1429.9,445.0 L1430.2,447.2 L1430.5,449.0 L1468.5,437.8 L1469.9,436.7 L1471.7,435.3 L1473.9,433.7 L1476.3,431.9 L1478.9,429.9 L1481.7,427.8 L1484.6,425.6 L1487.4,423.4 L1490.3,421.2 L1493.0,419.2 L1495.6,417.2 L1497.9,415.4 L1500.0,413.8 L1503.2,411.3 L1506.0,409.2 L1508.4,407.3 L1510.6,405.5 L1512.8,403.8 L1515.1,401.8 L1517.8,399.6 L1520.0,397.7 L1522.4,395.7 L1524.7,393.6 L1527.1,391.4 L1529.6,389.2 L1532.1,387.0 L1534.7,384.7 L1537.3,382.4 L1540.0,380.0 L1542.2,378.1 L1544.5,376.1 L1546.8,374.1 L1549.1,372.1 L1551.5,370.1 L1553.9,368.1 L1556.3,365.9 L1558.8,363.8 L1561.4,361.6 L1564.0,359.3 L1566.7,357.0 L1568.9,355.1 L1571.1,353.2 L1573.5,351.1 L1575.8,349.1 L1578.2,347.0 L1580.7,344.9 L1583.1,342.7 L1585.6,340.6 L1588.1,338.4 L1590.5,336.3 L1593.0,334.2 L1595.4,332.1 L1597.7,330.0 L1600.0,328.0 L1602.4,325.9 L1604.8,323.7 L1607.2,321.6 L1609.5,319.5 L1611.9,317.4 L1614.2,315.3 L1616.5,313.2 L1618.8,311.2 L1621.0,309.1 L1623.3,307.1 L1625.5,305.1 L1627.8,303.1 L1630.0,301.1 L1632.4,299.0 L1634.8,296.8 L1637.1,294.7 L1639.4,292.6 L1641.7,290.5 L1644.0,288.4 L1646.3,286.3 L1648.6,284.3 L1650.9,282.3 L1653.2,280.4 L1655.5,278.5 L1657.8,276.7 L1660.3,274.8 L1662.9,272.9 L1665.5,271.2 L1668.1,269.4 L1670.8,267.7 L1673.3,266.1 L1675.9,264.5 L1678.4,262.9 L1680.9,261.4 L1683.3,259.8 L1685.6,258.3 L1688.6,256.3 L1691.5,254.3 L1694.3,252.4 L1697.0,250.5 L1699.7,248.7 L1702.4,246.9 L1705.1,245.1 L1707.8,243.3 L1710.5,241.6 L1713.0,239.9 L1715.6,238.3 L1718.1,236.8 L1720.7,235.1 L1723.5,233.4 L1726.6,231.5 L1730.0,229.4 L1732.3,228.0 L1734.7,226.5 L1737.3,224.9 L1740.0,223.2 L1742.8,221.5 L1745.7,219.7 L1748.6,217.9 L1751.4,216.2 L1754.3,214.4 L1757.1,212.7 L1759.9,211.1 L1762.5,209.5 L1765.0,208.0 L1768.0,206.2 L1770.7,204.7 L1773.2,203.3 L1775.6,201.9 L1778.0,200.6 L1780.5,199.2 L1783.2,197.7 L1786.1,196.1 L1789.5,194.2 L1793.3,192.0 L1795.4,190.8 L1797.6,189.5 L1799.8,188.2 L1802.2,186.8 L1804.6,185.4 L1807.1,183.9 L1809.7,182.4 L1812.3,180.8 L1815.0,179.2 L1817.7,177.6 L1820.5,176.0 L1823.3,174.3 L1826.2,172.7 L1829.0,171.0 L1831.9,169.3 L1834.9,167.6 L1837.8,165.9 L1840.7,164.2 L1843.7,162.6 L1846.6,160.9 L1849.1,159.5 L1851.8,158.0 L1854.5,156.5 L1857.4,154.9 L1860.3,153.3 L1863.3,151.7 L1866.4,150.0 L1869.5,148.3 L1872.6,146.6 L1875.7,144.9 L1878.9,143.3 L1881.9,141.6 L1885.0,140.0 L1887.9,138.4 L1890.8,136.8 L1893.6,135.3 L1896.3,133.9 L1898.8,132.5 L1901.3,131.2 L1903.5,130.0 L1905.6,128.9 L1907.5,127.9 L1909.1,127.0 L1910.6,126.2 L1912.4,114.7 L1919.5,112.9 L1919.6,114.6 L1919.6,116.6 L1919.7,118.8 L1919.8,121.3 L1919.9,124.0 L1920.0,126.9 L1920.1,129.9 L1920.2,133.1 L1920.3,136.5 L1920.5,139.9 L1920.6,143.4 L1920.7,147.0 L1920.8,150.7 L1920.9,154.4 L1921.0,158.0 L1921.1,161.7 L1921.2,165.3 L1921.3,168.9 L1921.4,171.7 L1921.4,174.7 L1921.5,177.7 L1921.5,180.8 L1921.5,184.1 L1921.6,187.3 L1921.6,190.6 L1921.6,194.0 L1921.7,197.4 L1921.7,200.8 L1921.7,204.2 L1921.8,207.6 L1921.8,210.9 L1921.8,214.2 L1921.9,217.5 L1921.9,220.7 L1921.9,223.8 L1922.0,226.8 L1922.0,229.7 L1922.0,232.5 L1922.1,235.1 L1922.1,237.6 L1922.2,240.0 L1922.3,244.5 L1922.4,248.6 L1922.5,252.3 L1922.5,255.6 L1922.6,258.6 L1922.7,261.4 L1922.9,264.0 L1923.1,266.4 L1923.3,268.8 L1923.6,271.0 L1924.0,273.3 L1925.0,277.2 L1926.4,280.7 L1927.9,283.7 L1929.3,286.2 L1930.6,288.3 L1931.5,289.9 L1933.5,288.2 L1936.5,285.8 L1940.0,284.0 L1943.0,283.7 L1946.3,284.0 L1949.9,284.2 L1953.3,283.5 L1956.0,282.2 L1958.7,280.4 L1961.3,278.3 L1964.0,275.9 L1966.7,273.3 L1968.9,271.0 L1971.1,268.4 L1973.4,265.7 L1975.6,262.9 L1977.8,260.1 L1980.0,257.3 L1981.9,254.9 L1983.8,252.5 L1985.7,250.1 L1987.6,247.7 L1989.5,245.2 L1991.4,242.6 L1993.3,240.0 L1995.0,237.7 L1996.6,235.3 L1998.3,232.9 L2000.0,230.4 L2001.7,227.9 L2003.4,225.3 L2005.0,222.7 L2006.7,220.0 L2008.2,217.5 L2009.7,214.9 L2011.2,212.2 L2012.8,209.5 L2014.3,206.7 L2015.8,203.9 L2017.2,201.2 L2018.6,198.6 L2020.0,196.0 L2021.7,192.7 L2023.3,189.5 L2024.9,186.3 L2026.5,183.1 L2028.0,180.1 L2029.4,177.3 L2030.7,174.7 L2032.5,171.3 L2034.3,168.1 L2035.8,165.3 L2037.1,163.0 L2038.1,161.3 L2041.2,78.9 L2042.6,77.6 L2045.1,75.8 L2047.6,74.7 L2050.6,73.5 L2054.4,71.9 L2057.1,70.7 L2060.1,69.4 L2063.3,68.0 L2066.7,66.5 L2070.0,64.9 L2072.8,63.5 L2075.7,62.1 L2078.7,60.6 L2081.6,59.2 L2084.4,57.7 L2087.1,56.3 L2090.3,54.6 L2093.6,52.8 L2096.7,51.1 L2099.2,49.6 L2101.1,48.6 L2137.0,48.1" fill="none" stroke="#4b97c9" stroke-width="4.00" stroke-linejoin="round" stroke-linecap="butt"/>
<text transform="translate(1294.1,20) rotate(-90)" font-family="DejaVu Sans, sans-serif" font-size="25.4" fill="#808080" text-anchor="end"><tspan font-style="italic">M</tspan><tspan font-size="18.4" dy="4">HT</tspan></text>
<text transform="translate(1421.5,20) rotate(-90)" font-family="DejaVu Sans, sans-serif" font-size="25.4" fill="#808080" text-anchor="end"><tspan font-style="italic">M</tspan><tspan font-size="18.4" dy="4">HeF</tspan></text>
<text transform="translate(1620.5,20) rotate(-90)" font-family="DejaVu Sans, sans-serif" font-size="25.4" fill="#808080" text-anchor="end"><tspan font-style="italic">M</tspan><tspan font-size="18.4" dy="4">SN</tspan></text>
<text transform="translate(1699.7,20) rotate(-90)" font-family="DejaVu Sans, sans-serif" font-size="25.4" fill="#808080" text-anchor="end"><tspan font-style="italic">M</tspan><tspan font-size="18.4" dy="4">FGB</tspan></text>
<text transform="translate(1903.3,20) rotate(-90)" font-family="DejaVu Sans, sans-serif" font-size="25.4" fill="#808080" text-anchor="end"><tspan font-style="italic">M</tspan><tspan font-size="18.4" dy="4">WR</tspan></text>
</g>
<rect x="1224.5" y="13.0" width="911.9" height="781.9" fill="none" stroke="#000" stroke-width="1.6"/>
<path d="M1224.5,794.9v3.2M1253.7,794.9v3.2M1278.3,794.9v3.2M1299.7,794.9v3.2M1318.5,794.9v3.2M1335.4,794.9v6.3M1446.3,794.9v3.2M1511.1,794.9v3.2M1557.1,794.9v3.2M1592.8,794.9v3.2M1622.0,794.9v3.2M1646.6,794.9v3.2M1668.0,794.9v3.2M1686.8,794.9v3.2M1703.7,794.9v6.3M1814.6,794.9v3.2M1879.4,794.9v3.2M1925.4,794.9v3.2M1961.1,794.9v3.2M1990.3,794.9v3.2M2014.9,794.9v3.2M2036.3,794.9v3.2M2055.1,794.9v3.2M2072.0,794.9v6.3M1224.5,789.5h-3.2M1224.5,767.1h-3.2M1224.5,749.7h-3.2M1224.5,735.5h-3.2M1224.5,723.5h-3.2M1224.5,713.1h-3.2M1224.5,703.9h-3.2M1224.5,695.7h-6.3M1224.5,641.7h-3.2M1224.5,610.2h-3.2M1224.5,587.8h-3.2M1224.5,570.4h-3.2M1224.5,556.2h-3.2M1224.5,544.2h-3.2M1224.5,533.8h-3.2M1224.5,524.6h-3.2M1224.5,516.4h-6.3M1224.5,462.4h-3.2M1224.5,430.9h-3.2M1224.5,408.5h-3.2M1224.5,391.1h-3.2M1224.5,376.9h-3.2M1224.5,364.9h-3.2M1224.5,354.5h-3.2M1224.5,345.3h-3.2M1224.5,337.1h-6.3M1224.5,283.1h-3.2M1224.5,251.6h-3.2M1224.5,229.2h-3.2M1224.5,211.8h-3.2M1224.5,197.6h-3.2M1224.5,185.6h-3.2M1224.5,175.2h-3.2M1224.5,166.0h-3.2M1224.5,157.8h-6.3M1224.5,103.8h-3.2M1224.5,72.3h-3.2M1224.5,49.9h-3.2M1224.5,32.5h-3.2M1224.5,18.3h-3.2" stroke="#000" stroke-width="1.4" fill="none"/>
<text x="1335.1" y="830.2" font-family="DejaVu Serif, serif" font-size="30.6" text-anchor="middle" stroke="#000" stroke-width="0.4">10<tspan font-size="22.4" dy="-10.7">0</tspan></text>
<text x="1703.4" y="830.2" font-family="DejaVu Serif, serif" font-size="30.6" text-anchor="middle" stroke="#000" stroke-width="0.4">10<tspan font-size="22.4" dy="-10.7">1</tspan></text>
<text x="2071.7" y="830.2" font-family="DejaVu Serif, serif" font-size="30.6" text-anchor="middle" stroke="#000" stroke-width="0.4">10<tspan font-size="22.4" dy="-10.7">2</tspan></text>
<text x="1210.8" y="706.8" font-family="DejaVu Serif, serif" font-size="30.6" text-anchor="end" stroke="#000" stroke-width="0.4">10<tspan font-size="22.4" dy="-10.7">0</tspan></text>
<text x="1210.8" y="527.5" font-family="DejaVu Serif, serif" font-size="30.6" text-anchor="end" stroke="#000" stroke-width="0.4">10<tspan font-size="22.4" dy="-10.7">1</tspan></text>
<text x="1210.8" y="348.2" font-family="DejaVu Serif, serif" font-size="30.6" text-anchor="end" stroke="#000" stroke-width="0.4">10<tspan font-size="22.4" dy="-10.7">2</tspan></text>
<text x="1210.8" y="168.9" font-family="DejaVu Serif, serif" font-size="30.6" text-anchor="end" stroke="#000" stroke-width="0.4">10<tspan font-size="22.4" dy="-10.7">3</tspan></text>
<text x="1680.5" y="877.1" font-family="DejaVu Sans, sans-serif" font-size="43" text-anchor="middle"><tspan font-style="italic">M</tspan><tspan font-size="31.3" dy="6.9">ZAMS</tspan><tspan dy="-6.9"> [M</tspan><tspan font-size="31.3" dy="6.9">⊙</tspan><tspan dy="-6.9">]</tspan></text>
<text transform="translate(1140.5,404.9) rotate(-90)" font-family="DejaVu Sans, sans-serif" font-size="43" text-anchor="middle"><tspan font-style="italic">R</tspan><tspan font-size="31.3" dy="6.9">max</tspan><tspan dy="-6.9"> [R</tspan><tspan font-size="31.3" dy="6.9">⊙</tspan><tspan dy="-6.9">]</tspan></text>
<text y="771.9" font-family="DejaVu Sans, sans-serif" font-size="30.7"><tspan x="1972.8" font-style="italic">Z</tspan><tspan x="1999.2">=</tspan><tspan x="2030.3" font-size="30.5">0.001</tspan></text>
</svg></body></html>
